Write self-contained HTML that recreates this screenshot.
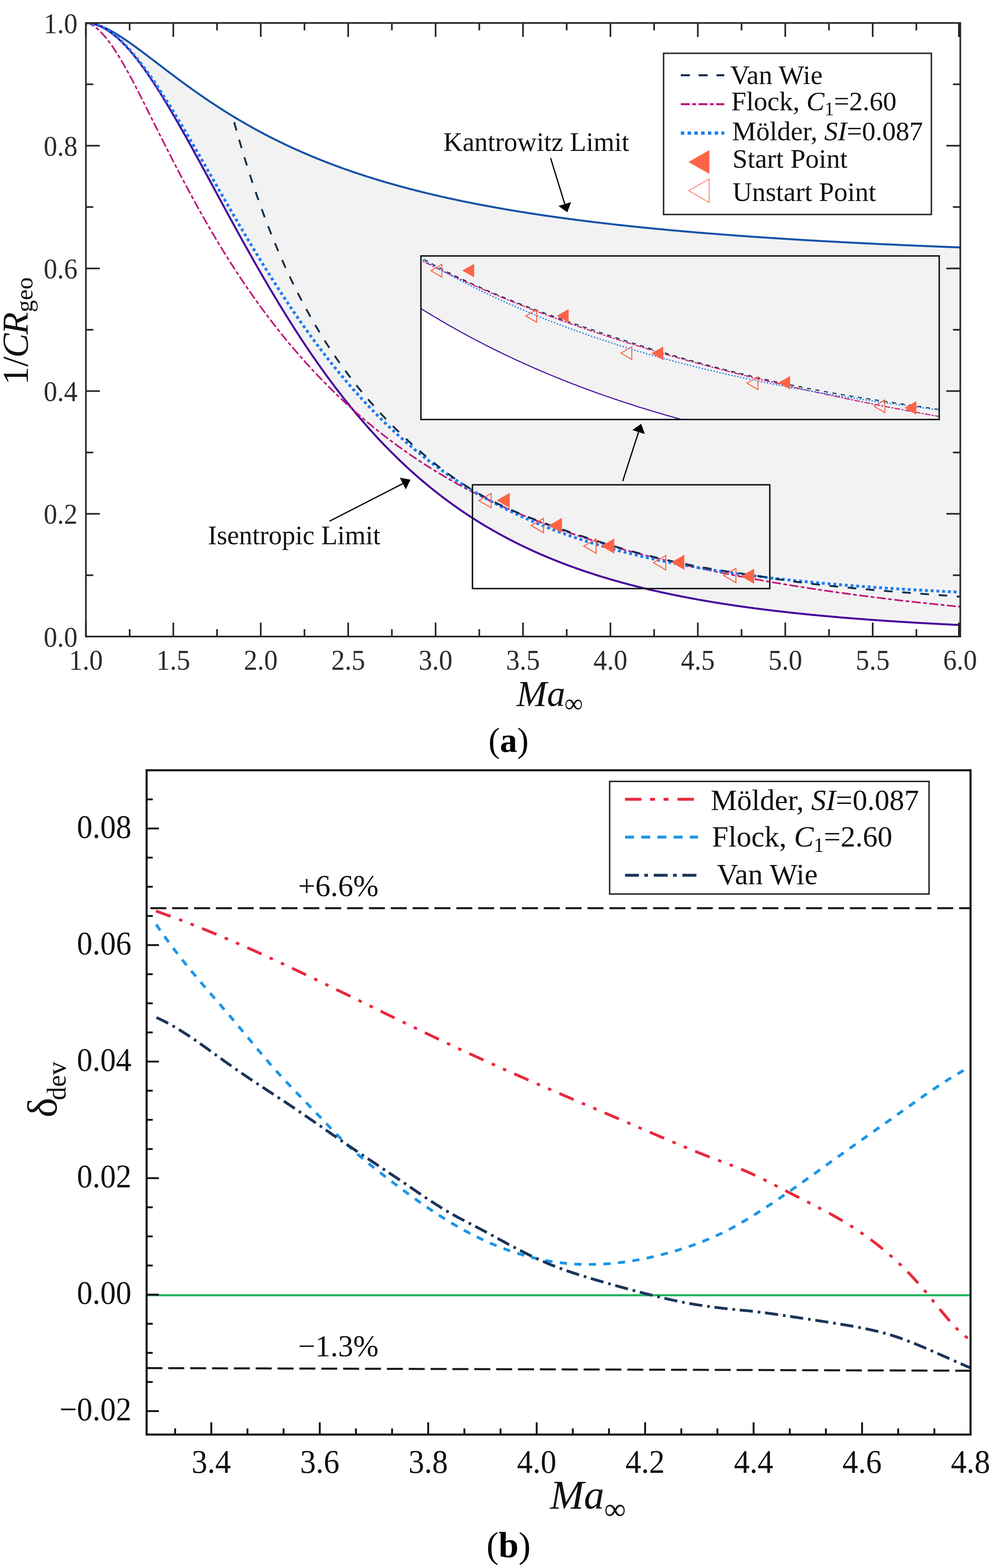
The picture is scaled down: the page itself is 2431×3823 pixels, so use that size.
<!DOCTYPE html><html><head><meta charset="utf-8"><title>Inlet starting limits</title>
<style>html,body{margin:0;padding:0;background:#fff;}svg{display:block;}text{font-family:"Liberation Serif","Times New Roman",serif;}</style></head><body>
<svg width="2431" height="3823" viewBox="0 0 2431 3823">
<rect width="100%" height="100%" fill="#fff"/>
<defs>
<clipPath id="clipA"><rect x="209.5" y="56" width="2132.0" height="1496.0"/></clipPath>
<clipPath id="clipI"><rect x="1026.3" y="624.0" width="1263.8" height="398.79999999999995"/></clipPath>
<clipPath id="clipB"><rect x="357.5" y="1878.0" width="2009.0" height="1619.6999999999998"/></clipPath>
</defs>
<g clip-path="url(#clipA)">
<polygon points="209.5,56.0 211.6,56.0 213.8,56.1 215.9,56.3 218.0,56.5 220.2,56.7 222.3,57.1 224.4,57.4 226.6,57.8 228.7,58.3 230.8,58.8 232.9,59.4 235.1,60.0 237.2,60.6 239.3,61.3 241.5,62.0 243.6,62.8 245.7,63.6 247.9,64.4 250.0,65.3 252.1,66.2 254.3,67.1 256.4,68.1 258.5,69.1 260.7,70.1 262.8,71.1 264.9,72.2 267.1,73.3 269.2,74.4 271.3,75.6 273.4,76.8 275.6,78.0 277.7,79.2 279.8,80.4 282.0,81.7 284.1,83.0 286.2,84.3 288.4,85.6 290.5,86.9 292.6,88.3 294.8,89.7 296.9,91.0 299.0,92.4 301.2,93.9 303.3,95.3 305.4,96.7 307.5,98.2 309.7,99.6 311.8,101.1 313.9,102.6 316.1,104.1 318.2,105.6 320.3,107.1 322.5,108.6 324.6,110.1 326.7,111.7 328.9,113.2 331.0,114.8 333.1,116.3 335.3,117.9 337.4,119.5 339.5,121.1 341.7,122.6 343.8,124.2 345.9,125.8 348.0,127.4 350.2,129.0 352.3,130.6 354.4,132.2 356.6,133.8 358.7,135.4 360.8,137.1 363.0,138.7 365.1,140.3 367.2,141.9 369.4,143.5 371.5,145.2 373.6,146.8 375.8,148.4 377.9,150.0 380.0,151.7 382.2,153.3 384.3,154.9 386.4,156.5 388.5,158.2 390.7,159.8 392.8,161.4 394.9,163.0 397.1,164.7 399.2,166.3 401.3,167.9 403.5,169.5 405.6,171.2 407.7,172.8 409.9,174.4 412.0,176.0 414.1,177.6 416.3,179.2 418.4,180.8 420.5,182.4 422.6,184.0 424.8,185.6 426.9,187.2 429.0,188.8 431.2,190.4 433.3,192.0 435.4,193.6 437.6,195.1 439.7,196.7 441.8,198.3 444.0,199.9 446.1,201.4 448.2,203.0 450.4,204.5 452.5,206.1 454.6,207.7 456.8,209.2 458.9,210.7 461.0,212.3 463.1,213.8 465.3,215.3 467.4,216.9 469.5,218.4 471.7,219.9 473.8,221.4 475.9,222.9 478.1,224.4 480.2,225.9 482.3,227.4 484.5,228.9 486.6,230.4 488.7,231.9 490.9,233.4 493.0,234.8 495.1,236.3 497.3,237.8 499.4,239.2 501.5,240.7 503.6,242.1 505.8,243.6 507.9,245.0 510.0,246.4 512.2,247.9 514.3,249.3 516.4,250.7 518.6,252.1 520.7,253.5 522.8,254.9 525.0,256.3 527.1,257.7 529.2,259.1 531.4,260.5 533.5,261.9 535.6,263.3 537.8,264.6 539.9,266.0 542.0,267.4 544.1,268.7 546.3,270.1 548.4,271.4 550.5,272.8 552.7,274.1 554.8,275.4 556.9,276.7 559.1,278.1 561.2,279.4 563.3,280.7 565.5,282.0 567.6,283.3 569.7,284.6 571.9,285.9 574.0,287.2 576.1,288.4 578.2,289.7 580.4,291.0 582.5,292.2 584.6,293.5 586.8,294.7 588.9,296.0 591.0,297.2 593.2,298.5 595.3,299.7 597.4,300.9 599.6,302.2 601.7,303.4 603.8,304.6 606.0,305.8 608.1,307.0 610.2,308.2 612.4,309.4 614.5,310.6 616.6,311.8 618.7,313.0 620.9,314.1 623.0,315.3 625.1,316.5 627.3,317.6 629.4,318.8 631.5,319.9 633.7,321.1 635.8,322.2 637.9,323.4 640.1,324.5 642.2,325.6 644.3,326.7 646.5,327.9 648.6,329.0 650.7,330.1 652.9,331.2 655.0,332.3 657.1,333.4 659.2,334.5 661.4,335.5 663.5,336.6 665.6,337.7 667.8,338.8 669.9,339.8 672.0,340.9 674.2,342.0 676.3,343.0 678.4,344.1 680.6,345.1 682.7,346.1 684.8,347.2 687.0,348.2 689.1,349.2 691.2,350.3 693.4,351.3 695.5,352.3 697.6,353.3 699.7,354.3 701.9,355.3 704.0,356.3 706.1,357.3 708.3,358.3 710.4,359.3 712.5,360.3 714.7,361.2 716.8,362.2 718.9,363.2 721.1,364.1 723.2,365.1 725.3,366.0 727.5,367.0 729.6,367.9 731.7,368.9 733.8,369.8 736.0,370.8 738.1,371.7 740.2,372.6 742.4,373.5 744.5,374.5 746.6,375.4 748.8,376.3 750.9,377.2 753.0,378.1 755.2,379.0 757.3,379.9 759.4,380.8 761.6,381.7 763.7,382.6 765.8,383.4 768.0,384.3 770.1,385.2 772.2,386.1 774.3,386.9 776.5,387.8 778.6,388.6 780.7,389.5 782.9,390.3 785.0,391.2 787.1,392.0 789.3,392.9 791.4,393.7 793.5,394.6 795.7,395.4 797.8,396.2 799.9,397.0 802.1,397.8 804.2,398.7 806.3,399.5 808.5,400.3 810.6,401.1 812.7,401.9 814.8,402.7 817.0,403.5 819.1,404.3 821.2,405.1 823.4,405.8 825.5,406.6 827.6,407.4 829.8,408.2 831.9,409.0 834.0,409.7 836.2,410.5 838.3,411.3 840.4,412.0 842.6,412.8 844.7,413.5 846.8,414.3 849.0,415.0 851.1,415.8 853.2,416.5 855.3,417.2 857.5,418.0 859.6,418.7 861.7,419.4 863.9,420.2 866.0,420.9 868.1,421.6 870.3,422.3 872.4,423.0 874.5,423.7 876.7,424.4 878.8,425.1 880.9,425.8 883.1,426.5 885.2,427.2 887.3,427.9 889.4,428.6 891.6,429.3 893.7,430.0 895.8,430.7 898.0,431.3 900.1,432.0 902.2,432.7 904.4,433.4 906.5,434.0 908.6,434.7 910.8,435.4 912.9,436.0 915.0,436.7 917.2,437.3 919.3,438.0 921.4,438.6 923.6,439.3 925.7,439.9 927.8,440.5 929.9,441.2 932.1,441.8 934.2,442.4 936.3,443.1 938.5,443.7 940.6,444.3 942.7,445.0 944.9,445.6 947.0,446.2 949.1,446.8 951.3,447.4 953.4,448.0 955.5,448.6 957.7,449.2 959.8,449.8 961.9,450.4 964.1,451.0 966.2,451.6 968.3,452.2 970.4,452.8 972.6,453.4 974.7,454.0 976.8,454.6 979.0,455.1 981.1,455.7 983.2,456.3 985.4,456.9 987.5,457.4 989.6,458.0 991.8,458.6 993.9,459.1 996.0,459.7 998.2,460.3 1000.3,460.8 1002.4,461.4 1004.5,461.9 1006.7,462.5 1008.8,463.0 1010.9,463.6 1013.1,464.1 1015.2,464.7 1017.3,465.2 1019.5,465.7 1021.6,466.3 1023.7,466.8 1025.9,467.3 1028.0,467.9 1030.1,468.4 1032.3,468.9 1034.4,469.4 1036.5,470.0 1038.7,470.5 1040.8,471.0 1042.9,471.5 1045.0,472.0 1047.2,472.5 1049.3,473.0 1051.4,473.5 1053.6,474.0 1055.7,474.6 1057.8,475.1 1060.0,475.5 1062.1,476.0 1064.2,476.5 1066.4,477.0 1068.5,477.5 1070.6,478.0 1072.8,478.5 1074.9,479.0 1077.0,479.5 1079.2,480.0 1081.3,480.4 1083.4,480.9 1085.5,481.4 1087.7,481.9 1089.8,482.3 1091.9,482.8 1094.1,483.3 1096.2,483.7 1098.3,484.2 1100.5,484.7 1102.6,485.1 1104.7,485.6 1106.9,486.0 1109.0,486.5 1111.1,487.0 1113.3,487.4 1115.4,487.9 1117.5,488.3 1119.7,488.8 1121.8,489.2 1123.9,489.6 1126.0,490.1 1128.2,490.5 1130.3,491.0 1132.4,491.4 1134.6,491.8 1136.7,492.3 1138.8,492.7 1141.0,493.1 1143.1,493.6 1145.2,494.0 1147.4,494.4 1149.5,494.8 1151.6,495.3 1153.8,495.7 1155.9,496.1 1158.0,496.5 1160.1,496.9 1162.3,497.4 1164.4,497.8 1166.5,498.2 1168.7,498.6 1170.8,499.0 1172.9,499.4 1175.1,499.8 1177.2,500.2 1179.3,500.6 1181.5,501.0 1183.6,501.4 1185.7,501.8 1187.9,502.2 1190.0,502.6 1192.1,503.0 1194.3,503.4 1196.4,503.8 1198.5,504.2 1200.6,504.6 1202.8,505.0 1204.9,505.3 1207.0,505.7 1209.2,506.1 1211.3,506.5 1213.4,506.9 1215.6,507.2 1217.7,507.6 1219.8,508.0 1222.0,508.4 1224.1,508.7 1226.2,509.1 1228.4,509.5 1230.5,509.9 1232.6,510.2 1234.8,510.6 1236.9,511.0 1239.0,511.3 1241.1,511.7 1243.3,512.0 1245.4,512.4 1247.5,512.8 1249.7,513.1 1251.8,513.5 1253.9,513.8 1256.1,514.2 1258.2,514.5 1260.3,514.9 1262.5,515.2 1264.6,515.6 1266.7,515.9 1268.9,516.3 1271.0,516.6 1273.1,517.0 1275.2,517.3 1277.4,517.6 1279.5,518.0 1281.6,518.3 1283.8,518.7 1285.9,519.0 1288.0,519.3 1290.2,519.7 1292.3,520.0 1294.4,520.3 1296.6,520.7 1298.7,521.0 1300.8,521.3 1303.0,521.6 1305.1,522.0 1307.2,522.3 1309.4,522.6 1311.5,522.9 1313.6,523.3 1315.7,523.6 1317.9,523.9 1320.0,524.2 1322.1,524.5 1324.3,524.8 1326.4,525.2 1328.5,525.5 1330.7,525.8 1332.8,526.1 1334.9,526.4 1337.1,526.7 1339.2,527.0 1341.3,527.3 1343.5,527.6 1345.6,527.9 1347.7,528.2 1349.9,528.5 1352.0,528.8 1354.1,529.1 1356.2,529.4 1358.4,529.7 1360.5,530.0 1362.6,530.3 1364.8,530.6 1366.9,530.9 1369.0,531.2 1371.2,531.5 1373.3,531.8 1375.4,532.1 1377.6,532.4 1379.7,532.7 1381.8,532.9 1384.0,533.2 1386.1,533.5 1388.2,533.8 1390.4,534.1 1392.5,534.4 1394.6,534.7 1396.7,534.9 1398.9,535.2 1401.0,535.5 1403.1,535.8 1405.3,536.0 1407.4,536.3 1409.5,536.6 1411.7,536.9 1413.8,537.1 1415.9,537.4 1418.1,537.7 1420.2,538.0 1422.3,538.2 1424.5,538.5 1426.6,538.8 1428.7,539.0 1430.8,539.3 1433.0,539.6 1435.1,539.8 1437.2,540.1 1439.4,540.3 1441.5,540.6 1443.6,540.9 1445.8,541.1 1447.9,541.4 1450.0,541.6 1452.2,541.9 1454.3,542.2 1456.4,542.4 1458.6,542.7 1460.7,542.9 1462.8,543.2 1465.0,543.4 1467.1,543.7 1469.2,543.9 1471.3,544.2 1473.5,544.4 1475.6,544.7 1477.7,544.9 1479.9,545.2 1482.0,545.4 1484.1,545.7 1486.3,545.9 1488.4,546.1 1490.5,546.4 1492.7,546.6 1494.8,546.9 1496.9,547.1 1499.1,547.3 1501.2,547.6 1503.3,547.8 1505.5,548.1 1507.6,548.3 1509.7,548.5 1511.8,548.8 1514.0,549.0 1516.1,549.2 1518.2,549.5 1520.4,549.7 1522.5,549.9 1524.6,550.2 1526.8,550.4 1528.9,550.6 1531.0,550.8 1533.2,551.1 1535.3,551.3 1537.4,551.5 1539.6,551.8 1541.7,552.0 1543.8,552.2 1546.0,552.4 1548.1,552.6 1550.2,552.9 1552.3,553.1 1554.5,553.3 1556.6,553.5 1558.7,553.7 1560.9,554.0 1563.0,554.2 1565.1,554.4 1567.3,554.6 1569.4,554.8 1571.5,555.0 1573.7,555.3 1575.8,555.5 1577.9,555.7 1580.1,555.9 1582.2,556.1 1584.3,556.3 1586.4,556.5 1588.6,556.7 1590.7,556.9 1592.8,557.2 1595.0,557.4 1597.1,557.6 1599.2,557.8 1601.4,558.0 1603.5,558.2 1605.6,558.4 1607.8,558.6 1609.9,558.8 1612.0,559.0 1614.2,559.2 1616.3,559.4 1618.4,559.6 1620.6,559.8 1622.7,560.0 1624.8,560.2 1626.9,560.4 1629.1,560.6 1631.2,560.8 1633.3,561.0 1635.5,561.2 1637.6,561.4 1639.7,561.6 1641.9,561.8 1644.0,562.0 1646.1,562.1 1648.3,562.3 1650.4,562.5 1652.5,562.7 1654.7,562.9 1656.8,563.1 1658.9,563.3 1661.1,563.5 1663.2,563.7 1665.3,563.9 1667.4,564.0 1669.6,564.2 1671.7,564.4 1673.8,564.6 1676.0,564.8 1678.1,565.0 1680.2,565.2 1682.4,565.3 1684.5,565.5 1686.6,565.7 1688.8,565.9 1690.9,566.1 1693.0,566.2 1695.2,566.4 1697.3,566.6 1699.4,566.8 1701.5,567.0 1703.7,567.1 1705.8,567.3 1707.9,567.5 1710.1,567.7 1712.2,567.8 1714.3,568.0 1716.5,568.2 1718.6,568.4 1720.7,568.5 1722.9,568.7 1725.0,568.9 1727.1,569.1 1729.3,569.2 1731.4,569.4 1733.5,569.6 1735.7,569.7 1737.8,569.9 1739.9,570.1 1742.0,570.2 1744.2,570.4 1746.3,570.6 1748.4,570.7 1750.6,570.9 1752.7,571.1 1754.8,571.2 1757.0,571.4 1759.1,571.6 1761.2,571.7 1763.4,571.9 1765.5,572.1 1767.6,572.2 1769.8,572.4 1771.9,572.6 1774.0,572.7 1776.2,572.9 1778.3,573.0 1780.4,573.2 1782.5,573.4 1784.7,573.5 1786.8,573.7 1788.9,573.8 1791.1,574.0 1793.2,574.1 1795.3,574.3 1797.5,574.5 1799.6,574.6 1801.7,574.8 1803.9,574.9 1806.0,575.1 1808.1,575.2 1810.3,575.4 1812.4,575.5 1814.5,575.7 1816.7,575.8 1818.8,576.0 1820.9,576.1 1823.0,576.3 1825.2,576.4 1827.3,576.6 1829.4,576.7 1831.6,576.9 1833.7,577.0 1835.8,577.2 1838.0,577.3 1840.1,577.5 1842.2,577.6 1844.4,577.8 1846.5,577.9 1848.6,578.1 1850.8,578.2 1852.9,578.4 1855.0,578.5 1857.1,578.7 1859.3,578.8 1861.4,578.9 1863.5,579.1 1865.7,579.2 1867.8,579.4 1869.9,579.5 1872.1,579.7 1874.2,579.8 1876.3,579.9 1878.5,580.1 1880.6,580.2 1882.7,580.4 1884.9,580.5 1887.0,580.6 1889.1,580.8 1891.3,580.9 1893.4,581.0 1895.5,581.2 1897.6,581.3 1899.8,581.5 1901.9,581.6 1904.0,581.7 1906.2,581.9 1908.3,582.0 1910.4,582.1 1912.6,582.3 1914.7,582.4 1916.8,582.5 1919.0,582.7 1921.1,582.8 1923.2,582.9 1925.4,583.1 1927.5,583.2 1929.6,583.3 1931.8,583.5 1933.9,583.6 1936.0,583.7 1938.1,583.9 1940.3,584.0 1942.4,584.1 1944.5,584.2 1946.7,584.4 1948.8,584.5 1950.9,584.6 1953.1,584.8 1955.2,584.9 1957.3,585.0 1959.5,585.1 1961.6,585.3 1963.7,585.4 1965.9,585.5 1968.0,585.6 1970.1,585.8 1972.3,585.9 1974.4,586.0 1976.5,586.1 1978.6,586.3 1980.8,586.4 1982.9,586.5 1985.0,586.6 1987.2,586.7 1989.3,586.9 1991.4,587.0 1993.6,587.1 1995.7,587.2 1997.8,587.4 2000.0,587.5 2002.1,587.6 2004.2,587.7 2006.4,587.8 2008.5,588.0 2010.6,588.1 2012.7,588.2 2014.9,588.3 2017.0,588.4 2019.1,588.5 2021.3,588.7 2023.4,588.8 2025.5,588.9 2027.7,589.0 2029.8,589.1 2031.9,589.2 2034.1,589.4 2036.2,589.5 2038.3,589.6 2040.5,589.7 2042.6,589.8 2044.7,589.9 2046.9,590.0 2049.0,590.2 2051.1,590.3 2053.2,590.4 2055.4,590.5 2057.5,590.6 2059.6,590.7 2061.8,590.8 2063.9,590.9 2066.0,591.0 2068.2,591.2 2070.3,591.3 2072.4,591.4 2074.6,591.5 2076.7,591.6 2078.8,591.7 2081.0,591.8 2083.1,591.9 2085.2,592.0 2087.4,592.1 2089.5,592.2 2091.6,592.4 2093.7,592.5 2095.9,592.6 2098.0,592.7 2100.1,592.8 2102.3,592.9 2104.4,593.0 2106.5,593.1 2108.7,593.2 2110.8,593.3 2112.9,593.4 2115.1,593.5 2117.2,593.6 2119.3,593.7 2121.5,593.8 2123.6,593.9 2125.7,594.0 2127.9,594.1 2130.0,594.2 2132.1,594.3 2134.2,594.5 2136.4,594.6 2138.5,594.7 2140.6,594.8 2142.8,594.9 2144.9,595.0 2147.0,595.1 2149.2,595.2 2151.3,595.3 2153.4,595.4 2155.6,595.5 2157.7,595.6 2159.8,595.7 2162.0,595.8 2164.1,595.9 2166.2,596.0 2168.3,596.1 2170.5,596.2 2172.6,596.2 2174.7,596.3 2176.9,596.4 2179.0,596.5 2181.1,596.6 2183.3,596.7 2185.4,596.8 2187.5,596.9 2189.7,597.0 2191.8,597.1 2193.9,597.2 2196.1,597.3 2198.2,597.4 2200.3,597.5 2202.5,597.6 2204.6,597.7 2206.7,597.8 2208.8,597.9 2211.0,598.0 2213.1,598.1 2215.2,598.2 2217.4,598.2 2219.5,598.3 2221.6,598.4 2223.8,598.5 2225.9,598.6 2228.0,598.7 2230.2,598.8 2232.3,598.9 2234.4,599.0 2236.6,599.1 2238.7,599.2 2240.8,599.3 2243.0,599.3 2245.1,599.4 2247.2,599.5 2249.3,599.6 2251.5,599.7 2253.6,599.8 2255.7,599.9 2257.9,600.0 2260.0,600.1 2262.1,600.1 2264.3,600.2 2266.4,600.3 2268.5,600.4 2270.7,600.5 2272.8,600.6 2274.9,600.7 2277.1,600.8 2279.2,600.8 2281.3,600.9 2283.4,601.0 2285.6,601.1 2287.7,601.2 2289.8,601.3 2292.0,601.4 2294.1,601.4 2296.2,601.5 2298.4,601.6 2300.5,601.7 2302.6,601.8 2304.8,601.9 2306.9,601.9 2309.0,602.0 2311.2,602.1 2313.3,602.2 2315.4,602.3 2317.6,602.4 2319.7,602.4 2321.8,602.5 2323.9,602.6 2326.1,602.7 2328.2,602.8 2330.3,602.9 2332.5,602.9 2334.6,603.0 2336.7,603.1 2338.9,603.2 2341.0,603.3 2341.0,1523.9 2338.9,1523.8 2336.7,1523.7 2334.6,1523.6 2332.5,1523.5 2330.3,1523.4 2328.2,1523.3 2326.1,1523.2 2323.9,1523.1 2321.8,1523.0 2319.7,1522.8 2317.6,1522.7 2315.4,1522.6 2313.3,1522.5 2311.2,1522.4 2309.0,1522.3 2306.9,1522.2 2304.8,1522.1 2302.6,1522.0 2300.5,1521.9 2298.4,1521.8 2296.2,1521.7 2294.1,1521.6 2292.0,1521.5 2289.8,1521.3 2287.7,1521.2 2285.6,1521.1 2283.4,1521.0 2281.3,1520.9 2279.2,1520.8 2277.1,1520.7 2274.9,1520.6 2272.8,1520.4 2270.7,1520.3 2268.5,1520.2 2266.4,1520.1 2264.3,1520.0 2262.1,1519.9 2260.0,1519.7 2257.9,1519.6 2255.7,1519.5 2253.6,1519.4 2251.5,1519.3 2249.3,1519.2 2247.2,1519.0 2245.1,1518.9 2243.0,1518.8 2240.8,1518.7 2238.7,1518.6 2236.6,1518.4 2234.4,1518.3 2232.3,1518.2 2230.2,1518.1 2228.0,1517.9 2225.9,1517.8 2223.8,1517.7 2221.6,1517.6 2219.5,1517.4 2217.4,1517.3 2215.2,1517.2 2213.1,1517.0 2211.0,1516.9 2208.8,1516.8 2206.7,1516.7 2204.6,1516.5 2202.5,1516.4 2200.3,1516.3 2198.2,1516.1 2196.1,1516.0 2193.9,1515.9 2191.8,1515.7 2189.7,1515.6 2187.5,1515.5 2185.4,1515.3 2183.3,1515.2 2181.1,1515.0 2179.0,1514.9 2176.9,1514.8 2174.7,1514.6 2172.6,1514.5 2170.5,1514.4 2168.3,1514.2 2166.2,1514.1 2164.1,1513.9 2162.0,1513.8 2159.8,1513.6 2157.7,1513.5 2155.6,1513.4 2153.4,1513.2 2151.3,1513.1 2149.2,1512.9 2147.0,1512.8 2144.9,1512.6 2142.8,1512.5 2140.6,1512.3 2138.5,1512.2 2136.4,1512.0 2134.2,1511.9 2132.1,1511.7 2130.0,1511.6 2127.9,1511.4 2125.7,1511.3 2123.6,1511.1 2121.5,1511.0 2119.3,1510.8 2117.2,1510.7 2115.1,1510.5 2112.9,1510.3 2110.8,1510.2 2108.7,1510.0 2106.5,1509.9 2104.4,1509.7 2102.3,1509.5 2100.1,1509.4 2098.0,1509.2 2095.9,1509.1 2093.7,1508.9 2091.6,1508.7 2089.5,1508.6 2087.4,1508.4 2085.2,1508.2 2083.1,1508.1 2081.0,1507.9 2078.8,1507.7 2076.7,1507.6 2074.6,1507.4 2072.4,1507.2 2070.3,1507.0 2068.2,1506.9 2066.0,1506.7 2063.9,1506.5 2061.8,1506.3 2059.6,1506.2 2057.5,1506.0 2055.4,1505.8 2053.2,1505.6 2051.1,1505.5 2049.0,1505.3 2046.9,1505.1 2044.7,1504.9 2042.6,1504.7 2040.5,1504.5 2038.3,1504.4 2036.2,1504.2 2034.1,1504.0 2031.9,1503.8 2029.8,1503.6 2027.7,1503.4 2025.5,1503.2 2023.4,1503.1 2021.3,1502.9 2019.1,1502.7 2017.0,1502.5 2014.9,1502.3 2012.7,1502.1 2010.6,1501.9 2008.5,1501.7 2006.4,1501.5 2004.2,1501.3 2002.1,1501.1 2000.0,1500.9 1997.8,1500.7 1995.7,1500.5 1993.6,1500.3 1991.4,1500.1 1989.3,1499.9 1987.2,1499.7 1985.0,1499.5 1982.9,1499.3 1980.8,1499.1 1978.6,1498.9 1976.5,1498.7 1974.4,1498.5 1972.3,1498.2 1970.1,1498.0 1968.0,1497.8 1965.9,1497.6 1963.7,1497.4 1961.6,1497.2 1959.5,1497.0 1957.3,1496.7 1955.2,1496.5 1953.1,1496.3 1950.9,1496.1 1948.8,1495.9 1946.7,1495.6 1944.5,1495.4 1942.4,1495.2 1940.3,1495.0 1938.1,1494.7 1936.0,1494.5 1933.9,1494.3 1931.8,1494.0 1929.6,1493.8 1927.5,1493.6 1925.4,1493.3 1923.2,1493.1 1921.1,1492.9 1919.0,1492.6 1916.8,1492.4 1914.7,1492.2 1912.6,1491.9 1910.4,1491.7 1908.3,1491.4 1906.2,1491.2 1904.0,1490.9 1901.9,1490.7 1899.8,1490.5 1897.6,1490.2 1895.5,1490.0 1893.4,1489.7 1891.3,1489.5 1889.1,1489.2 1887.0,1489.0 1884.9,1488.7 1882.7,1488.4 1880.6,1488.2 1878.5,1487.9 1876.3,1487.7 1874.2,1487.4 1872.1,1487.1 1869.9,1486.9 1867.8,1486.6 1865.7,1486.4 1863.5,1486.1 1861.4,1485.8 1859.3,1485.5 1857.1,1485.3 1855.0,1485.0 1852.9,1484.7 1850.8,1484.5 1848.6,1484.2 1846.5,1483.9 1844.4,1483.6 1842.2,1483.3 1840.1,1483.1 1838.0,1482.8 1835.8,1482.5 1833.7,1482.2 1831.6,1481.9 1829.4,1481.6 1827.3,1481.4 1825.2,1481.1 1823.0,1480.8 1820.9,1480.5 1818.8,1480.2 1816.7,1479.9 1814.5,1479.6 1812.4,1479.3 1810.3,1479.0 1808.1,1478.7 1806.0,1478.4 1803.9,1478.1 1801.7,1477.8 1799.6,1477.5 1797.5,1477.2 1795.3,1476.9 1793.2,1476.5 1791.1,1476.2 1788.9,1475.9 1786.8,1475.6 1784.7,1475.3 1782.5,1475.0 1780.4,1474.7 1778.3,1474.3 1776.2,1474.0 1774.0,1473.7 1771.9,1473.4 1769.8,1473.0 1767.6,1472.7 1765.5,1472.4 1763.4,1472.0 1761.2,1471.7 1759.1,1471.4 1757.0,1471.0 1754.8,1470.7 1752.7,1470.3 1750.6,1470.0 1748.4,1469.7 1746.3,1469.3 1744.2,1469.0 1742.0,1468.6 1739.9,1468.3 1737.8,1467.9 1735.7,1467.6 1733.5,1467.2 1731.4,1466.9 1729.3,1466.5 1727.1,1466.1 1725.0,1465.8 1722.9,1465.4 1720.7,1465.0 1718.6,1464.7 1716.5,1464.3 1714.3,1463.9 1712.2,1463.6 1710.1,1463.2 1707.9,1462.8 1705.8,1462.4 1703.7,1462.1 1701.5,1461.7 1699.4,1461.3 1697.3,1460.9 1695.2,1460.5 1693.0,1460.1 1690.9,1459.7 1688.8,1459.3 1686.6,1459.0 1684.5,1458.6 1682.4,1458.2 1680.2,1457.8 1678.1,1457.4 1676.0,1456.9 1673.8,1456.5 1671.7,1456.1 1669.6,1455.7 1667.4,1455.3 1665.3,1454.9 1663.2,1454.5 1661.1,1454.1 1658.9,1453.6 1656.8,1453.2 1654.7,1452.8 1652.5,1452.4 1650.4,1451.9 1648.3,1451.5 1646.1,1451.1 1644.0,1450.6 1641.9,1450.2 1639.7,1449.8 1637.6,1449.3 1635.5,1448.9 1633.3,1448.4 1631.2,1448.0 1629.1,1447.5 1626.9,1447.1 1624.8,1446.6 1622.7,1446.2 1620.6,1445.7 1618.4,1445.3 1616.3,1444.8 1614.2,1444.3 1612.0,1443.9 1609.9,1443.4 1607.8,1442.9 1605.6,1442.4 1603.5,1442.0 1601.4,1441.5 1599.2,1441.0 1597.1,1440.5 1595.0,1440.0 1592.8,1439.6 1590.7,1439.1 1588.6,1438.6 1586.4,1438.1 1584.3,1437.6 1582.2,1437.1 1580.1,1436.6 1577.9,1436.1 1575.8,1435.6 1573.7,1435.0 1571.5,1434.5 1569.4,1434.0 1567.3,1433.5 1565.1,1433.0 1563.0,1432.5 1560.9,1431.9 1558.7,1431.4 1556.6,1430.9 1554.5,1430.3 1552.3,1429.8 1550.2,1429.3 1548.1,1428.7 1546.0,1428.2 1543.8,1427.6 1541.7,1427.1 1539.6,1426.5 1537.4,1426.0 1535.3,1425.4 1533.2,1424.9 1531.0,1424.3 1528.9,1423.7 1526.8,1423.2 1524.6,1422.6 1522.5,1422.0 1520.4,1421.4 1518.2,1420.9 1516.1,1420.3 1514.0,1419.7 1511.8,1419.1 1509.7,1418.5 1507.6,1417.9 1505.5,1417.3 1503.3,1416.7 1501.2,1416.1 1499.1,1415.5 1496.9,1414.9 1494.8,1414.3 1492.7,1413.7 1490.5,1413.1 1488.4,1412.4 1486.3,1411.8 1484.1,1411.2 1482.0,1410.5 1479.9,1409.9 1477.7,1409.3 1475.6,1408.6 1473.5,1408.0 1471.3,1407.3 1469.2,1406.7 1467.1,1406.0 1465.0,1405.4 1462.8,1404.7 1460.7,1404.1 1458.6,1403.4 1456.4,1402.7 1454.3,1402.1 1452.2,1401.4 1450.0,1400.7 1447.9,1400.0 1445.8,1399.3 1443.6,1398.6 1441.5,1397.9 1439.4,1397.3 1437.2,1396.6 1435.1,1395.8 1433.0,1395.1 1430.8,1394.4 1428.7,1393.7 1426.6,1393.0 1424.5,1392.3 1422.3,1391.6 1420.2,1390.8 1418.1,1390.1 1415.9,1389.4 1413.8,1388.6 1411.7,1387.9 1409.5,1387.1 1407.4,1386.4 1405.3,1385.6 1403.1,1384.9 1401.0,1384.1 1398.9,1383.3 1396.7,1382.6 1394.6,1381.8 1392.5,1381.0 1390.4,1380.2 1388.2,1379.4 1386.1,1378.7 1384.0,1377.9 1381.8,1377.1 1379.7,1376.3 1377.6,1375.5 1375.4,1374.6 1373.3,1373.8 1371.2,1373.0 1369.0,1372.2 1366.9,1371.4 1364.8,1370.5 1362.6,1369.7 1360.5,1368.9 1358.4,1368.0 1356.2,1367.2 1354.1,1366.3 1352.0,1365.5 1349.9,1364.6 1347.7,1363.8 1345.6,1362.9 1343.5,1362.0 1341.3,1361.1 1339.2,1360.3 1337.1,1359.4 1334.9,1358.5 1332.8,1357.6 1330.7,1356.7 1328.5,1355.8 1326.4,1354.9 1324.3,1354.0 1322.1,1353.0 1320.0,1352.1 1317.9,1351.2 1315.7,1350.3 1313.6,1349.3 1311.5,1348.4 1309.4,1347.4 1307.2,1346.5 1305.1,1345.5 1303.0,1344.6 1300.8,1343.6 1298.7,1342.6 1296.6,1341.7 1294.4,1340.7 1292.3,1339.7 1290.2,1338.7 1288.0,1337.7 1285.9,1336.7 1283.8,1335.7 1281.6,1334.7 1279.5,1333.7 1277.4,1332.7 1275.2,1331.7 1273.1,1330.6 1271.0,1329.6 1268.9,1328.6 1266.7,1327.5 1264.6,1326.5 1262.5,1325.4 1260.3,1324.4 1258.2,1323.3 1256.1,1322.2 1253.9,1321.1 1251.8,1320.1 1249.7,1319.0 1247.5,1317.9 1245.4,1316.8 1243.3,1315.7 1241.1,1314.6 1239.0,1313.5 1236.9,1312.3 1234.8,1311.2 1232.6,1310.1 1230.5,1308.9 1228.4,1307.8 1226.2,1306.6 1224.1,1305.5 1222.0,1304.3 1219.8,1303.2 1217.7,1302.0 1215.6,1300.8 1213.4,1299.6 1211.3,1298.4 1209.2,1297.2 1207.0,1296.0 1204.9,1294.8 1202.8,1293.6 1200.6,1292.4 1198.5,1291.2 1196.4,1289.9 1194.3,1288.7 1192.1,1287.5 1190.0,1286.2 1187.9,1285.0 1185.7,1283.7 1183.6,1282.4 1181.5,1281.2 1179.3,1279.9 1177.2,1278.6 1175.1,1277.3 1172.9,1276.0 1170.8,1274.7 1168.7,1273.4 1166.5,1272.0 1164.4,1270.7 1162.3,1269.4 1160.1,1268.0 1158.0,1266.7 1155.9,1265.3 1153.8,1264.0 1151.6,1262.6 1149.5,1261.2 1147.4,1259.9 1145.2,1258.5 1143.1,1257.1 1141.0,1255.7 1138.8,1254.3 1136.7,1252.9 1134.6,1251.4 1132.4,1250.0 1130.3,1248.6 1128.2,1247.1 1126.0,1245.7 1123.9,1244.2 1121.8,1242.8 1119.7,1241.3 1117.5,1239.8 1115.4,1238.3 1113.3,1236.8 1111.1,1235.3 1109.0,1233.8 1106.9,1232.3 1104.7,1230.8 1102.6,1229.3 1100.5,1227.7 1098.3,1226.2 1096.2,1224.6 1094.1,1223.1 1091.9,1221.5 1089.8,1219.9 1087.7,1218.3 1085.5,1216.7 1083.4,1215.1 1081.3,1213.5 1079.2,1211.9 1077.0,1210.3 1074.9,1208.7 1072.8,1207.0 1070.6,1205.4 1068.5,1203.7 1066.4,1202.1 1064.2,1200.4 1062.1,1198.7 1060.0,1197.0 1057.8,1195.3 1055.7,1193.6 1053.6,1191.9 1051.4,1190.2 1049.3,1188.5 1047.2,1186.7 1045.0,1185.0 1042.9,1183.2 1040.8,1181.5 1038.7,1179.7 1036.5,1177.9 1034.4,1176.1 1032.3,1174.4 1030.1,1172.6 1028.0,1170.7 1025.9,1168.9 1023.7,1167.1 1021.6,1165.3 1019.5,1163.4 1017.3,1161.5 1015.2,1159.7 1013.1,1157.8 1010.9,1155.9 1008.8,1154.0 1006.7,1152.1 1004.5,1150.2 1002.4,1148.3 1000.3,1146.4 998.2,1144.5 996.0,1142.5 993.9,1140.6 991.8,1138.6 989.6,1136.6 987.5,1134.6 985.4,1132.6 983.2,1130.6 981.1,1128.6 979.0,1126.6 976.8,1124.6 974.7,1122.5 972.6,1120.5 970.4,1118.4 968.3,1116.4 966.2,1114.3 964.1,1112.2 961.9,1110.1 959.8,1108.0 957.7,1105.9 955.5,1103.8 953.4,1101.6 951.3,1099.5 949.1,1097.4 947.0,1095.2 944.9,1093.0 942.7,1090.8 940.6,1088.6 938.5,1086.4 936.3,1084.2 934.2,1082.0 932.1,1079.8 929.9,1077.5 927.8,1075.3 925.7,1073.0 923.6,1070.7 921.4,1068.5 919.3,1066.2 917.2,1063.9 915.0,1061.6 912.9,1059.2 910.8,1056.9 908.6,1054.5 906.5,1052.2 904.4,1049.8 902.2,1047.5 900.1,1045.1 898.0,1042.7 895.8,1040.3 893.7,1037.8 891.6,1035.4 889.4,1033.0 887.3,1030.5 885.2,1028.1 883.1,1025.6 880.9,1023.1 878.8,1020.6 876.7,1018.1 874.5,1015.6 872.4,1013.1 870.3,1010.6 868.1,1008.0 866.0,1005.5 863.9,1002.9 861.7,1000.3 859.6,997.7 857.5,995.1 855.3,992.5 853.2,989.9 851.1,987.3 849.0,984.6 846.8,982.0 844.7,979.3 842.6,976.6 840.4,973.9 838.3,971.3 836.2,968.5 834.0,965.8 831.9,963.1 829.8,960.4 827.6,957.6 825.5,954.8 823.4,952.1 821.2,949.3 819.1,946.5 817.0,943.7 814.8,940.9 812.7,938.0 810.6,935.2 808.5,932.3 806.3,929.5 804.2,926.6 802.1,923.7 799.9,920.8 797.8,917.9 795.7,915.0 793.5,912.1 791.4,909.1 789.3,906.2 787.1,903.2 785.0,900.2 782.9,897.2 780.7,894.2 778.6,891.2 776.5,888.2 774.3,885.2 772.2,882.1 770.1,879.1 768.0,876.0 765.8,873.0 763.7,869.9 761.6,866.8 759.4,863.7 757.3,860.5 755.2,857.4 753.0,854.3 750.9,851.1 748.8,848.0 746.6,844.8 744.5,841.6 742.4,838.4 740.2,835.2 738.1,832.0 736.0,828.8 733.8,825.5 731.7,822.3 729.6,819.0 727.5,815.7 725.3,812.5 723.2,809.2 721.1,805.9 718.9,802.5 716.8,799.2 714.7,795.9 712.5,792.5 710.4,789.2 708.3,785.8 706.1,782.4 704.0,779.0 701.9,775.6 699.7,772.2 697.6,768.8 695.5,765.4 693.4,762.0 691.2,758.5 689.1,755.0 687.0,751.6 684.8,748.1 682.7,744.6 680.6,741.1 678.4,737.6 676.3,734.1 674.2,730.6 672.0,727.0 669.9,723.5 667.8,719.9 665.6,716.4 663.5,712.8 661.4,709.2 659.2,705.6 657.1,702.0 655.0,698.4 652.9,694.8 650.7,691.1 648.6,687.5 646.5,683.8 644.3,680.2 642.2,676.5 640.1,672.9 637.9,669.2 635.8,665.5 633.7,661.8 631.5,658.1 629.4,654.4 627.3,650.6 625.1,646.9 623.0,643.2 620.9,639.4 618.7,635.7 616.6,631.9 614.5,628.1 612.4,624.4 610.2,620.6 608.1,616.8 606.0,613.0 603.8,609.2 601.7,605.4 599.6,601.6 597.4,597.8 595.3,593.9 593.2,590.1 591.0,586.3 588.9,582.4 586.8,578.6 584.6,574.7 582.5,570.8 580.4,567.0 578.2,563.1 576.1,559.2 574.0,555.3 571.9,551.5 569.7,547.6 567.6,543.7 565.5,539.8 563.3,535.9 561.2,532.0 559.1,528.1 556.9,524.1 554.8,520.2 552.7,516.3 550.5,512.4 548.4,508.4 546.3,504.5 544.1,500.6 542.0,496.7 539.9,492.7 537.8,488.8 535.6,484.8 533.5,480.9 531.4,477.0 529.2,473.0 527.1,469.1 525.0,465.1 522.8,461.2 520.7,457.2 518.6,453.3 516.4,449.4 514.3,445.4 512.2,441.5 510.0,437.5 507.9,433.6 505.8,429.6 503.6,425.7 501.5,421.8 499.4,417.8 497.3,413.9 495.1,410.0 493.0,406.1 490.9,402.1 488.7,398.2 486.6,394.3 484.5,390.4 482.3,386.5 480.2,382.6 478.1,378.7 475.9,374.8 473.8,370.9 471.7,367.0 469.5,363.2 467.4,359.3 465.3,355.4 463.1,351.6 461.0,347.7 458.9,343.9 456.8,340.1 454.6,336.2 452.5,332.4 450.4,328.6 448.2,324.8 446.1,321.0 444.0,317.2 441.8,313.5 439.7,309.7 437.6,306.0 435.4,302.2 433.3,298.5 431.2,294.8 429.0,291.1 426.9,287.4 424.8,283.7 422.6,280.1 420.5,276.4 418.4,272.8 416.3,269.2 414.1,265.6 412.0,262.0 409.9,258.4 407.7,254.8 405.6,251.3 403.5,247.8 401.3,244.3 399.2,240.8 397.1,237.3 394.9,233.8 392.8,230.4 390.7,227.0 388.5,223.6 386.4,220.2 384.3,216.9 382.2,213.5 380.0,210.2 377.9,206.9 375.8,203.6 373.6,200.4 371.5,197.2 369.4,194.0 367.2,190.8 365.1,187.6 363.0,184.5 360.8,181.4 358.7,178.3 356.6,175.3 354.4,172.2 352.3,169.2 350.2,166.3 348.0,163.3 345.9,160.4 343.8,157.5 341.7,154.7 339.5,151.8 337.4,149.0 335.3,146.3 333.1,143.5 331.0,140.8 328.9,138.1 326.7,135.5 324.6,132.9 322.5,130.3 320.3,127.8 318.2,125.3 316.1,122.8 313.9,120.4 311.8,118.0 309.7,115.6 307.5,113.3 305.4,111.0 303.3,108.8 301.2,106.6 299.0,104.4 296.9,102.3 294.8,100.2 292.6,98.1 290.5,96.1 288.4,94.2 286.2,92.3 284.1,90.4 282.0,88.5 279.8,86.8 277.7,85.0 275.6,83.3 273.4,81.7 271.3,80.1 269.2,78.5 267.1,77.0 264.9,75.5 262.8,74.1 260.7,72.7 258.5,71.4 256.4,70.1 254.3,68.9 252.1,67.8 250.0,66.6 247.9,65.6 245.7,64.6 243.6,63.6 241.5,62.7 239.3,61.9 237.2,61.1 235.1,60.3 232.9,59.7 230.8,59.0 228.7,58.5 226.6,58.0 224.4,57.5 222.3,57.1 220.2,56.8 218.0,56.5 215.9,56.3 213.8,56.1 211.6,56.0 209.5,56.0" fill="#f2f2f2"/>
<polyline points="209.5,56.0 211.6,56.0 213.8,56.1 215.9,56.3 218.0,56.5 220.2,56.7 222.3,57.1 224.4,57.4 226.6,57.8 228.7,58.3 230.8,58.8 232.9,59.4 235.1,60.0 237.2,60.6 239.3,61.3 241.5,62.0 243.6,62.8 245.7,63.6 247.9,64.4 250.0,65.3 252.1,66.2 254.3,67.1 256.4,68.1 258.5,69.1 260.7,70.1 262.8,71.1 264.9,72.2 267.1,73.3 269.2,74.4 271.3,75.6 273.4,76.8 275.6,78.0 277.7,79.2 279.8,80.4 282.0,81.7 284.1,83.0 286.2,84.3 288.4,85.6 290.5,86.9 292.6,88.3 294.8,89.7 296.9,91.0 299.0,92.4 301.2,93.9 303.3,95.3 305.4,96.7 307.5,98.2 309.7,99.6 311.8,101.1 313.9,102.6 316.1,104.1 318.2,105.6 320.3,107.1 322.5,108.6 324.6,110.1 326.7,111.7 328.9,113.2 331.0,114.8 333.1,116.3 335.3,117.9 337.4,119.5 339.5,121.1 341.7,122.6 343.8,124.2 345.9,125.8 348.0,127.4 350.2,129.0 352.3,130.6 354.4,132.2 356.6,133.8 358.7,135.4 360.8,137.1 363.0,138.7 365.1,140.3 367.2,141.9 369.4,143.5 371.5,145.2 373.6,146.8 375.8,148.4 377.9,150.0 380.0,151.7 382.2,153.3 384.3,154.9 386.4,156.5 388.5,158.2 390.7,159.8 392.8,161.4 394.9,163.0 397.1,164.7 399.2,166.3 401.3,167.9 403.5,169.5 405.6,171.2 407.7,172.8 409.9,174.4 412.0,176.0 414.1,177.6 416.3,179.2 418.4,180.8 420.5,182.4 422.6,184.0 424.8,185.6 426.9,187.2 429.0,188.8 431.2,190.4 433.3,192.0 435.4,193.6 437.6,195.1 439.7,196.7 441.8,198.3 444.0,199.9 446.1,201.4 448.2,203.0 450.4,204.5 452.5,206.1 454.6,207.7 456.8,209.2 458.9,210.7 461.0,212.3 463.1,213.8 465.3,215.3 467.4,216.9 469.5,218.4 471.7,219.9 473.8,221.4 475.9,222.9 478.1,224.4 480.2,225.9 482.3,227.4 484.5,228.9 486.6,230.4 488.7,231.9 490.9,233.4 493.0,234.8 495.1,236.3 497.3,237.8 499.4,239.2 501.5,240.7 503.6,242.1 505.8,243.6 507.9,245.0 510.0,246.4 512.2,247.9 514.3,249.3 516.4,250.7 518.6,252.1 520.7,253.5 522.8,254.9 525.0,256.3 527.1,257.7 529.2,259.1 531.4,260.5 533.5,261.9 535.6,263.3 537.8,264.6 539.9,266.0 542.0,267.4 544.1,268.7 546.3,270.1 548.4,271.4 550.5,272.8 552.7,274.1 554.8,275.4 556.9,276.7 559.1,278.1 561.2,279.4 563.3,280.7 565.5,282.0 567.6,283.3 569.7,284.6 571.9,285.9 574.0,287.2 576.1,288.4 578.2,289.7 580.4,291.0 582.5,292.2 584.6,293.5 586.8,294.7 588.9,296.0 591.0,297.2 593.2,298.5 595.3,299.7 597.4,300.9 599.6,302.2 601.7,303.4 603.8,304.6 606.0,305.8 608.1,307.0 610.2,308.2 612.4,309.4 614.5,310.6 616.6,311.8 618.7,313.0 620.9,314.1 623.0,315.3 625.1,316.5 627.3,317.6 629.4,318.8 631.5,319.9 633.7,321.1 635.8,322.2 637.9,323.4 640.1,324.5 642.2,325.6 644.3,326.7 646.5,327.9 648.6,329.0 650.7,330.1 652.9,331.2 655.0,332.3 657.1,333.4 659.2,334.5 661.4,335.5 663.5,336.6 665.6,337.7 667.8,338.8 669.9,339.8 672.0,340.9 674.2,342.0 676.3,343.0 678.4,344.1 680.6,345.1 682.7,346.1 684.8,347.2 687.0,348.2 689.1,349.2 691.2,350.3 693.4,351.3 695.5,352.3 697.6,353.3 699.7,354.3 701.9,355.3 704.0,356.3 706.1,357.3 708.3,358.3 710.4,359.3 712.5,360.3 714.7,361.2 716.8,362.2 718.9,363.2 721.1,364.1 723.2,365.1 725.3,366.0 727.5,367.0 729.6,367.9 731.7,368.9 733.8,369.8 736.0,370.8 738.1,371.7 740.2,372.6 742.4,373.5 744.5,374.5 746.6,375.4 748.8,376.3 750.9,377.2 753.0,378.1 755.2,379.0 757.3,379.9 759.4,380.8 761.6,381.7 763.7,382.6 765.8,383.4 768.0,384.3 770.1,385.2 772.2,386.1 774.3,386.9 776.5,387.8 778.6,388.6 780.7,389.5 782.9,390.3 785.0,391.2 787.1,392.0 789.3,392.9 791.4,393.7 793.5,394.6 795.7,395.4 797.8,396.2 799.9,397.0 802.1,397.8 804.2,398.7 806.3,399.5 808.5,400.3 810.6,401.1 812.7,401.9 814.8,402.7 817.0,403.5 819.1,404.3 821.2,405.1 823.4,405.8 825.5,406.6 827.6,407.4 829.8,408.2 831.9,409.0 834.0,409.7 836.2,410.5 838.3,411.3 840.4,412.0 842.6,412.8 844.7,413.5 846.8,414.3 849.0,415.0 851.1,415.8 853.2,416.5 855.3,417.2 857.5,418.0 859.6,418.7 861.7,419.4 863.9,420.2 866.0,420.9 868.1,421.6 870.3,422.3 872.4,423.0 874.5,423.7 876.7,424.4 878.8,425.1 880.9,425.8 883.1,426.5 885.2,427.2 887.3,427.9 889.4,428.6 891.6,429.3 893.7,430.0 895.8,430.7 898.0,431.3 900.1,432.0 902.2,432.7 904.4,433.4 906.5,434.0 908.6,434.7 910.8,435.4 912.9,436.0 915.0,436.7 917.2,437.3 919.3,438.0 921.4,438.6 923.6,439.3 925.7,439.9 927.8,440.5 929.9,441.2 932.1,441.8 934.2,442.4 936.3,443.1 938.5,443.7 940.6,444.3 942.7,445.0 944.9,445.6 947.0,446.2 949.1,446.8 951.3,447.4 953.4,448.0 955.5,448.6 957.7,449.2 959.8,449.8 961.9,450.4 964.1,451.0 966.2,451.6 968.3,452.2 970.4,452.8 972.6,453.4 974.7,454.0 976.8,454.6 979.0,455.1 981.1,455.7 983.2,456.3 985.4,456.9 987.5,457.4 989.6,458.0 991.8,458.6 993.9,459.1 996.0,459.7 998.2,460.3 1000.3,460.8 1002.4,461.4 1004.5,461.9 1006.7,462.5 1008.8,463.0 1010.9,463.6 1013.1,464.1 1015.2,464.7 1017.3,465.2 1019.5,465.7 1021.6,466.3 1023.7,466.8 1025.9,467.3 1028.0,467.9 1030.1,468.4 1032.3,468.9 1034.4,469.4 1036.5,470.0 1038.7,470.5 1040.8,471.0 1042.9,471.5 1045.0,472.0 1047.2,472.5 1049.3,473.0 1051.4,473.5 1053.6,474.0 1055.7,474.6 1057.8,475.1 1060.0,475.5 1062.1,476.0 1064.2,476.5 1066.4,477.0 1068.5,477.5 1070.6,478.0 1072.8,478.5 1074.9,479.0 1077.0,479.5 1079.2,480.0 1081.3,480.4 1083.4,480.9 1085.5,481.4 1087.7,481.9 1089.8,482.3 1091.9,482.8 1094.1,483.3 1096.2,483.7 1098.3,484.2 1100.5,484.7 1102.6,485.1 1104.7,485.6 1106.9,486.0 1109.0,486.5 1111.1,487.0 1113.3,487.4 1115.4,487.9 1117.5,488.3 1119.7,488.8 1121.8,489.2 1123.9,489.6 1126.0,490.1 1128.2,490.5 1130.3,491.0 1132.4,491.4 1134.6,491.8 1136.7,492.3 1138.8,492.7 1141.0,493.1 1143.1,493.6 1145.2,494.0 1147.4,494.4 1149.5,494.8 1151.6,495.3 1153.8,495.7 1155.9,496.1 1158.0,496.5 1160.1,496.9 1162.3,497.4 1164.4,497.8 1166.5,498.2 1168.7,498.6 1170.8,499.0 1172.9,499.4 1175.1,499.8 1177.2,500.2 1179.3,500.6 1181.5,501.0 1183.6,501.4 1185.7,501.8 1187.9,502.2 1190.0,502.6 1192.1,503.0 1194.3,503.4 1196.4,503.8 1198.5,504.2 1200.6,504.6 1202.8,505.0 1204.9,505.3 1207.0,505.7 1209.2,506.1 1211.3,506.5 1213.4,506.9 1215.6,507.2 1217.7,507.6 1219.8,508.0 1222.0,508.4 1224.1,508.7 1226.2,509.1 1228.4,509.5 1230.5,509.9 1232.6,510.2 1234.8,510.6 1236.9,511.0 1239.0,511.3 1241.1,511.7 1243.3,512.0 1245.4,512.4 1247.5,512.8 1249.7,513.1 1251.8,513.5 1253.9,513.8 1256.1,514.2 1258.2,514.5 1260.3,514.9 1262.5,515.2 1264.6,515.6 1266.7,515.9 1268.9,516.3 1271.0,516.6 1273.1,517.0 1275.2,517.3 1277.4,517.6 1279.5,518.0 1281.6,518.3 1283.8,518.7 1285.9,519.0 1288.0,519.3 1290.2,519.7 1292.3,520.0 1294.4,520.3 1296.6,520.7 1298.7,521.0 1300.8,521.3 1303.0,521.6 1305.1,522.0 1307.2,522.3 1309.4,522.6 1311.5,522.9 1313.6,523.3 1315.7,523.6 1317.9,523.9 1320.0,524.2 1322.1,524.5 1324.3,524.8 1326.4,525.2 1328.5,525.5 1330.7,525.8 1332.8,526.1 1334.9,526.4 1337.1,526.7 1339.2,527.0 1341.3,527.3 1343.5,527.6 1345.6,527.9 1347.7,528.2 1349.9,528.5 1352.0,528.8 1354.1,529.1 1356.2,529.4 1358.4,529.7 1360.5,530.0 1362.6,530.3 1364.8,530.6 1366.9,530.9 1369.0,531.2 1371.2,531.5 1373.3,531.8 1375.4,532.1 1377.6,532.4 1379.7,532.7 1381.8,532.9 1384.0,533.2 1386.1,533.5 1388.2,533.8 1390.4,534.1 1392.5,534.4 1394.6,534.7 1396.7,534.9 1398.9,535.2 1401.0,535.5 1403.1,535.8 1405.3,536.0 1407.4,536.3 1409.5,536.6 1411.7,536.9 1413.8,537.1 1415.9,537.4 1418.1,537.7 1420.2,538.0 1422.3,538.2 1424.5,538.5 1426.6,538.8 1428.7,539.0 1430.8,539.3 1433.0,539.6 1435.1,539.8 1437.2,540.1 1439.4,540.3 1441.5,540.6 1443.6,540.9 1445.8,541.1 1447.9,541.4 1450.0,541.6 1452.2,541.9 1454.3,542.2 1456.4,542.4 1458.6,542.7 1460.7,542.9 1462.8,543.2 1465.0,543.4 1467.1,543.7 1469.2,543.9 1471.3,544.2 1473.5,544.4 1475.6,544.7 1477.7,544.9 1479.9,545.2 1482.0,545.4 1484.1,545.7 1486.3,545.9 1488.4,546.1 1490.5,546.4 1492.7,546.6 1494.8,546.9 1496.9,547.1 1499.1,547.3 1501.2,547.6 1503.3,547.8 1505.5,548.1 1507.6,548.3 1509.7,548.5 1511.8,548.8 1514.0,549.0 1516.1,549.2 1518.2,549.5 1520.4,549.7 1522.5,549.9 1524.6,550.2 1526.8,550.4 1528.9,550.6 1531.0,550.8 1533.2,551.1 1535.3,551.3 1537.4,551.5 1539.6,551.8 1541.7,552.0 1543.8,552.2 1546.0,552.4 1548.1,552.6 1550.2,552.9 1552.3,553.1 1554.5,553.3 1556.6,553.5 1558.7,553.7 1560.9,554.0 1563.0,554.2 1565.1,554.4 1567.3,554.6 1569.4,554.8 1571.5,555.0 1573.7,555.3 1575.8,555.5 1577.9,555.7 1580.1,555.9 1582.2,556.1 1584.3,556.3 1586.4,556.5 1588.6,556.7 1590.7,556.9 1592.8,557.2 1595.0,557.4 1597.1,557.6 1599.2,557.8 1601.4,558.0 1603.5,558.2 1605.6,558.4 1607.8,558.6 1609.9,558.8 1612.0,559.0 1614.2,559.2 1616.3,559.4 1618.4,559.6 1620.6,559.8 1622.7,560.0 1624.8,560.2 1626.9,560.4 1629.1,560.6 1631.2,560.8 1633.3,561.0 1635.5,561.2 1637.6,561.4 1639.7,561.6 1641.9,561.8 1644.0,562.0 1646.1,562.1 1648.3,562.3 1650.4,562.5 1652.5,562.7 1654.7,562.9 1656.8,563.1 1658.9,563.3 1661.1,563.5 1663.2,563.7 1665.3,563.9 1667.4,564.0 1669.6,564.2 1671.7,564.4 1673.8,564.6 1676.0,564.8 1678.1,565.0 1680.2,565.2 1682.4,565.3 1684.5,565.5 1686.6,565.7 1688.8,565.9 1690.9,566.1 1693.0,566.2 1695.2,566.4 1697.3,566.6 1699.4,566.8 1701.5,567.0 1703.7,567.1 1705.8,567.3 1707.9,567.5 1710.1,567.7 1712.2,567.8 1714.3,568.0 1716.5,568.2 1718.6,568.4 1720.7,568.5 1722.9,568.7 1725.0,568.9 1727.1,569.1 1729.3,569.2 1731.4,569.4 1733.5,569.6 1735.7,569.7 1737.8,569.9 1739.9,570.1 1742.0,570.2 1744.2,570.4 1746.3,570.6 1748.4,570.7 1750.6,570.9 1752.7,571.1 1754.8,571.2 1757.0,571.4 1759.1,571.6 1761.2,571.7 1763.4,571.9 1765.5,572.1 1767.6,572.2 1769.8,572.4 1771.9,572.6 1774.0,572.7 1776.2,572.9 1778.3,573.0 1780.4,573.2 1782.5,573.4 1784.7,573.5 1786.8,573.7 1788.9,573.8 1791.1,574.0 1793.2,574.1 1795.3,574.3 1797.5,574.5 1799.6,574.6 1801.7,574.8 1803.9,574.9 1806.0,575.1 1808.1,575.2 1810.3,575.4 1812.4,575.5 1814.5,575.7 1816.7,575.8 1818.8,576.0 1820.9,576.1 1823.0,576.3 1825.2,576.4 1827.3,576.6 1829.4,576.7 1831.6,576.9 1833.7,577.0 1835.8,577.2 1838.0,577.3 1840.1,577.5 1842.2,577.6 1844.4,577.8 1846.5,577.9 1848.6,578.1 1850.8,578.2 1852.9,578.4 1855.0,578.5 1857.1,578.7 1859.3,578.8 1861.4,578.9 1863.5,579.1 1865.7,579.2 1867.8,579.4 1869.9,579.5 1872.1,579.7 1874.2,579.8 1876.3,579.9 1878.5,580.1 1880.6,580.2 1882.7,580.4 1884.9,580.5 1887.0,580.6 1889.1,580.8 1891.3,580.9 1893.4,581.0 1895.5,581.2 1897.6,581.3 1899.8,581.5 1901.9,581.6 1904.0,581.7 1906.2,581.9 1908.3,582.0 1910.4,582.1 1912.6,582.3 1914.7,582.4 1916.8,582.5 1919.0,582.7 1921.1,582.8 1923.2,582.9 1925.4,583.1 1927.5,583.2 1929.6,583.3 1931.8,583.5 1933.9,583.6 1936.0,583.7 1938.1,583.9 1940.3,584.0 1942.4,584.1 1944.5,584.2 1946.7,584.4 1948.8,584.5 1950.9,584.6 1953.1,584.8 1955.2,584.9 1957.3,585.0 1959.5,585.1 1961.6,585.3 1963.7,585.4 1965.9,585.5 1968.0,585.6 1970.1,585.8 1972.3,585.9 1974.4,586.0 1976.5,586.1 1978.6,586.3 1980.8,586.4 1982.9,586.5 1985.0,586.6 1987.2,586.7 1989.3,586.9 1991.4,587.0 1993.6,587.1 1995.7,587.2 1997.8,587.4 2000.0,587.5 2002.1,587.6 2004.2,587.7 2006.4,587.8 2008.5,588.0 2010.6,588.1 2012.7,588.2 2014.9,588.3 2017.0,588.4 2019.1,588.5 2021.3,588.7 2023.4,588.8 2025.5,588.9 2027.7,589.0 2029.8,589.1 2031.9,589.2 2034.1,589.4 2036.2,589.5 2038.3,589.6 2040.5,589.7 2042.6,589.8 2044.7,589.9 2046.9,590.0 2049.0,590.2 2051.1,590.3 2053.2,590.4 2055.4,590.5 2057.5,590.6 2059.6,590.7 2061.8,590.8 2063.9,590.9 2066.0,591.0 2068.2,591.2 2070.3,591.3 2072.4,591.4 2074.6,591.5 2076.7,591.6 2078.8,591.7 2081.0,591.8 2083.1,591.9 2085.2,592.0 2087.4,592.1 2089.5,592.2 2091.6,592.4 2093.7,592.5 2095.9,592.6 2098.0,592.7 2100.1,592.8 2102.3,592.9 2104.4,593.0 2106.5,593.1 2108.7,593.2 2110.8,593.3 2112.9,593.4 2115.1,593.5 2117.2,593.6 2119.3,593.7 2121.5,593.8 2123.6,593.9 2125.7,594.0 2127.9,594.1 2130.0,594.2 2132.1,594.3 2134.2,594.5 2136.4,594.6 2138.5,594.7 2140.6,594.8 2142.8,594.9 2144.9,595.0 2147.0,595.1 2149.2,595.2 2151.3,595.3 2153.4,595.4 2155.6,595.5 2157.7,595.6 2159.8,595.7 2162.0,595.8 2164.1,595.9 2166.2,596.0 2168.3,596.1 2170.5,596.2 2172.6,596.2 2174.7,596.3 2176.9,596.4 2179.0,596.5 2181.1,596.6 2183.3,596.7 2185.4,596.8 2187.5,596.9 2189.7,597.0 2191.8,597.1 2193.9,597.2 2196.1,597.3 2198.2,597.4 2200.3,597.5 2202.5,597.6 2204.6,597.7 2206.7,597.8 2208.8,597.9 2211.0,598.0 2213.1,598.1 2215.2,598.2 2217.4,598.2 2219.5,598.3 2221.6,598.4 2223.8,598.5 2225.9,598.6 2228.0,598.7 2230.2,598.8 2232.3,598.9 2234.4,599.0 2236.6,599.1 2238.7,599.2 2240.8,599.3 2243.0,599.3 2245.1,599.4 2247.2,599.5 2249.3,599.6 2251.5,599.7 2253.6,599.8 2255.7,599.9 2257.9,600.0 2260.0,600.1 2262.1,600.1 2264.3,600.2 2266.4,600.3 2268.5,600.4 2270.7,600.5 2272.8,600.6 2274.9,600.7 2277.1,600.8 2279.2,600.8 2281.3,600.9 2283.4,601.0 2285.6,601.1 2287.7,601.2 2289.8,601.3 2292.0,601.4 2294.1,601.4 2296.2,601.5 2298.4,601.6 2300.5,601.7 2302.6,601.8 2304.8,601.9 2306.9,601.9 2309.0,602.0 2311.2,602.1 2313.3,602.2 2315.4,602.3 2317.6,602.4 2319.7,602.4 2321.8,602.5 2323.9,602.6 2326.1,602.7 2328.2,602.8 2330.3,602.9 2332.5,602.9 2334.6,603.0 2336.7,603.1 2338.9,603.2 2341.0,603.3" fill="none" stroke="#1652a8" stroke-width="4.8"/>
<polyline points="209.5,56.0 211.6,56.0 213.8,56.1 215.9,56.3 218.0,56.5 220.2,56.8 222.3,57.1 224.4,57.5 226.6,58.0 228.7,58.5 230.8,59.0 232.9,59.7 235.1,60.3 237.2,61.1 239.3,61.9 241.5,62.7 243.6,63.6 245.7,64.6 247.9,65.6 250.0,66.6 252.1,67.8 254.3,68.9 256.4,70.1 258.5,71.4 260.7,72.7 262.8,74.1 264.9,75.5 267.1,77.0 269.2,78.5 271.3,80.1 273.4,81.7 275.6,83.3 277.7,85.0 279.8,86.8 282.0,88.5 284.1,90.4 286.2,92.3 288.4,94.2 290.5,96.1 292.6,98.1 294.8,100.2 296.9,102.3 299.0,104.4 301.2,106.6 303.3,108.8 305.4,111.0 307.5,113.3 309.7,115.6 311.8,118.0 313.9,120.4 316.1,122.8 318.2,125.3 320.3,127.8 322.5,130.3 324.6,132.9 326.7,135.5 328.9,138.1 331.0,140.8 333.1,143.5 335.3,146.3 337.4,149.0 339.5,151.8 341.7,154.7 343.8,157.5 345.9,160.4 348.0,163.3 350.2,166.3 352.3,169.2 354.4,172.2 356.6,175.3 358.7,178.3 360.8,181.4 363.0,184.5 365.1,187.6 367.2,190.8 369.4,194.0 371.5,197.2 373.6,200.4 375.8,203.6 377.9,206.9 380.0,210.2 382.2,213.5 384.3,216.9 386.4,220.2 388.5,223.6 390.7,227.0 392.8,230.4 394.9,233.8 397.1,237.3 399.2,240.8 401.3,244.3 403.5,247.8 405.6,251.3 407.7,254.8 409.9,258.4 412.0,262.0 414.1,265.6 416.3,269.2 418.4,272.8 420.5,276.4 422.6,280.1 424.8,283.7 426.9,287.4 429.0,291.1 431.2,294.8 433.3,298.5 435.4,302.2 437.6,306.0 439.7,309.7 441.8,313.5 444.0,317.2 446.1,321.0 448.2,324.8 450.4,328.6 452.5,332.4 454.6,336.2 456.8,340.1 458.9,343.9 461.0,347.7 463.1,351.6 465.3,355.4 467.4,359.3 469.5,363.2 471.7,367.0 473.8,370.9 475.9,374.8 478.1,378.7 480.2,382.6 482.3,386.5 484.5,390.4 486.6,394.3 488.7,398.2 490.9,402.1 493.0,406.1 495.1,410.0 497.3,413.9 499.4,417.8 501.5,421.8 503.6,425.7 505.8,429.6 507.9,433.6 510.0,437.5 512.2,441.5 514.3,445.4 516.4,449.4 518.6,453.3 520.7,457.2 522.8,461.2 525.0,465.1 527.1,469.1 529.2,473.0 531.4,477.0 533.5,480.9 535.6,484.8 537.8,488.8 539.9,492.7 542.0,496.7 544.1,500.6 546.3,504.5 548.4,508.4 550.5,512.4 552.7,516.3 554.8,520.2 556.9,524.1 559.1,528.1 561.2,532.0 563.3,535.9 565.5,539.8 567.6,543.7 569.7,547.6 571.9,551.5 574.0,555.3 576.1,559.2 578.2,563.1 580.4,567.0 582.5,570.8 584.6,574.7 586.8,578.6 588.9,582.4 591.0,586.3 593.2,590.1 595.3,593.9 597.4,597.8 599.6,601.6 601.7,605.4 603.8,609.2 606.0,613.0 608.1,616.8 610.2,620.6 612.4,624.4 614.5,628.1 616.6,631.9 618.7,635.7 620.9,639.4 623.0,643.2 625.1,646.9 627.3,650.6 629.4,654.4 631.5,658.1 633.7,661.8 635.8,665.5 637.9,669.2 640.1,672.9 642.2,676.5 644.3,680.2 646.5,683.8 648.6,687.5 650.7,691.1 652.9,694.8 655.0,698.4 657.1,702.0 659.2,705.6 661.4,709.2 663.5,712.8 665.6,716.4 667.8,719.9 669.9,723.5 672.0,727.0 674.2,730.6 676.3,734.1 678.4,737.6 680.6,741.1 682.7,744.6 684.8,748.1 687.0,751.6 689.1,755.0 691.2,758.5 693.4,762.0 695.5,765.4 697.6,768.8 699.7,772.2 701.9,775.6 704.0,779.0 706.1,782.4 708.3,785.8 710.4,789.2 712.5,792.5 714.7,795.9 716.8,799.2 718.9,802.5 721.1,805.9 723.2,809.2 725.3,812.5 727.5,815.7 729.6,819.0 731.7,822.3 733.8,825.5 736.0,828.8 738.1,832.0 740.2,835.2 742.4,838.4 744.5,841.6 746.6,844.8 748.8,848.0 750.9,851.1 753.0,854.3 755.2,857.4 757.3,860.5 759.4,863.7 761.6,866.8 763.7,869.9 765.8,873.0 768.0,876.0 770.1,879.1 772.2,882.1 774.3,885.2 776.5,888.2 778.6,891.2 780.7,894.2 782.9,897.2 785.0,900.2 787.1,903.2 789.3,906.2 791.4,909.1 793.5,912.1 795.7,915.0 797.8,917.9 799.9,920.8 802.1,923.7 804.2,926.6 806.3,929.5 808.5,932.3 810.6,935.2 812.7,938.0 814.8,940.9 817.0,943.7 819.1,946.5 821.2,949.3 823.4,952.1 825.5,954.8 827.6,957.6 829.8,960.4 831.9,963.1 834.0,965.8 836.2,968.5 838.3,971.3 840.4,973.9 842.6,976.6 844.7,979.3 846.8,982.0 849.0,984.6 851.1,987.3 853.2,989.9 855.3,992.5 857.5,995.1 859.6,997.7 861.7,1000.3 863.9,1002.9 866.0,1005.5 868.1,1008.0 870.3,1010.6 872.4,1013.1 874.5,1015.6 876.7,1018.1 878.8,1020.6 880.9,1023.1 883.1,1025.6 885.2,1028.1 887.3,1030.5 889.4,1033.0 891.6,1035.4 893.7,1037.8 895.8,1040.3 898.0,1042.7 900.1,1045.1 902.2,1047.5 904.4,1049.8 906.5,1052.2 908.6,1054.5 910.8,1056.9 912.9,1059.2 915.0,1061.6 917.2,1063.9 919.3,1066.2 921.4,1068.5 923.6,1070.7 925.7,1073.0 927.8,1075.3 929.9,1077.5 932.1,1079.8 934.2,1082.0 936.3,1084.2 938.5,1086.4 940.6,1088.6 942.7,1090.8 944.9,1093.0 947.0,1095.2 949.1,1097.4 951.3,1099.5 953.4,1101.6 955.5,1103.8 957.7,1105.9 959.8,1108.0 961.9,1110.1 964.1,1112.2 966.2,1114.3 968.3,1116.4 970.4,1118.4 972.6,1120.5 974.7,1122.5 976.8,1124.6 979.0,1126.6 981.1,1128.6 983.2,1130.6 985.4,1132.6 987.5,1134.6 989.6,1136.6 991.8,1138.6 993.9,1140.6 996.0,1142.5 998.2,1144.5 1000.3,1146.4 1002.4,1148.3 1004.5,1150.2 1006.7,1152.1 1008.8,1154.0 1010.9,1155.9 1013.1,1157.8 1015.2,1159.7 1017.3,1161.5 1019.5,1163.4 1021.6,1165.3 1023.7,1167.1 1025.9,1168.9 1028.0,1170.7 1030.1,1172.6 1032.3,1174.4 1034.4,1176.1 1036.5,1177.9 1038.7,1179.7 1040.8,1181.5 1042.9,1183.2 1045.0,1185.0 1047.2,1186.7 1049.3,1188.5 1051.4,1190.2 1053.6,1191.9 1055.7,1193.6 1057.8,1195.3 1060.0,1197.0 1062.1,1198.7 1064.2,1200.4 1066.4,1202.1 1068.5,1203.7 1070.6,1205.4 1072.8,1207.0 1074.9,1208.7 1077.0,1210.3 1079.2,1211.9 1081.3,1213.5 1083.4,1215.1 1085.5,1216.7 1087.7,1218.3 1089.8,1219.9 1091.9,1221.5 1094.1,1223.1 1096.2,1224.6 1098.3,1226.2 1100.5,1227.7 1102.6,1229.3 1104.7,1230.8 1106.9,1232.3 1109.0,1233.8 1111.1,1235.3 1113.3,1236.8 1115.4,1238.3 1117.5,1239.8 1119.7,1241.3 1121.8,1242.8 1123.9,1244.2 1126.0,1245.7 1128.2,1247.1 1130.3,1248.6 1132.4,1250.0 1134.6,1251.4 1136.7,1252.9 1138.8,1254.3 1141.0,1255.7 1143.1,1257.1 1145.2,1258.5 1147.4,1259.9 1149.5,1261.2 1151.6,1262.6 1153.8,1264.0 1155.9,1265.3 1158.0,1266.7 1160.1,1268.0 1162.3,1269.4 1164.4,1270.7 1166.5,1272.0 1168.7,1273.4 1170.8,1274.7 1172.9,1276.0 1175.1,1277.3 1177.2,1278.6 1179.3,1279.9 1181.5,1281.2 1183.6,1282.4 1185.7,1283.7 1187.9,1285.0 1190.0,1286.2 1192.1,1287.5 1194.3,1288.7 1196.4,1289.9 1198.5,1291.2 1200.6,1292.4 1202.8,1293.6 1204.9,1294.8 1207.0,1296.0 1209.2,1297.2 1211.3,1298.4 1213.4,1299.6 1215.6,1300.8 1217.7,1302.0 1219.8,1303.2 1222.0,1304.3 1224.1,1305.5 1226.2,1306.6 1228.4,1307.8 1230.5,1308.9 1232.6,1310.1 1234.8,1311.2 1236.9,1312.3 1239.0,1313.5 1241.1,1314.6 1243.3,1315.7 1245.4,1316.8 1247.5,1317.9 1249.7,1319.0 1251.8,1320.1 1253.9,1321.1 1256.1,1322.2 1258.2,1323.3 1260.3,1324.4 1262.5,1325.4 1264.6,1326.5 1266.7,1327.5 1268.9,1328.6 1271.0,1329.6 1273.1,1330.6 1275.2,1331.7 1277.4,1332.7 1279.5,1333.7 1281.6,1334.7 1283.8,1335.7 1285.9,1336.7 1288.0,1337.7 1290.2,1338.7 1292.3,1339.7 1294.4,1340.7 1296.6,1341.7 1298.7,1342.6 1300.8,1343.6 1303.0,1344.6 1305.1,1345.5 1307.2,1346.5 1309.4,1347.4 1311.5,1348.4 1313.6,1349.3 1315.7,1350.3 1317.9,1351.2 1320.0,1352.1 1322.1,1353.0 1324.3,1354.0 1326.4,1354.9 1328.5,1355.8 1330.7,1356.7 1332.8,1357.6 1334.9,1358.5 1337.1,1359.4 1339.2,1360.3 1341.3,1361.1 1343.5,1362.0 1345.6,1362.9 1347.7,1363.8 1349.9,1364.6 1352.0,1365.5 1354.1,1366.3 1356.2,1367.2 1358.4,1368.0 1360.5,1368.9 1362.6,1369.7 1364.8,1370.5 1366.9,1371.4 1369.0,1372.2 1371.2,1373.0 1373.3,1373.8 1375.4,1374.6 1377.6,1375.5 1379.7,1376.3 1381.8,1377.1 1384.0,1377.9 1386.1,1378.7 1388.2,1379.4 1390.4,1380.2 1392.5,1381.0 1394.6,1381.8 1396.7,1382.6 1398.9,1383.3 1401.0,1384.1 1403.1,1384.9 1405.3,1385.6 1407.4,1386.4 1409.5,1387.1 1411.7,1387.9 1413.8,1388.6 1415.9,1389.4 1418.1,1390.1 1420.2,1390.8 1422.3,1391.6 1424.5,1392.3 1426.6,1393.0 1428.7,1393.7 1430.8,1394.4 1433.0,1395.1 1435.1,1395.8 1437.2,1396.6 1439.4,1397.3 1441.5,1397.9 1443.6,1398.6 1445.8,1399.3 1447.9,1400.0 1450.0,1400.7 1452.2,1401.4 1454.3,1402.1 1456.4,1402.7 1458.6,1403.4 1460.7,1404.1 1462.8,1404.7 1465.0,1405.4 1467.1,1406.0 1469.2,1406.7 1471.3,1407.3 1473.5,1408.0 1475.6,1408.6 1477.7,1409.3 1479.9,1409.9 1482.0,1410.5 1484.1,1411.2 1486.3,1411.8 1488.4,1412.4 1490.5,1413.1 1492.7,1413.7 1494.8,1414.3 1496.9,1414.9 1499.1,1415.5 1501.2,1416.1 1503.3,1416.7 1505.5,1417.3 1507.6,1417.9 1509.7,1418.5 1511.8,1419.1 1514.0,1419.7 1516.1,1420.3 1518.2,1420.9 1520.4,1421.4 1522.5,1422.0 1524.6,1422.6 1526.8,1423.2 1528.9,1423.7 1531.0,1424.3 1533.2,1424.9 1535.3,1425.4 1537.4,1426.0 1539.6,1426.5 1541.7,1427.1 1543.8,1427.6 1546.0,1428.2 1548.1,1428.7 1550.2,1429.3 1552.3,1429.8 1554.5,1430.3 1556.6,1430.9 1558.7,1431.4 1560.9,1431.9 1563.0,1432.5 1565.1,1433.0 1567.3,1433.5 1569.4,1434.0 1571.5,1434.5 1573.7,1435.0 1575.8,1435.6 1577.9,1436.1 1580.1,1436.6 1582.2,1437.1 1584.3,1437.6 1586.4,1438.1 1588.6,1438.6 1590.7,1439.1 1592.8,1439.6 1595.0,1440.0 1597.1,1440.5 1599.2,1441.0 1601.4,1441.5 1603.5,1442.0 1605.6,1442.4 1607.8,1442.9 1609.9,1443.4 1612.0,1443.9 1614.2,1444.3 1616.3,1444.8 1618.4,1445.3 1620.6,1445.7 1622.7,1446.2 1624.8,1446.6 1626.9,1447.1 1629.1,1447.5 1631.2,1448.0 1633.3,1448.4 1635.5,1448.9 1637.6,1449.3 1639.7,1449.8 1641.9,1450.2 1644.0,1450.6 1646.1,1451.1 1648.3,1451.5 1650.4,1451.9 1652.5,1452.4 1654.7,1452.8 1656.8,1453.2 1658.9,1453.6 1661.1,1454.1 1663.2,1454.5 1665.3,1454.9 1667.4,1455.3 1669.6,1455.7 1671.7,1456.1 1673.8,1456.5 1676.0,1456.9 1678.1,1457.4 1680.2,1457.8 1682.4,1458.2 1684.5,1458.6 1686.6,1459.0 1688.8,1459.3 1690.9,1459.7 1693.0,1460.1 1695.2,1460.5 1697.3,1460.9 1699.4,1461.3 1701.5,1461.7 1703.7,1462.1 1705.8,1462.4 1707.9,1462.8 1710.1,1463.2 1712.2,1463.6 1714.3,1463.9 1716.5,1464.3 1718.6,1464.7 1720.7,1465.0 1722.9,1465.4 1725.0,1465.8 1727.1,1466.1 1729.3,1466.5 1731.4,1466.9 1733.5,1467.2 1735.7,1467.6 1737.8,1467.9 1739.9,1468.3 1742.0,1468.6 1744.2,1469.0 1746.3,1469.3 1748.4,1469.7 1750.6,1470.0 1752.7,1470.3 1754.8,1470.7 1757.0,1471.0 1759.1,1471.4 1761.2,1471.7 1763.4,1472.0 1765.5,1472.4 1767.6,1472.7 1769.8,1473.0 1771.9,1473.4 1774.0,1473.7 1776.2,1474.0 1778.3,1474.3 1780.4,1474.7 1782.5,1475.0 1784.7,1475.3 1786.8,1475.6 1788.9,1475.9 1791.1,1476.2 1793.2,1476.5 1795.3,1476.9 1797.5,1477.2 1799.6,1477.5 1801.7,1477.8 1803.9,1478.1 1806.0,1478.4 1808.1,1478.7 1810.3,1479.0 1812.4,1479.3 1814.5,1479.6 1816.7,1479.9 1818.8,1480.2 1820.9,1480.5 1823.0,1480.8 1825.2,1481.1 1827.3,1481.4 1829.4,1481.6 1831.6,1481.9 1833.7,1482.2 1835.8,1482.5 1838.0,1482.8 1840.1,1483.1 1842.2,1483.3 1844.4,1483.6 1846.5,1483.9 1848.6,1484.2 1850.8,1484.5 1852.9,1484.7 1855.0,1485.0 1857.1,1485.3 1859.3,1485.5 1861.4,1485.8 1863.5,1486.1 1865.7,1486.4 1867.8,1486.6 1869.9,1486.9 1872.1,1487.1 1874.2,1487.4 1876.3,1487.7 1878.5,1487.9 1880.6,1488.2 1882.7,1488.4 1884.9,1488.7 1887.0,1489.0 1889.1,1489.2 1891.3,1489.5 1893.4,1489.7 1895.5,1490.0 1897.6,1490.2 1899.8,1490.5 1901.9,1490.7 1904.0,1490.9 1906.2,1491.2 1908.3,1491.4 1910.4,1491.7 1912.6,1491.9 1914.7,1492.2 1916.8,1492.4 1919.0,1492.6 1921.1,1492.9 1923.2,1493.1 1925.4,1493.3 1927.5,1493.6 1929.6,1493.8 1931.8,1494.0 1933.9,1494.3 1936.0,1494.5 1938.1,1494.7 1940.3,1495.0 1942.4,1495.2 1944.5,1495.4 1946.7,1495.6 1948.8,1495.9 1950.9,1496.1 1953.1,1496.3 1955.2,1496.5 1957.3,1496.7 1959.5,1497.0 1961.6,1497.2 1963.7,1497.4 1965.9,1497.6 1968.0,1497.8 1970.1,1498.0 1972.3,1498.2 1974.4,1498.5 1976.5,1498.7 1978.6,1498.9 1980.8,1499.1 1982.9,1499.3 1985.0,1499.5 1987.2,1499.7 1989.3,1499.9 1991.4,1500.1 1993.6,1500.3 1995.7,1500.5 1997.8,1500.7 2000.0,1500.9 2002.1,1501.1 2004.2,1501.3 2006.4,1501.5 2008.5,1501.7 2010.6,1501.9 2012.7,1502.1 2014.9,1502.3 2017.0,1502.5 2019.1,1502.7 2021.3,1502.9 2023.4,1503.1 2025.5,1503.2 2027.7,1503.4 2029.8,1503.6 2031.9,1503.8 2034.1,1504.0 2036.2,1504.2 2038.3,1504.4 2040.5,1504.5 2042.6,1504.7 2044.7,1504.9 2046.9,1505.1 2049.0,1505.3 2051.1,1505.5 2053.2,1505.6 2055.4,1505.8 2057.5,1506.0 2059.6,1506.2 2061.8,1506.3 2063.9,1506.5 2066.0,1506.7 2068.2,1506.9 2070.3,1507.0 2072.4,1507.2 2074.6,1507.4 2076.7,1507.6 2078.8,1507.7 2081.0,1507.9 2083.1,1508.1 2085.2,1508.2 2087.4,1508.4 2089.5,1508.6 2091.6,1508.7 2093.7,1508.9 2095.9,1509.1 2098.0,1509.2 2100.1,1509.4 2102.3,1509.5 2104.4,1509.7 2106.5,1509.9 2108.7,1510.0 2110.8,1510.2 2112.9,1510.3 2115.1,1510.5 2117.2,1510.7 2119.3,1510.8 2121.5,1511.0 2123.6,1511.1 2125.7,1511.3 2127.9,1511.4 2130.0,1511.6 2132.1,1511.7 2134.2,1511.9 2136.4,1512.0 2138.5,1512.2 2140.6,1512.3 2142.8,1512.5 2144.9,1512.6 2147.0,1512.8 2149.2,1512.9 2151.3,1513.1 2153.4,1513.2 2155.6,1513.4 2157.7,1513.5 2159.8,1513.6 2162.0,1513.8 2164.1,1513.9 2166.2,1514.1 2168.3,1514.2 2170.5,1514.4 2172.6,1514.5 2174.7,1514.6 2176.9,1514.8 2179.0,1514.9 2181.1,1515.0 2183.3,1515.2 2185.4,1515.3 2187.5,1515.5 2189.7,1515.6 2191.8,1515.7 2193.9,1515.9 2196.1,1516.0 2198.2,1516.1 2200.3,1516.3 2202.5,1516.4 2204.6,1516.5 2206.7,1516.7 2208.8,1516.8 2211.0,1516.9 2213.1,1517.0 2215.2,1517.2 2217.4,1517.3 2219.5,1517.4 2221.6,1517.6 2223.8,1517.7 2225.9,1517.8 2228.0,1517.9 2230.2,1518.1 2232.3,1518.2 2234.4,1518.3 2236.6,1518.4 2238.7,1518.6 2240.8,1518.7 2243.0,1518.8 2245.1,1518.9 2247.2,1519.0 2249.3,1519.2 2251.5,1519.3 2253.6,1519.4 2255.7,1519.5 2257.9,1519.6 2260.0,1519.7 2262.1,1519.9 2264.3,1520.0 2266.4,1520.1 2268.5,1520.2 2270.7,1520.3 2272.8,1520.4 2274.9,1520.6 2277.1,1520.7 2279.2,1520.8 2281.3,1520.9 2283.4,1521.0 2285.6,1521.1 2287.7,1521.2 2289.8,1521.3 2292.0,1521.5 2294.1,1521.6 2296.2,1521.7 2298.4,1521.8 2300.5,1521.9 2302.6,1522.0 2304.8,1522.1 2306.9,1522.2 2309.0,1522.3 2311.2,1522.4 2313.3,1522.5 2315.4,1522.6 2317.6,1522.7 2319.7,1522.8 2321.8,1523.0 2323.9,1523.1 2326.1,1523.2 2328.2,1523.3 2330.3,1523.4 2332.5,1523.5 2334.6,1523.6 2336.7,1523.7 2338.9,1523.8 2341.0,1523.9" fill="none" stroke="#46089c" stroke-width="4.8"/>
<polyline points="209.5,54.0 211.6,54.6 213.8,55.4 215.9,56.3 218.0,57.2 220.2,58.3 222.3,59.5 224.4,60.7 226.6,62.1 228.7,63.5 230.8,65.0 232.9,66.6 235.1,68.3 237.2,70.1 239.3,72.0 241.5,74.0 243.6,76.0 245.7,78.1 247.9,80.3 250.0,82.6 252.1,85.0 254.3,87.4 256.4,89.9 258.5,92.5 260.7,95.1 262.8,97.8 264.9,100.6 267.1,103.5 269.2,106.4 271.3,109.3 273.4,112.4 275.6,115.5 277.7,118.6 279.8,121.8 282.0,125.1 284.1,128.4 286.2,131.7 288.4,135.1 290.5,138.6 292.6,142.1 294.8,145.7 296.9,149.3 299.0,152.9 301.2,156.6 303.3,160.3 305.4,164.1 307.5,167.9 309.7,171.7 311.8,175.6 313.9,179.5 316.1,183.4 318.2,187.3 320.3,191.3 322.5,195.3 324.6,199.4 326.7,203.4 328.9,207.5 331.0,211.6 333.1,215.8 335.3,219.9 337.4,224.1 339.5,228.3 341.7,232.5 343.8,236.7 345.9,240.9 348.0,245.1 350.2,249.4 352.3,253.7 354.4,257.9 356.6,262.2 358.7,266.5 360.8,270.7 363.0,275.0 365.1,279.3 367.2,283.6 369.4,287.9 371.5,292.2 373.6,296.5 375.8,300.8 377.9,305.0 380.0,309.3 382.2,313.6 384.3,317.8 386.4,322.1 388.5,326.4 390.7,330.6 392.8,334.8 394.9,339.1 397.1,343.3 399.2,347.5 401.3,351.7 403.5,356.0 405.6,360.2 407.7,364.4 409.9,368.5 412.0,372.7 414.1,376.9 416.3,381.1 418.4,385.2 420.5,389.4 422.6,393.5 424.8,397.6 426.9,401.8 429.0,405.9 431.2,410.0 433.3,414.1 435.4,418.2 437.6,422.3 439.7,426.3 441.8,430.4 444.0,434.4 446.1,438.5 448.2,442.5 450.4,446.5 452.5,450.5 454.6,454.5 456.8,458.5 458.9,462.5 461.0,466.5 463.1,470.4 465.3,474.4 467.4,478.3 469.5,482.2 471.7,486.1 473.8,490.0 475.9,493.9 478.1,497.8 480.2,501.7 482.3,505.5 484.5,509.4 486.6,513.2 488.7,517.0 490.9,520.8 493.0,524.6 495.1,528.4 497.3,532.1 499.4,535.9 501.5,539.6 503.6,543.4 505.8,547.1 507.9,550.8 510.0,554.5 512.2,558.1 514.3,561.8 516.4,565.5 518.6,569.1 520.7,572.7 522.8,576.3 525.0,579.9 527.1,583.5 529.2,587.1 531.4,590.6 533.5,594.2 535.6,597.7 537.8,601.2 539.9,604.7 542.0,608.2 544.1,611.7 546.3,615.1 548.4,618.6 550.5,622.0 552.7,625.4 554.8,628.8 556.9,632.2 559.1,635.6 561.2,638.9 563.3,642.3 565.5,645.6 567.6,648.9 569.7,652.2 571.9,655.5 574.0,658.8 576.1,662.1 578.2,665.3 580.4,668.6 582.5,671.8 584.6,675.0 586.8,678.2 588.9,681.4 591.0,684.6 593.2,687.7 595.3,690.9 597.4,694.0 599.6,697.2 601.7,700.3 603.8,703.4 606.0,706.5 608.1,709.5 610.2,712.6 612.4,715.7 614.5,718.7 616.6,721.7 618.7,724.7 620.9,727.7 623.0,730.7 625.1,733.7 627.3,736.7 629.4,739.6 631.5,742.6 633.7,745.5 635.8,748.4 637.9,751.3 640.1,754.2 642.2,757.1 644.3,760.0 646.5,762.9 648.6,765.7 650.7,768.5 652.9,771.4 655.0,774.2 657.1,777.0 659.2,779.8 661.4,782.6 663.5,785.3 665.6,788.1 667.8,790.9 669.9,793.6 672.0,796.3 674.2,799.0 676.3,801.7 678.4,804.4 680.6,807.1 682.7,809.8 684.8,812.5 687.0,815.1 689.1,817.7 691.2,820.4 693.4,823.0 695.5,825.6 697.6,828.2 699.7,830.8 701.9,833.4 704.0,835.9 706.1,838.5 708.3,841.0 710.4,843.6 712.5,846.1 714.7,848.6 716.8,851.1 718.9,853.6 721.1,856.1 723.2,858.6 725.3,861.0 727.5,863.5 729.6,866.0 731.7,868.4 733.8,870.8 736.0,873.2 738.1,875.6 740.2,878.0 742.4,880.4 744.5,882.8 746.6,885.2 748.8,887.5 750.9,889.9 753.0,892.2 755.2,894.6 757.3,896.9 759.4,899.2 761.6,901.5 763.7,903.8 765.8,906.1 768.0,908.3 770.1,910.6 772.2,912.9 774.3,915.1 776.5,917.3 778.6,919.6 780.7,921.8 782.9,924.0 785.0,926.2 787.1,928.4 789.3,930.6 791.4,932.8 793.5,934.9 795.7,937.1 797.8,939.2 799.9,941.4 802.1,943.5 804.2,945.6 806.3,947.8 808.5,949.9 810.6,952.0 812.7,954.1 814.8,956.1 817.0,958.2 819.1,960.3 821.2,962.3 823.4,964.4 825.5,966.4 827.6,968.5 829.8,970.5 831.9,972.5 834.0,974.5 836.2,976.5 838.3,978.5 840.4,980.5 842.6,982.5 844.7,984.4 846.8,986.4 849.0,988.3 851.1,990.3 853.2,992.2 855.3,994.2 857.5,996.1 859.6,998.0 861.7,999.9 863.9,1001.8 866.0,1003.7 868.1,1005.6 870.3,1007.4 872.4,1009.3 874.5,1011.2 876.7,1013.0 878.8,1014.9 880.9,1016.7 883.1,1018.5 885.2,1020.4 887.3,1022.2 889.4,1024.0 891.6,1025.8 893.7,1027.6 895.8,1029.4 898.0,1031.2 900.1,1032.9 902.2,1034.7 904.4,1036.4 906.5,1038.2 908.6,1039.9 910.8,1041.7 912.9,1043.4 915.0,1045.1 917.2,1046.9 919.3,1048.6 921.4,1050.3 923.6,1052.0 925.7,1053.6 927.8,1055.3 929.9,1057.0 932.1,1058.7 934.2,1060.3 936.3,1062.0 938.5,1063.6 940.6,1065.3 942.7,1066.9 944.9,1068.6 947.0,1070.2 949.1,1071.8 951.3,1073.4 953.4,1075.0 955.5,1076.6 957.7,1078.2 959.8,1079.8 961.9,1081.4 964.1,1082.9 966.2,1084.5 968.3,1086.0 970.4,1087.6 972.6,1089.1 974.7,1090.7 976.8,1092.2 979.0,1093.7 981.1,1095.3 983.2,1096.8 985.4,1098.3 987.5,1099.8 989.6,1101.3 991.8,1102.8 993.9,1104.3 996.0,1105.7 998.2,1107.2 1000.3,1108.7 1002.4,1110.2 1004.5,1111.6 1006.7,1113.1 1008.8,1114.5 1010.9,1115.9 1013.1,1117.4 1015.2,1118.8 1017.3,1120.2 1019.5,1121.6 1021.6,1123.0 1023.7,1124.5 1025.9,1125.8 1028.0,1127.2 1030.1,1128.6 1032.3,1130.0 1034.4,1131.4 1036.5,1132.8 1038.7,1134.1 1040.8,1135.5 1042.9,1136.8 1045.0,1138.2 1047.2,1139.5 1049.3,1140.9 1051.4,1142.2 1053.6,1143.5 1055.7,1144.9 1057.8,1146.2 1060.0,1147.5 1062.1,1148.8 1064.2,1150.1 1066.4,1151.4 1068.5,1152.7 1070.6,1154.0 1072.8,1155.2 1074.9,1156.5 1077.0,1157.8 1079.2,1159.1 1081.3,1160.3 1083.4,1161.6 1085.5,1162.8 1087.7,1164.1 1089.8,1165.3 1091.9,1166.5 1094.1,1167.8 1096.2,1169.0 1098.3,1170.2 1100.5,1171.4 1102.6,1172.6 1104.7,1173.8 1106.9,1175.0 1109.0,1176.2 1111.1,1177.4 1113.3,1178.6 1115.4,1179.8 1117.5,1181.0 1119.7,1182.2 1121.8,1183.3 1123.9,1184.5 1126.0,1185.6 1128.2,1186.8 1130.3,1187.9 1132.4,1189.1 1134.6,1190.2 1136.7,1191.4 1138.8,1192.5 1141.0,1193.6 1143.1,1194.7 1145.2,1195.9 1147.4,1197.0 1149.5,1198.1 1151.6,1199.2 1153.8,1200.3 1155.9,1201.4 1158.0,1202.5 1160.1,1203.6 1162.3,1204.6 1164.4,1205.7 1166.5,1206.8 1168.7,1207.9 1170.8,1208.9 1172.9,1210.0 1175.1,1211.1 1177.2,1212.1 1179.3,1213.2 1181.5,1214.2 1183.6,1215.2 1185.7,1216.3 1187.9,1217.3 1190.0,1218.3 1192.1,1219.4 1194.3,1220.4 1196.4,1221.4 1198.5,1222.4 1200.6,1223.4 1202.8,1224.4 1204.9,1225.4 1207.0,1226.4 1209.2,1227.4 1211.3,1228.4 1213.4,1229.4 1215.6,1230.4 1217.7,1231.3 1219.8,1232.3 1222.0,1233.3 1224.1,1234.3 1226.2,1235.2 1228.4,1236.2 1230.5,1237.1 1232.6,1238.1 1234.8,1239.0 1236.9,1240.0 1239.0,1240.9 1241.1,1241.8 1243.3,1242.8 1245.4,1243.7 1247.5,1244.6 1249.7,1245.6 1251.8,1246.5 1253.9,1247.4 1256.1,1248.3 1258.2,1249.2 1260.3,1250.1 1262.5,1251.0 1264.6,1251.9 1266.7,1252.8 1268.9,1253.7 1271.0,1254.6 1273.1,1255.5 1275.2,1256.4 1277.4,1257.2 1279.5,1258.1 1281.6,1259.0 1283.8,1259.9 1285.9,1260.7 1288.0,1261.6 1290.2,1262.5 1292.3,1263.3 1294.4,1264.2 1296.6,1265.0 1298.7,1265.9 1300.8,1266.7 1303.0,1267.5 1305.1,1268.4 1307.2,1269.2 1309.4,1270.1 1311.5,1270.9 1313.6,1271.7 1315.7,1272.5 1317.9,1273.3 1320.0,1274.2 1322.1,1275.0 1324.3,1275.8 1326.4,1276.6 1328.5,1277.4 1330.7,1278.2 1332.8,1279.0 1334.9,1279.8 1337.1,1280.6 1339.2,1281.4 1341.3,1282.2 1343.5,1283.0 1345.6,1283.7 1347.7,1284.5 1349.9,1285.3 1352.0,1286.1 1354.1,1286.9 1356.2,1287.6 1358.4,1288.4 1360.5,1289.2 1362.6,1289.9 1364.8,1290.7 1366.9,1291.4 1369.0,1292.2 1371.2,1292.9 1373.3,1293.7 1375.4,1294.4 1377.6,1295.2 1379.7,1295.9 1381.8,1296.6 1384.0,1297.4 1386.1,1298.1 1388.2,1298.8 1390.4,1299.6 1392.5,1300.3 1394.6,1301.0 1396.7,1301.7 1398.9,1302.5 1401.0,1303.2 1403.1,1303.9 1405.3,1304.6 1407.4,1305.3 1409.5,1306.0 1411.7,1306.7 1413.8,1307.4 1415.9,1308.1 1418.1,1308.8 1420.2,1309.5 1422.3,1310.2 1424.5,1310.9 1426.6,1311.6 1428.7,1312.3 1430.8,1312.9 1433.0,1313.6 1435.1,1314.3 1437.2,1315.0 1439.4,1315.6 1441.5,1316.3 1443.6,1317.0 1445.8,1317.7 1447.9,1318.3 1450.0,1319.0 1452.2,1319.6 1454.3,1320.3 1456.4,1321.0 1458.6,1321.6 1460.7,1322.3 1462.8,1322.9 1465.0,1323.6 1467.1,1324.2 1469.2,1324.8 1471.3,1325.5 1473.5,1326.1 1475.6,1326.8 1477.7,1327.4 1479.9,1328.0 1482.0,1328.7 1484.1,1329.3 1486.3,1329.9 1488.4,1330.5 1490.5,1331.2 1492.7,1331.8 1494.8,1332.4 1496.9,1333.0 1499.1,1333.6 1501.2,1334.3 1503.3,1334.9 1505.5,1335.5 1507.6,1336.1 1509.7,1336.7 1511.8,1337.3 1514.0,1337.9 1516.1,1338.5 1518.2,1339.1 1520.4,1339.7 1522.5,1340.3 1524.6,1340.9 1526.8,1341.5 1528.9,1342.1 1531.0,1342.6 1533.2,1343.2 1535.3,1343.8 1537.4,1344.4 1539.6,1345.0 1541.7,1345.5 1543.8,1346.1 1546.0,1346.7 1548.1,1347.3 1550.2,1347.8 1552.3,1348.4 1554.5,1349.0 1556.6,1349.5 1558.7,1350.1 1560.9,1350.7 1563.0,1351.2 1565.1,1351.8 1567.3,1352.3 1569.4,1352.9 1571.5,1353.5 1573.7,1354.0 1575.8,1354.6 1577.9,1355.1 1580.1,1355.7 1582.2,1356.2 1584.3,1356.7 1586.4,1357.3 1588.6,1357.8 1590.7,1358.4 1592.8,1358.9 1595.0,1359.4 1597.1,1360.0 1599.2,1360.5 1601.4,1361.0 1603.5,1361.6 1605.6,1362.1 1607.8,1362.6 1609.9,1363.2 1612.0,1363.7 1614.2,1364.2 1616.3,1364.7 1618.4,1365.2 1620.6,1365.8 1622.7,1366.3 1624.8,1366.8 1626.9,1367.3 1629.1,1367.8 1631.2,1368.3 1633.3,1368.8 1635.5,1369.3 1637.6,1369.8 1639.7,1370.3 1641.9,1370.8 1644.0,1371.3 1646.1,1371.8 1648.3,1372.3 1650.4,1372.8 1652.5,1373.3 1654.7,1373.8 1656.8,1374.3 1658.9,1374.8 1661.1,1375.3 1663.2,1375.8 1665.3,1376.3 1667.4,1376.8 1669.6,1377.3 1671.7,1377.7 1673.8,1378.2 1676.0,1378.7 1678.1,1379.2 1680.2,1379.7 1682.4,1380.1 1684.5,1380.6 1686.6,1381.1 1688.8,1381.6 1690.9,1382.0 1693.0,1382.5 1695.2,1383.0 1697.3,1383.4 1699.4,1383.9 1701.5,1384.4 1703.7,1384.8 1705.8,1385.3 1707.9,1385.8 1710.1,1386.2 1712.2,1386.7 1714.3,1387.1 1716.5,1387.6 1718.6,1388.0 1720.7,1388.5 1722.9,1388.9 1725.0,1389.4 1727.1,1389.8 1729.3,1390.3 1731.4,1390.7 1733.5,1391.2 1735.7,1391.6 1737.8,1392.1 1739.9,1392.5 1742.0,1393.0 1744.2,1393.4 1746.3,1393.8 1748.4,1394.3 1750.6,1394.7 1752.7,1395.1 1754.8,1395.6 1757.0,1396.0 1759.1,1396.4 1761.2,1396.9 1763.4,1397.3 1765.5,1397.7 1767.6,1398.1 1769.8,1398.6 1771.9,1399.0 1774.0,1399.4 1776.2,1399.8 1778.3,1400.3 1780.4,1400.7 1782.5,1401.1 1784.7,1401.5 1786.8,1401.9 1788.9,1402.3 1791.1,1402.8 1793.2,1403.2 1795.3,1403.6 1797.5,1404.0 1799.6,1404.4 1801.7,1404.8 1803.9,1405.2 1806.0,1405.6 1808.1,1406.0 1810.3,1406.4 1812.4,1406.8 1814.5,1407.2 1816.7,1407.6 1818.8,1408.0 1820.9,1408.4 1823.0,1408.8 1825.2,1409.2 1827.3,1409.6 1829.4,1410.0 1831.6,1410.4 1833.7,1410.8 1835.8,1411.2 1838.0,1411.6 1840.1,1412.0 1842.2,1412.3 1844.4,1412.7 1846.5,1413.1 1848.6,1413.5 1850.8,1413.9 1852.9,1414.3 1855.0,1414.6 1857.1,1415.0 1859.3,1415.4 1861.4,1415.8 1863.5,1416.2 1865.7,1416.5 1867.8,1416.9 1869.9,1417.3 1872.1,1417.7 1874.2,1418.0 1876.3,1418.4 1878.5,1418.8 1880.6,1419.1 1882.7,1419.5 1884.9,1419.9 1887.0,1420.2 1889.1,1420.6 1891.3,1421.0 1893.4,1421.3 1895.5,1421.7 1897.6,1422.0 1899.8,1422.4 1901.9,1422.8 1904.0,1423.1 1906.2,1423.5 1908.3,1423.8 1910.4,1424.2 1912.6,1424.5 1914.7,1424.9 1916.8,1425.2 1919.0,1425.6 1921.1,1425.9 1923.2,1426.3 1925.4,1426.6 1927.5,1427.0 1929.6,1427.3 1931.8,1427.7 1933.9,1428.0 1936.0,1428.4 1938.1,1428.7 1940.3,1429.0 1942.4,1429.4 1944.5,1429.7 1946.7,1430.1 1948.8,1430.4 1950.9,1430.7 1953.1,1431.1 1955.2,1431.4 1957.3,1431.7 1959.5,1432.1 1961.6,1432.4 1963.7,1432.7 1965.9,1433.1 1968.0,1433.4 1970.1,1433.7 1972.3,1434.0 1974.4,1434.4 1976.5,1434.7 1978.6,1435.0 1980.8,1435.3 1982.9,1435.7 1985.0,1436.0 1987.2,1436.3 1989.3,1436.6 1991.4,1437.0 1993.6,1437.3 1995.7,1437.6 1997.8,1437.9 2000.0,1438.2 2002.1,1438.5 2004.2,1438.8 2006.4,1439.2 2008.5,1439.5 2010.6,1439.8 2012.7,1440.1 2014.9,1440.4 2017.0,1440.7 2019.1,1441.0 2021.3,1441.3 2023.4,1441.6 2025.5,1441.9 2027.7,1442.3 2029.8,1442.6 2031.9,1442.9 2034.1,1443.2 2036.2,1443.5 2038.3,1443.8 2040.5,1444.1 2042.6,1444.4 2044.7,1444.7 2046.9,1445.0 2049.0,1445.3 2051.1,1445.6 2053.2,1445.8 2055.4,1446.1 2057.5,1446.4 2059.6,1446.7 2061.8,1447.0 2063.9,1447.3 2066.0,1447.6 2068.2,1447.9 2070.3,1448.2 2072.4,1448.5 2074.6,1448.8 2076.7,1449.0 2078.8,1449.3 2081.0,1449.6 2083.1,1449.9 2085.2,1450.2 2087.4,1450.5 2089.5,1450.7 2091.6,1451.0 2093.7,1451.3 2095.9,1451.6 2098.0,1451.9 2100.1,1452.1 2102.3,1452.4 2104.4,1452.7 2106.5,1453.0 2108.7,1453.2 2110.8,1453.5 2112.9,1453.8 2115.1,1454.1 2117.2,1454.3 2119.3,1454.6 2121.5,1454.9 2123.6,1455.2 2125.7,1455.4 2127.9,1455.7 2130.0,1456.0 2132.1,1456.2 2134.2,1456.5 2136.4,1456.8 2138.5,1457.0 2140.6,1457.3 2142.8,1457.6 2144.9,1457.8 2147.0,1458.1 2149.2,1458.3 2151.3,1458.6 2153.4,1458.9 2155.6,1459.1 2157.7,1459.4 2159.8,1459.6 2162.0,1459.9 2164.1,1460.2 2166.2,1460.4 2168.3,1460.7 2170.5,1460.9 2172.6,1461.2 2174.7,1461.4 2176.9,1461.7 2179.0,1461.9 2181.1,1462.2 2183.3,1462.4 2185.4,1462.7 2187.5,1462.9 2189.7,1463.2 2191.8,1463.4 2193.9,1463.7 2196.1,1463.9 2198.2,1464.2 2200.3,1464.4 2202.5,1464.7 2204.6,1464.9 2206.7,1465.1 2208.8,1465.4 2211.0,1465.6 2213.1,1465.9 2215.2,1466.1 2217.4,1466.3 2219.5,1466.6 2221.6,1466.8 2223.8,1467.1 2225.9,1467.3 2228.0,1467.5 2230.2,1467.8 2232.3,1468.0 2234.4,1468.2 2236.6,1468.5 2238.7,1468.7 2240.8,1468.9 2243.0,1469.2 2245.1,1469.4 2247.2,1469.6 2249.3,1469.9 2251.5,1470.1 2253.6,1470.3 2255.7,1470.6 2257.9,1470.8 2260.0,1471.0 2262.1,1471.2 2264.3,1471.5 2266.4,1471.7 2268.5,1471.9 2270.7,1472.1 2272.8,1472.4 2274.9,1472.6 2277.1,1472.8 2279.2,1473.0 2281.3,1473.3 2283.4,1473.5 2285.6,1473.7 2287.7,1473.9 2289.8,1474.1 2292.0,1474.4 2294.1,1474.6 2296.2,1474.8 2298.4,1475.0 2300.5,1475.2 2302.6,1475.4 2304.8,1475.6 2306.9,1475.9 2309.0,1476.1 2311.2,1476.3 2313.3,1476.5 2315.4,1476.7 2317.6,1476.9 2319.7,1477.1 2321.8,1477.3 2323.9,1477.6 2326.1,1477.8 2328.2,1478.0 2330.3,1478.2 2332.5,1478.4 2334.6,1478.6 2336.7,1478.8 2338.9,1479.0 2341.0,1479.2" fill="none" stroke="#c0157a" stroke-width="4" stroke-dasharray="22 6 9 6"/>
<polyline points="209.5,56.0 211.6,56.0 213.8,56.1 215.9,56.3 218.0,56.5 220.2,56.8 222.3,57.1 224.4,57.5 226.6,57.9 228.7,58.4 230.8,59.0 232.9,59.6 235.1,60.3 237.2,61.0 239.3,61.8 241.5,62.7 243.6,63.5 245.7,64.5 247.9,65.5 250.0,66.5 252.1,67.6 254.3,68.8 256.4,70.0 258.5,71.2 260.7,72.5 262.8,73.8 264.9,75.2 267.1,76.7 269.2,78.1 271.3,79.7 273.4,81.2 275.6,82.9 277.7,84.5 279.8,86.2 282.0,88.0 284.1,89.7 286.2,91.6 288.4,93.4 290.5,95.3 292.6,97.3 294.8,99.3 296.9,101.3 299.0,103.4 301.2,105.5 303.3,107.6 305.4,109.8 307.5,112.0 309.7,114.2 311.8,116.5 313.9,118.8 316.1,121.2 318.2,123.6 320.3,126.0 322.5,128.4 324.6,130.9 326.7,133.4 328.9,136.0 331.0,138.6 333.1,141.2 335.3,143.8 337.4,146.5 339.5,149.1 341.7,151.9 343.8,154.6 345.9,157.4 348.0,160.2 350.2,163.0 352.3,165.9 354.4,168.7 356.6,171.7 358.7,174.6 360.8,177.5 363.0,180.5 365.1,183.5 367.2,186.5 369.4,189.6 371.5,192.6 373.6,195.7 375.8,198.8 377.9,202.0 380.0,205.1 382.2,208.3 384.3,211.5 386.4,214.7 388.5,217.9 390.7,221.1 392.8,224.4 394.9,227.7 397.1,231.0 399.2,234.3 401.3,237.6 403.5,241.0 405.6,244.3 407.7,247.7 409.9,251.1 412.0,254.5 414.1,257.9 416.3,261.3 418.4,264.8 420.5,268.2 422.6,271.7 424.8,275.2 426.9,278.7 429.0,282.2 431.2,285.7 433.3,289.2 435.4,292.8 437.6,296.3 439.7,299.9 441.8,303.5 444.0,307.0 446.1,310.6 448.2,314.2 450.4,317.8 452.5,321.4 454.6,325.0 456.8,328.7 458.9,332.3 461.0,335.9 463.1,339.6 465.3,343.2 467.4,346.9 469.5,350.6 471.7,354.2 473.8,357.9 475.9,361.6 478.1,365.3 480.2,369.0 482.3,372.6 484.5,376.3 486.6,380.0 488.7,383.7 490.9,387.5 493.0,391.2 495.1,394.9 497.3,398.6 499.4,402.3 501.5,406.0 503.6,409.7 505.8,413.5 507.9,417.2 510.0,420.9 512.2,424.6 514.3,428.3 516.4,432.1 518.6,435.8 520.7,439.5 522.8,443.2 525.0,447.0 527.1,450.7 529.2,454.4 531.4,458.1 533.5,461.8 535.6,465.6 537.8,469.3 539.9,473.0 542.0,476.7 544.1,480.4 546.3,484.1 548.4,487.8 550.5,491.5 552.7,495.2 554.8,498.9 556.9,502.6 559.1,506.3 561.2,510.0 563.3,513.7 565.5,517.3 567.6,521.0 569.7,524.7 571.9,528.4 574.0,532.0 576.1,535.7 578.2,539.3 580.4,543.0 582.5,546.6 584.6,550.2 586.8,553.9 588.9,557.5 591.0,561.1 593.2,564.7 595.3,568.3 597.4,571.9 599.6,575.5 601.7,579.1 603.8,582.7 606.0,586.3 608.1,589.9 610.2,593.4 612.4,597.0 614.5,600.5 616.6,604.1 618.7,607.6 620.9,611.1 623.0,614.6 625.1,618.2 627.3,621.7 629.4,625.2 631.5,628.7 633.7,632.1 635.8,635.6 637.9,639.1 640.1,642.5 642.2,646.0 644.3,649.4 646.5,652.9 648.6,656.3 650.7,659.7 652.9,663.1 655.0,666.5 657.1,669.9 659.2,673.3 661.4,676.7 663.5,680.1 665.6,683.4 667.8,686.8 669.9,690.1 672.0,693.4 674.2,696.7 676.3,700.1 678.4,703.4 680.6,706.7 682.7,709.9 684.8,713.2 687.0,716.5 689.1,719.7 691.2,723.0 693.4,726.2 695.5,729.5 697.6,732.7 699.7,735.9 701.9,739.1 704.0,742.3 706.1,745.4 708.3,748.6 710.4,751.8 712.5,754.9 714.7,758.1 716.8,761.2 718.9,764.3 721.1,767.4 723.2,770.5 725.3,773.6 727.5,776.7 729.6,779.8 731.7,782.8 733.8,785.9 736.0,788.9 738.1,791.9 740.2,795.0 742.4,798.0 744.5,801.0 746.6,803.9 748.8,806.9 750.9,809.9 753.0,812.8 755.2,815.8 757.3,818.7 759.4,821.7 761.6,824.6 763.7,827.5 765.8,830.4 768.0,833.3 770.1,836.1 772.2,839.0 774.3,841.8 776.5,844.7 778.6,847.5 780.7,850.3 782.9,853.1 785.0,855.9 787.1,858.7 789.3,861.5 791.4,864.3 793.5,867.0 795.7,869.8 797.8,872.5 799.9,875.2 802.1,878.0 804.2,880.7 806.3,883.4 808.5,886.0 810.6,888.7 812.7,891.4 814.8,894.0 817.0,896.7 819.1,899.3 821.2,901.9 823.4,904.5 825.5,907.1 827.6,909.7 829.8,912.3 831.9,914.9 834.0,917.4 836.2,920.0 838.3,922.5 840.4,925.1 842.6,927.6 844.7,930.1 846.8,932.6 849.0,935.1 851.1,937.5 853.2,940.0 855.3,942.5 857.5,944.9 859.6,947.4 861.7,949.8 863.9,952.2 866.0,954.6 868.1,957.0 870.3,959.4 872.4,961.8 874.5,964.1 876.7,966.5 878.8,968.8 880.9,971.2 883.1,973.5 885.2,975.8 887.3,978.1 889.4,980.4 891.6,982.7 893.7,985.0 895.8,987.2 898.0,989.5 900.1,991.7 902.2,994.0 904.4,996.2 906.5,998.4 908.6,1000.6 910.8,1002.8 912.9,1005.0 915.0,1007.2 917.2,1009.4 919.3,1011.5 921.4,1013.7 923.6,1015.8 925.7,1017.9 927.8,1020.1 929.9,1022.2 932.1,1024.3 934.2,1026.4 936.3,1028.4 938.5,1030.5 940.6,1032.6 942.7,1034.6 944.9,1036.7 947.0,1038.7 949.1,1040.8 951.3,1042.8 953.4,1044.8 955.5,1046.8 957.7,1048.8 959.8,1050.8 961.9,1052.7 964.1,1054.7 966.2,1056.7 968.3,1058.6 970.4,1060.5 972.6,1062.5 974.7,1064.4 976.8,1066.3 979.0,1068.2 981.1,1070.1 983.2,1072.0 985.4,1073.9 987.5,1075.7 989.6,1077.6 991.8,1079.4 993.9,1081.3 996.0,1083.1 998.2,1084.9 1000.3,1086.7 1002.4,1088.5 1004.5,1090.3 1006.7,1092.1 1008.8,1093.9 1010.9,1095.7 1013.1,1097.5 1015.2,1099.2 1017.3,1101.0 1019.5,1102.7 1021.6,1104.4 1023.7,1106.2 1025.9,1107.9 1028.0,1109.6 1030.1,1111.3 1032.3,1113.0 1034.4,1114.7 1036.5,1116.3 1038.7,1118.0 1040.8,1119.7 1042.9,1121.3 1045.0,1123.0 1047.2,1124.6 1049.3,1126.2 1051.4,1127.9 1053.6,1129.5 1055.7,1131.1 1057.8,1132.7 1060.0,1134.3 1062.1,1135.8 1064.2,1137.4 1066.4,1139.0 1068.5,1140.5 1070.6,1142.1 1072.8,1143.6 1074.9,1145.2 1077.0,1146.7 1079.2,1148.2 1081.3,1149.8 1083.4,1151.3 1085.5,1152.8 1087.7,1154.3 1089.8,1155.7 1091.9,1157.2 1094.1,1158.7 1096.2,1160.2 1098.3,1161.6 1100.5,1163.1 1102.6,1164.5 1104.7,1166.0 1106.9,1167.4 1109.0,1168.8 1111.1,1170.2 1113.3,1171.6 1115.4,1173.0 1117.5,1174.4 1119.7,1175.8 1121.8,1177.2 1123.9,1178.6 1126.0,1179.9 1128.2,1181.3 1130.3,1182.7 1132.4,1184.0 1134.6,1185.4 1136.7,1186.7 1138.8,1188.0 1141.0,1189.3 1143.1,1190.7 1145.2,1192.0 1147.4,1193.3 1149.5,1194.6 1151.6,1195.9 1153.8,1197.1 1155.9,1198.4 1158.0,1199.7 1160.1,1201.0 1162.3,1202.2 1164.4,1203.5 1166.5,1204.7 1168.7,1206.0 1170.8,1207.2 1172.9,1208.4 1175.1,1209.6 1177.2,1210.9 1179.3,1212.1 1181.5,1213.3 1183.6,1214.5 1185.7,1215.7 1187.9,1216.9 1190.0,1218.0 1192.1,1219.2 1194.3,1220.4 1196.4,1221.6 1198.5,1222.7 1200.6,1223.9 1202.8,1225.0 1204.9,1226.2 1207.0,1227.3 1209.2,1228.4 1211.3,1229.5 1213.4,1230.7 1215.6,1231.8 1217.7,1232.9 1219.8,1234.0 1222.0,1235.1 1224.1,1236.2 1226.2,1237.3 1228.4,1238.3 1230.5,1239.4 1232.6,1240.5 1234.8,1241.6 1236.9,1242.6 1239.0,1243.7 1241.1,1244.7 1243.3,1245.8 1245.4,1246.8 1247.5,1247.8 1249.7,1248.9 1251.8,1249.9 1253.9,1250.9 1256.1,1251.9 1258.2,1252.9 1260.3,1253.9 1262.5,1254.9 1264.6,1255.9 1266.7,1256.9 1268.9,1257.9 1271.0,1258.9 1273.1,1259.8 1275.2,1260.8 1277.4,1261.8 1279.5,1262.7 1281.6,1263.7 1283.8,1264.6 1285.9,1265.6 1288.0,1266.5 1290.2,1267.5 1292.3,1268.4 1294.4,1269.3 1296.6,1270.2 1298.7,1271.2 1300.8,1272.1 1303.0,1273.0 1305.1,1273.9 1307.2,1274.8 1309.4,1275.7 1311.5,1276.6 1313.6,1277.5 1315.7,1278.3 1317.9,1279.2 1320.0,1280.1 1322.1,1281.0 1324.3,1281.8 1326.4,1282.7 1328.5,1283.5 1330.7,1284.4 1332.8,1285.2 1334.9,1286.1 1337.1,1286.9 1339.2,1287.8 1341.3,1288.6 1343.5,1289.4 1345.6,1290.2 1347.7,1291.1 1349.9,1291.9 1352.0,1292.7 1354.1,1293.5 1356.2,1294.3 1358.4,1295.1 1360.5,1295.9 1362.6,1296.7 1364.8,1297.5 1366.9,1298.3 1369.0,1299.0 1371.2,1299.8 1373.3,1300.6 1375.4,1301.3 1377.6,1302.1 1379.7,1302.9 1381.8,1303.6 1384.0,1304.4 1386.1,1305.1 1388.2,1305.9 1390.4,1306.6 1392.5,1307.4 1394.6,1308.1 1396.7,1308.8 1398.9,1309.5 1401.0,1310.3 1403.1,1311.0 1405.3,1311.7 1407.4,1312.4 1409.5,1313.1 1411.7,1313.8 1413.8,1314.5 1415.9,1315.2 1418.1,1315.9 1420.2,1316.6 1422.3,1317.3 1424.5,1318.0 1426.6,1318.7 1428.7,1319.4 1430.8,1320.0 1433.0,1320.7 1435.1,1321.4 1437.2,1322.0 1439.4,1322.7 1441.5,1323.4 1443.6,1324.0 1445.8,1324.7 1447.9,1325.3 1450.0,1326.0 1452.2,1326.6 1454.3,1327.2 1456.4,1327.9 1458.6,1328.5 1460.7,1329.1 1462.8,1329.8 1465.0,1330.4 1467.1,1331.0 1469.2,1331.6 1471.3,1332.3 1473.5,1332.9 1475.6,1333.5 1477.7,1334.1 1479.9,1334.7 1482.0,1335.3 1484.1,1335.9 1486.3,1336.5 1488.4,1337.1 1490.5,1337.7 1492.7,1338.2 1494.8,1338.8 1496.9,1339.4 1499.1,1340.0 1501.2,1340.6 1503.3,1341.1 1505.5,1341.7 1507.6,1342.3 1509.7,1342.8 1511.8,1343.4 1514.0,1343.9 1516.1,1344.5 1518.2,1345.0 1520.4,1345.6 1522.5,1346.1 1524.6,1346.7 1526.8,1347.2 1528.9,1347.8 1531.0,1348.3 1533.2,1348.8 1535.3,1349.4 1537.4,1349.9 1539.6,1350.4 1541.7,1351.0 1543.8,1351.5 1546.0,1352.0 1548.1,1352.5 1550.2,1353.0 1552.3,1353.5 1554.5,1354.0 1556.6,1354.5 1558.7,1355.0 1560.9,1355.5 1563.0,1356.0 1565.1,1356.5 1567.3,1357.0 1569.4,1357.5 1571.5,1358.0 1573.7,1358.5 1575.8,1359.0 1577.9,1359.5 1580.1,1360.0 1582.2,1360.4 1584.3,1360.9 1586.4,1361.4 1588.6,1361.9 1590.7,1362.3 1592.8,1362.8 1595.0,1363.2 1597.1,1363.7 1599.2,1364.2 1601.4,1364.6 1603.5,1365.1 1605.6,1365.5 1607.8,1366.0 1609.9,1366.4 1612.0,1366.9 1614.2,1367.3 1616.3,1367.8 1618.4,1368.2 1620.6,1368.6 1622.7,1369.1 1624.8,1369.5 1626.9,1369.9 1629.1,1370.4 1631.2,1370.8 1633.3,1371.2 1635.5,1371.7 1637.6,1372.1 1639.7,1372.5 1641.9,1372.9 1644.0,1373.3 1646.1,1373.7 1648.3,1374.2 1650.4,1374.6 1652.5,1375.0 1654.7,1375.4 1656.8,1375.8 1658.9,1376.2 1661.1,1376.6 1663.2,1377.0 1665.3,1377.4 1667.4,1377.8 1669.6,1378.2 1671.7,1378.6 1673.8,1378.9 1676.0,1379.3 1678.1,1379.7 1680.2,1380.1 1682.4,1380.5 1684.5,1380.9 1686.6,1381.2 1688.8,1381.6 1690.9,1382.0 1693.0,1382.4 1695.2,1382.7 1697.3,1383.1 1699.4,1383.5 1701.5,1383.8 1703.7,1384.2 1705.8,1384.6 1707.9,1384.9 1710.1,1385.3 1712.2,1385.6 1714.3,1386.0 1716.5,1386.3 1718.6,1386.7 1720.7,1387.0 1722.9,1387.4 1725.0,1387.7 1727.1,1388.1 1729.3,1388.4 1731.4,1388.8 1733.5,1389.1 1735.7,1389.5 1737.8,1389.8 1739.9,1390.1 1742.0,1390.5 1744.2,1390.8 1746.3,1391.1 1748.4,1391.5 1750.6,1391.8 1752.7,1392.1 1754.8,1392.4 1757.0,1392.8 1759.1,1393.1 1761.2,1393.4 1763.4,1393.7 1765.5,1394.0 1767.6,1394.4 1769.8,1394.7 1771.9,1395.0 1774.0,1395.3 1776.2,1395.6 1778.3,1395.9 1780.4,1396.2 1782.5,1396.5 1784.7,1396.8 1786.8,1397.1 1788.9,1397.4 1791.1,1397.7 1793.2,1398.0 1795.3,1398.3 1797.5,1398.6 1799.6,1398.9 1801.7,1399.2 1803.9,1399.5 1806.0,1399.8 1808.1,1400.1 1810.3,1400.4 1812.4,1400.7 1814.5,1401.0 1816.7,1401.2 1818.8,1401.5 1820.9,1401.8 1823.0,1402.1 1825.2,1402.4 1827.3,1402.6 1829.4,1402.9 1831.6,1403.2 1833.7,1403.5 1835.8,1403.7 1838.0,1404.0 1840.1,1404.3 1842.2,1404.6 1844.4,1404.8 1846.5,1405.1 1848.6,1405.4 1850.8,1405.6 1852.9,1405.9 1855.0,1406.1 1857.1,1406.4 1859.3,1406.7 1861.4,1406.9 1863.5,1407.2 1865.7,1407.4 1867.8,1407.7 1869.9,1407.9 1872.1,1408.2 1874.2,1408.4 1876.3,1408.7 1878.5,1408.9 1880.6,1409.2 1882.7,1409.4 1884.9,1409.7 1887.0,1409.9 1889.1,1410.2 1891.3,1410.4 1893.4,1410.7 1895.5,1410.9 1897.6,1411.1 1899.8,1411.4 1901.9,1411.6 1904.0,1411.8 1906.2,1412.1 1908.3,1412.3 1910.4,1412.5 1912.6,1412.8 1914.7,1413.0 1916.8,1413.2 1919.0,1413.5 1921.1,1413.7 1923.2,1413.9 1925.4,1414.1 1927.5,1414.4 1929.6,1414.6 1931.8,1414.8 1933.9,1415.0 1936.0,1415.3 1938.1,1415.5 1940.3,1415.7 1942.4,1415.9 1944.5,1416.1 1946.7,1416.4 1948.8,1416.6 1950.9,1416.8 1953.1,1417.0 1955.2,1417.2 1957.3,1417.4 1959.5,1417.6 1961.6,1417.8 1963.7,1418.0 1965.9,1418.2 1968.0,1418.5 1970.1,1418.7 1972.3,1418.9 1974.4,1419.1 1976.5,1419.3 1978.6,1419.5 1980.8,1419.7 1982.9,1419.9 1985.0,1420.1 1987.2,1420.3 1989.3,1420.5 1991.4,1420.7 1993.6,1420.9 1995.7,1421.1 1997.8,1421.3 2000.0,1421.4 2002.1,1421.6 2004.2,1421.8 2006.4,1422.0 2008.5,1422.2 2010.6,1422.4 2012.7,1422.6 2014.9,1422.8 2017.0,1423.0 2019.1,1423.1 2021.3,1423.3 2023.4,1423.5 2025.5,1423.7 2027.7,1423.9 2029.8,1424.1 2031.9,1424.2 2034.1,1424.4 2036.2,1424.6 2038.3,1424.8 2040.5,1425.0 2042.6,1425.1 2044.7,1425.3 2046.9,1425.5 2049.0,1425.7 2051.1,1425.8 2053.2,1426.0 2055.4,1426.2 2057.5,1426.4 2059.6,1426.5 2061.8,1426.7 2063.9,1426.9 2066.0,1427.0 2068.2,1427.2 2070.3,1427.4 2072.4,1427.5 2074.6,1427.7 2076.7,1427.9 2078.8,1428.0 2081.0,1428.2 2083.1,1428.4 2085.2,1428.5 2087.4,1428.7 2089.5,1428.8 2091.6,1429.0 2093.7,1429.2 2095.9,1429.3 2098.0,1429.5 2100.1,1429.6 2102.3,1429.8 2104.4,1429.9 2106.5,1430.1 2108.7,1430.3 2110.8,1430.4 2112.9,1430.6 2115.1,1430.7 2117.2,1430.9 2119.3,1431.0 2121.5,1431.2 2123.6,1431.3 2125.7,1431.5 2127.9,1431.6 2130.0,1431.8 2132.1,1431.9 2134.2,1432.1 2136.4,1432.2 2138.5,1432.4 2140.6,1432.5 2142.8,1432.6 2144.9,1432.8 2147.0,1432.9 2149.2,1433.1 2151.3,1433.2 2153.4,1433.4 2155.6,1433.5 2157.7,1433.6 2159.8,1433.8 2162.0,1433.9 2164.1,1434.1 2166.2,1434.2 2168.3,1434.3 2170.5,1434.5 2172.6,1434.6 2174.7,1434.7 2176.9,1434.9 2179.0,1435.0 2181.1,1435.1 2183.3,1435.3 2185.4,1435.4 2187.5,1435.5 2189.7,1435.7 2191.8,1435.8 2193.9,1435.9 2196.1,1436.1 2198.2,1436.2 2200.3,1436.3 2202.5,1436.5 2204.6,1436.6 2206.7,1436.7 2208.8,1436.8 2211.0,1437.0 2213.1,1437.1 2215.2,1437.2 2217.4,1437.3 2219.5,1437.5 2221.6,1437.6 2223.8,1437.7 2225.9,1437.8 2228.0,1438.0 2230.2,1438.1 2232.3,1438.2 2234.4,1438.3 2236.6,1438.4 2238.7,1438.6 2240.8,1438.7 2243.0,1438.8 2245.1,1438.9 2247.2,1439.0 2249.3,1439.2 2251.5,1439.3 2253.6,1439.4 2255.7,1439.5 2257.9,1439.6 2260.0,1439.7 2262.1,1439.9 2264.3,1440.0 2266.4,1440.1 2268.5,1440.2 2270.7,1440.3 2272.8,1440.4 2274.9,1440.5 2277.1,1440.6 2279.2,1440.7 2281.3,1440.9 2283.4,1441.0 2285.6,1441.1 2287.7,1441.2 2289.8,1441.3 2292.0,1441.4 2294.1,1441.5 2296.2,1441.6 2298.4,1441.7 2300.5,1441.8 2302.6,1441.9 2304.8,1442.0 2306.9,1442.2 2309.0,1442.3 2311.2,1442.4 2313.3,1442.5 2315.4,1442.6 2317.6,1442.7 2319.7,1442.8 2321.8,1442.9 2323.9,1443.0 2326.1,1443.1 2328.2,1443.2 2330.3,1443.3 2332.5,1443.4 2334.6,1443.5 2336.7,1443.6 2338.9,1443.7 2341.0,1443.8" fill="none" stroke="#1e7cf2" stroke-width="7" stroke-dasharray="7 7"/>
<polyline points="569.5,302.0 571.7,300.5 573.9,308.5 576.2,316.4 578.4,324.2 580.6,331.9 582.8,339.6 585.0,347.2 587.2,354.7 589.4,362.2 591.7,369.6 593.9,376.9 596.1,384.1 598.3,391.3 600.5,398.4 602.7,405.5 604.9,412.5 607.2,419.4 609.4,426.3 611.6,433.0 613.8,439.8 616.0,446.5 618.2,453.1 620.4,459.6 622.7,466.1 624.9,472.5 627.1,478.9 629.3,485.2 631.5,491.5 633.7,497.7 635.9,503.9 638.2,510.0 640.4,516.0 642.6,522.0 644.8,527.9 647.0,533.8 649.2,539.7 651.4,545.4 653.7,551.2 655.9,556.9 658.1,562.5 660.3,568.1 662.5,573.6 664.7,579.1 666.9,584.6 669.2,590.0 671.4,595.3 673.6,600.6 675.8,605.9 678.0,611.1 680.2,616.3 682.4,621.4 684.7,626.5 686.9,631.6 689.1,636.6 691.3,641.5 693.5,646.5 695.7,651.4 697.9,656.2 700.2,661.0 702.4,665.8 704.6,670.5 706.8,675.2 709.0,679.8 711.2,684.5 713.4,689.0 715.7,693.6 717.9,698.1 720.1,702.6 722.3,707.0 724.5,711.4 726.7,715.8 728.9,720.1 731.2,724.4 733.4,728.7 735.6,732.9 737.8,737.1 740.0,741.3 742.2,745.4 744.4,749.5 746.7,753.6 748.9,757.6 751.1,761.7 753.3,765.6 755.5,769.6 757.7,773.5 759.9,777.4 762.2,781.3 764.4,785.1 766.6,788.9 768.8,792.7 771.0,796.5 773.2,800.2 775.4,803.9 777.7,807.6 779.9,811.2 782.1,814.9 784.3,818.4 786.5,822.0 788.7,825.6 790.9,829.1 793.2,832.6 795.4,836.1 797.6,839.5 799.8,842.9 802.0,846.3 804.2,849.7 806.4,853.1 808.7,856.4 810.9,859.7 813.1,863.0 815.3,866.2 817.5,869.5 819.7,872.7 821.9,875.9 824.2,879.1 826.4,882.2 828.6,885.4 830.8,888.5 833.0,891.6 835.2,894.6 837.5,897.7 839.7,900.7 841.9,903.7 844.1,906.7 846.3,909.7 848.5,912.7 850.7,915.6 853.0,918.5 855.2,921.4 857.4,924.3 859.6,927.2 861.8,930.0 864.0,932.9 866.2,935.7 868.5,938.5 870.7,941.3 872.9,944.0 875.1,946.8 877.3,949.5 879.5,952.2 881.7,954.9 884.0,957.6 886.2,960.2 888.4,962.9 890.6,965.5 892.8,968.1 895.0,970.7 897.2,973.3 899.5,975.9 901.7,978.4 903.9,981.0 906.1,983.5 908.3,986.0 910.5,988.5 912.7,991.0 915.0,993.5 917.2,995.9 919.4,998.4 921.6,1000.8 923.8,1003.2 926.0,1005.6 928.2,1008.0 930.5,1010.4 932.7,1012.7 934.9,1015.1 937.1,1017.4 939.3,1019.7 941.5,1022.0 943.7,1024.3 946.0,1026.6 948.2,1028.9 950.4,1031.2 952.6,1033.4 954.8,1035.6 957.0,1037.9 959.2,1040.1 961.5,1042.3 963.7,1044.5 965.9,1046.7 968.1,1048.8 970.3,1051.0 972.5,1053.1 974.7,1055.3 977.0,1057.4 979.2,1059.5 981.4,1061.6 983.6,1063.7 985.8,1065.8 988.0,1067.9 990.2,1069.9 992.5,1072.0 994.7,1074.0 996.9,1076.1 999.1,1078.1 1001.3,1080.1 1003.5,1082.1 1005.7,1084.1 1008.0,1086.1 1010.2,1088.1 1012.4,1090.0 1014.6,1092.0 1016.8,1093.9 1019.0,1095.9 1021.2,1097.8 1023.5,1099.7 1025.7,1101.6 1027.9,1103.5 1030.1,1105.4 1032.3,1107.3 1034.5,1109.2 1036.7,1111.1 1039.0,1112.9 1041.2,1114.8 1043.4,1116.6 1045.6,1118.4 1047.8,1120.3 1050.0,1122.1 1052.2,1123.9 1054.5,1125.7 1056.7,1127.5 1058.9,1129.2 1061.1,1131.0 1063.3,1132.8 1065.5,1134.5 1067.7,1136.2 1070.0,1138.0 1072.2,1139.7 1074.4,1141.4 1076.6,1143.1 1078.8,1144.8 1081.0,1146.5 1083.2,1148.1 1085.5,1149.8 1087.7,1151.4 1089.9,1153.1 1092.1,1154.7 1094.3,1156.3 1096.5,1157.9 1098.7,1159.5 1101.0,1161.1 1103.2,1162.7 1105.4,1164.2 1107.6,1165.8 1109.8,1167.3 1112.0,1168.9 1114.2,1170.4 1116.5,1171.9 1118.7,1173.4 1120.9,1174.9 1123.1,1176.4 1125.3,1177.8 1127.5,1179.3 1129.7,1180.7 1132.0,1182.2 1134.2,1183.6 1136.4,1185.0 1138.6,1186.4 1140.8,1187.8 1143.0,1189.2 1145.2,1190.6 1147.5,1192.0 1149.7,1193.3 1151.9,1194.7 1154.1,1196.0 1156.3,1197.3 1158.5,1198.6 1160.7,1199.9 1163.0,1201.2 1165.2,1202.5 1167.4,1203.8 1169.6,1205.0 1171.8,1206.3 1174.0,1207.5 1176.2,1208.7 1178.5,1209.9 1180.7,1211.2 1182.9,1212.3 1185.1,1213.5 1187.3,1214.7 1189.5,1215.9 1191.7,1217.0 1194.0,1218.2 1196.2,1219.3 1198.4,1220.5 1200.6,1221.6 1202.8,1222.7 1205.0,1223.8 1207.2,1224.9 1209.5,1226.0 1211.7,1227.1 1213.9,1228.2 1216.1,1229.2 1218.3,1230.3 1220.5,1231.4 1222.7,1232.4 1225.0,1233.4 1227.2,1234.5 1229.4,1235.5 1231.6,1236.5 1233.8,1237.5 1236.0,1238.5 1238.2,1239.5 1240.5,1240.5 1242.7,1241.5 1244.9,1242.5 1247.1,1243.5 1249.3,1244.4 1251.5,1245.4 1253.7,1246.3 1256.0,1247.3 1258.2,1248.2 1260.4,1249.2 1262.6,1250.1 1264.8,1251.0 1267.0,1252.0 1269.3,1252.9 1271.5,1253.8 1273.7,1254.7 1275.9,1255.6 1278.1,1256.5 1280.3,1257.4 1282.5,1258.3 1284.8,1259.2 1287.0,1260.1 1289.2,1260.9 1291.4,1261.8 1293.6,1262.7 1295.8,1263.5 1298.0,1264.4 1300.3,1265.2 1302.5,1266.1 1304.7,1266.9 1306.9,1267.8 1309.1,1268.6 1311.3,1269.5 1313.5,1270.3 1315.8,1271.1 1318.0,1272.0 1320.2,1272.8 1322.4,1273.6 1324.6,1274.4 1326.8,1275.2 1329.0,1276.0 1331.3,1276.9 1333.5,1277.7 1335.7,1278.5 1337.9,1279.3 1340.1,1280.1 1342.3,1280.9 1344.5,1281.7 1346.8,1282.4 1349.0,1283.2 1351.2,1284.0 1353.4,1284.8 1355.6,1285.6 1357.8,1286.4 1360.0,1287.1 1362.3,1287.9 1364.5,1288.7 1366.7,1289.5 1368.9,1290.2 1371.1,1291.0 1373.3,1291.8 1375.5,1292.5 1377.8,1293.3 1380.0,1294.1 1382.2,1294.8 1384.4,1295.6 1386.6,1296.3 1388.8,1297.1 1391.0,1297.8 1393.3,1298.6 1395.5,1299.3 1397.7,1300.1 1399.9,1300.8 1402.1,1301.6 1404.3,1302.3 1406.5,1303.1 1408.8,1303.8 1411.0,1304.6 1413.2,1305.3 1415.4,1306.0 1417.6,1306.8 1419.8,1307.5 1422.0,1308.2 1424.3,1308.9 1426.5,1309.7 1428.7,1310.4 1430.9,1311.1 1433.1,1311.8 1435.3,1312.6 1437.5,1313.3 1439.8,1314.0 1442.0,1314.7 1444.2,1315.4 1446.4,1316.1 1448.6,1316.8 1450.8,1317.5 1453.0,1318.2 1455.3,1318.9 1457.5,1319.6 1459.7,1320.3 1461.9,1321.0 1464.1,1321.7 1466.3,1322.4 1468.5,1323.1 1470.8,1323.7 1473.0,1324.4 1475.2,1325.1 1477.4,1325.8 1479.6,1326.5 1481.8,1327.1 1484.0,1327.8 1486.3,1328.5 1488.5,1329.1 1490.7,1329.8 1492.9,1330.5 1495.1,1331.1 1497.3,1331.8 1499.5,1332.4 1501.8,1333.1 1504.0,1333.7 1506.2,1334.4 1508.4,1335.0 1510.6,1335.7 1512.8,1336.3 1515.0,1336.9 1517.3,1337.6 1519.5,1338.2 1521.7,1338.8 1523.9,1339.4 1526.1,1340.1 1528.3,1340.7 1530.5,1341.3 1532.8,1341.9 1535.0,1342.5 1537.2,1343.2 1539.4,1343.8 1541.6,1344.4 1543.8,1345.0 1546.0,1345.6 1548.3,1346.2 1550.5,1346.8 1552.7,1347.4 1554.9,1347.9 1557.1,1348.5 1559.3,1349.1 1561.5,1349.7 1563.8,1350.3 1566.0,1350.9 1568.2,1351.4 1570.4,1352.0 1572.6,1352.6 1574.8,1353.1 1577.0,1353.7 1579.3,1354.3 1581.5,1354.8 1583.7,1355.4 1585.9,1355.9 1588.1,1356.5 1590.3,1357.0 1592.5,1357.6 1594.8,1358.1 1597.0,1358.7 1599.2,1359.2 1601.4,1359.8 1603.6,1360.3 1605.8,1360.8 1608.0,1361.3 1610.3,1361.9 1612.5,1362.4 1614.7,1362.9 1616.9,1363.4 1619.1,1363.9 1621.3,1364.5 1623.5,1365.0 1625.8,1365.5 1628.0,1366.0 1630.2,1366.5 1632.4,1367.0 1634.6,1367.5 1636.8,1368.0 1639.0,1368.4 1641.3,1368.9 1643.5,1369.4 1645.7,1369.9 1647.9,1370.4 1650.1,1370.9 1652.3,1371.3 1654.5,1371.8 1656.8,1372.3 1659.0,1372.7 1661.2,1373.2 1663.4,1373.7 1665.6,1374.1 1667.8,1374.6 1670.0,1375.0 1672.3,1375.5 1674.5,1375.9 1676.7,1376.4 1678.9,1376.8 1681.1,1377.2 1683.3,1377.7 1685.5,1378.1 1687.8,1378.5 1690.0,1379.0 1692.2,1379.4 1694.4,1379.8 1696.6,1380.2 1698.8,1380.6 1701.1,1381.1 1703.3,1381.5 1705.5,1381.9 1707.7,1382.3 1709.9,1382.7 1712.1,1383.1 1714.3,1383.5 1716.6,1383.9 1718.8,1384.3 1721.0,1384.7 1723.2,1385.0 1725.4,1385.4 1727.6,1385.8 1729.8,1386.2 1732.1,1386.6 1734.3,1386.9 1736.5,1387.3 1738.7,1387.7 1740.9,1388.0 1743.1,1388.4 1745.3,1388.8 1747.6,1389.1 1749.8,1389.5 1752.0,1389.8 1754.2,1390.2 1756.4,1390.5 1758.6,1390.9 1760.8,1391.2 1763.1,1391.6 1765.3,1391.9 1767.5,1392.3 1769.7,1392.6 1771.9,1392.9 1774.1,1393.3 1776.3,1393.6 1778.6,1394.0 1780.8,1394.3 1783.0,1394.6 1785.2,1395.0 1787.4,1395.3 1789.6,1395.6 1791.8,1396.0 1794.1,1396.3 1796.3,1396.6 1798.5,1397.0 1800.7,1397.3 1802.9,1397.6 1805.1,1398.0 1807.3,1398.3 1809.6,1398.6 1811.8,1399.0 1814.0,1399.3 1816.2,1399.6 1818.4,1400.0 1820.6,1400.3 1822.8,1400.6 1825.1,1400.9 1827.3,1401.3 1829.5,1401.6 1831.7,1401.9 1833.9,1402.3 1836.1,1402.6 1838.3,1402.9 1840.6,1403.3 1842.8,1403.6 1845.0,1404.0 1847.2,1404.3 1849.4,1404.6 1851.6,1405.0 1853.8,1405.3 1856.1,1405.7 1858.3,1406.0 1860.5,1406.3 1862.7,1406.7 1864.9,1407.0 1867.1,1407.4 1869.3,1407.7 1871.6,1408.1 1873.8,1408.4 1876.0,1408.8 1878.2,1409.1 1880.4,1409.5 1882.6,1409.8 1884.8,1410.2 1887.1,1410.5 1889.3,1410.9 1891.5,1411.2 1893.7,1411.6 1895.9,1411.9 1898.1,1412.2 1900.3,1412.6 1902.6,1412.9 1904.8,1413.3 1907.0,1413.6 1909.2,1413.9 1911.4,1414.3 1913.6,1414.6 1915.8,1414.9 1918.1,1415.2 1920.3,1415.6 1922.5,1415.9 1924.7,1416.2 1926.9,1416.5 1929.1,1416.8 1931.3,1417.1 1933.6,1417.5 1935.8,1417.8 1938.0,1418.1 1940.2,1418.4 1942.4,1418.7 1944.6,1419.0 1946.8,1419.3 1949.1,1419.6 1951.3,1419.8 1953.5,1420.1 1955.7,1420.4 1957.9,1420.7 1960.1,1421.0 1962.3,1421.3 1964.6,1421.6 1966.8,1421.8 1969.0,1422.1 1971.2,1422.4 1973.4,1422.7 1975.6,1422.9 1977.8,1423.2 1980.1,1423.5 1982.3,1423.7 1984.5,1424.0 1986.7,1424.3 1988.9,1424.5 1991.1,1424.8 1993.3,1425.0 1995.6,1425.3 1997.8,1425.5 2000.0,1425.8 2002.2,1426.0 2004.4,1426.3 2006.6,1426.5 2008.8,1426.8 2011.1,1427.0 2013.3,1427.3 2015.5,1427.5 2017.7,1427.7 2019.9,1428.0 2022.1,1428.2 2024.3,1428.5 2026.6,1428.7 2028.8,1428.9 2031.0,1429.2 2033.2,1429.4 2035.4,1429.6 2037.6,1429.8 2039.8,1430.1 2042.1,1430.3 2044.3,1430.5 2046.5,1430.7 2048.7,1431.0 2050.9,1431.2 2053.1,1431.4 2055.3,1431.6 2057.6,1431.8 2059.8,1432.1 2062.0,1432.3 2064.2,1432.5 2066.4,1432.7 2068.6,1432.9 2070.8,1433.1 2073.1,1433.3 2075.3,1433.5 2077.5,1433.7 2079.7,1433.9 2081.9,1434.2 2084.1,1434.4 2086.3,1434.6 2088.6,1434.8 2090.8,1435.0 2093.0,1435.2 2095.2,1435.4 2097.4,1435.6 2099.6,1435.8 2101.8,1436.0 2104.1,1436.2 2106.3,1436.4 2108.5,1436.5 2110.7,1436.7 2112.9,1436.9 2115.1,1437.1 2117.3,1437.3 2119.6,1437.5 2121.8,1437.7 2124.0,1437.9 2126.2,1438.1 2128.4,1438.3 2130.6,1438.5 2132.9,1438.6 2135.1,1438.8 2137.3,1439.0 2139.5,1439.2 2141.7,1439.4 2143.9,1439.6 2146.1,1439.8 2148.4,1439.9 2150.6,1440.1 2152.8,1440.3 2155.0,1440.5 2157.2,1440.7 2159.4,1440.8 2161.6,1441.0 2163.9,1441.2 2166.1,1441.4 2168.3,1441.6 2170.5,1441.7 2172.7,1441.9 2174.9,1442.1 2177.1,1442.3 2179.4,1442.4 2181.6,1442.6 2183.8,1442.8 2186.0,1443.0 2188.2,1443.1 2190.4,1443.3 2192.6,1443.5 2194.9,1443.7 2197.1,1443.8 2199.3,1444.0 2201.5,1444.2 2203.7,1444.3 2205.9,1444.5 2208.1,1444.7 2210.4,1444.9 2212.6,1445.0 2214.8,1445.2 2217.0,1445.4 2219.2,1445.5 2221.4,1445.7 2223.6,1445.9 2225.9,1446.1 2228.1,1446.2 2230.3,1446.4 2232.5,1446.6 2234.7,1446.7 2236.9,1446.9 2239.1,1447.1 2241.4,1447.2 2243.6,1447.4 2245.8,1447.6 2248.0,1447.7 2250.2,1447.9 2252.4,1448.1 2254.6,1448.2 2256.9,1448.4 2259.1,1448.6 2261.3,1448.8 2263.5,1448.9 2265.7,1449.1 2267.9,1449.3 2270.1,1449.4 2272.4,1449.6 2274.6,1449.8 2276.8,1449.9 2279.0,1450.1 2281.2,1450.3 2283.4,1450.4 2285.6,1450.6 2287.9,1450.8 2290.1,1450.9 2292.3,1451.1 2294.5,1451.3 2296.7,1451.4 2298.9,1451.6 2301.1,1451.8 2303.4,1451.9 2305.6,1452.1 2307.8,1452.3 2310.0,1452.5 2312.2,1452.6 2314.4,1452.8 2316.6,1453.0 2318.9,1453.1 2321.1,1453.3 2323.3,1453.5 2325.5,1453.6 2327.7,1453.8 2329.9,1454.0 2332.1,1454.2 2334.4,1454.3 2336.6,1454.5 2338.8,1454.7 2341.0,1454.8" fill="none" stroke="#0e2f4c" stroke-width="4.5" stroke-dasharray="21 23.5"/>
</g>
<rect x="1152" y="1182" width="725" height="253" fill="none" stroke="#111" stroke-width="3.5"/>
<polygon points="1167.5,1220.5 1197.5,1203.0 1197.5,1238.0" fill="none" stroke="#ff6347" stroke-width="2.6" stroke-linejoin="miter"/>
<polygon points="1295.2,1281.4 1325.2,1263.9 1325.2,1298.9" fill="none" stroke="#ff6347" stroke-width="2.6" stroke-linejoin="miter"/>
<polygon points="1423.4,1331.5 1453.4,1314.0 1453.4,1349.0" fill="none" stroke="#ff6347" stroke-width="2.6" stroke-linejoin="miter"/>
<polygon points="1593.4,1372.0 1623.4,1354.5 1623.4,1389.5" fill="none" stroke="#ff6347" stroke-width="2.6" stroke-linejoin="miter"/>
<polygon points="1764.4,1403.1 1794.4,1385.6 1794.4,1420.6" fill="none" stroke="#ff6347" stroke-width="2.6" stroke-linejoin="miter"/>
<polygon points="1211.0,1220.0 1243.0,1201.5 1243.0,1238.5" fill="#ff6347"/>
<polygon points="1338.3,1281.0 1370.3,1262.5 1370.3,1299.5" fill="#ff6347"/>
<polygon points="1465.8,1331.5 1497.8,1313.0 1497.8,1350.0" fill="#ff6347"/>
<polygon points="1636.7,1371.1 1668.7,1352.6 1668.7,1389.6" fill="#ff6347"/>
<polygon points="1806.8,1404.9 1838.8,1386.4 1838.8,1423.4" fill="#ff6347"/>
<rect x="1026.3" y="624.0" width="1263.8" height="398.79999999999995" fill="#fff"/>
<g clip-path="url(#clipI)">
<g transform="translate(-1080.62,-1547.31) scale(1.80987)">
<polygon points="209.5,56.0 211.6,56.0 213.8,56.1 215.9,56.3 218.0,56.5 220.2,56.7 222.3,57.1 224.4,57.4 226.6,57.8 228.7,58.3 230.8,58.8 232.9,59.4 235.1,60.0 237.2,60.6 239.3,61.3 241.5,62.0 243.6,62.8 245.7,63.6 247.9,64.4 250.0,65.3 252.1,66.2 254.3,67.1 256.4,68.1 258.5,69.1 260.7,70.1 262.8,71.1 264.9,72.2 267.1,73.3 269.2,74.4 271.3,75.6 273.4,76.8 275.6,78.0 277.7,79.2 279.8,80.4 282.0,81.7 284.1,83.0 286.2,84.3 288.4,85.6 290.5,86.9 292.6,88.3 294.8,89.7 296.9,91.0 299.0,92.4 301.2,93.9 303.3,95.3 305.4,96.7 307.5,98.2 309.7,99.6 311.8,101.1 313.9,102.6 316.1,104.1 318.2,105.6 320.3,107.1 322.5,108.6 324.6,110.1 326.7,111.7 328.9,113.2 331.0,114.8 333.1,116.3 335.3,117.9 337.4,119.5 339.5,121.1 341.7,122.6 343.8,124.2 345.9,125.8 348.0,127.4 350.2,129.0 352.3,130.6 354.4,132.2 356.6,133.8 358.7,135.4 360.8,137.1 363.0,138.7 365.1,140.3 367.2,141.9 369.4,143.5 371.5,145.2 373.6,146.8 375.8,148.4 377.9,150.0 380.0,151.7 382.2,153.3 384.3,154.9 386.4,156.5 388.5,158.2 390.7,159.8 392.8,161.4 394.9,163.0 397.1,164.7 399.2,166.3 401.3,167.9 403.5,169.5 405.6,171.2 407.7,172.8 409.9,174.4 412.0,176.0 414.1,177.6 416.3,179.2 418.4,180.8 420.5,182.4 422.6,184.0 424.8,185.6 426.9,187.2 429.0,188.8 431.2,190.4 433.3,192.0 435.4,193.6 437.6,195.1 439.7,196.7 441.8,198.3 444.0,199.9 446.1,201.4 448.2,203.0 450.4,204.5 452.5,206.1 454.6,207.7 456.8,209.2 458.9,210.7 461.0,212.3 463.1,213.8 465.3,215.3 467.4,216.9 469.5,218.4 471.7,219.9 473.8,221.4 475.9,222.9 478.1,224.4 480.2,225.9 482.3,227.4 484.5,228.9 486.6,230.4 488.7,231.9 490.9,233.4 493.0,234.8 495.1,236.3 497.3,237.8 499.4,239.2 501.5,240.7 503.6,242.1 505.8,243.6 507.9,245.0 510.0,246.4 512.2,247.9 514.3,249.3 516.4,250.7 518.6,252.1 520.7,253.5 522.8,254.9 525.0,256.3 527.1,257.7 529.2,259.1 531.4,260.5 533.5,261.9 535.6,263.3 537.8,264.6 539.9,266.0 542.0,267.4 544.1,268.7 546.3,270.1 548.4,271.4 550.5,272.8 552.7,274.1 554.8,275.4 556.9,276.7 559.1,278.1 561.2,279.4 563.3,280.7 565.5,282.0 567.6,283.3 569.7,284.6 571.9,285.9 574.0,287.2 576.1,288.4 578.2,289.7 580.4,291.0 582.5,292.2 584.6,293.5 586.8,294.7 588.9,296.0 591.0,297.2 593.2,298.5 595.3,299.7 597.4,300.9 599.6,302.2 601.7,303.4 603.8,304.6 606.0,305.8 608.1,307.0 610.2,308.2 612.4,309.4 614.5,310.6 616.6,311.8 618.7,313.0 620.9,314.1 623.0,315.3 625.1,316.5 627.3,317.6 629.4,318.8 631.5,319.9 633.7,321.1 635.8,322.2 637.9,323.4 640.1,324.5 642.2,325.6 644.3,326.7 646.5,327.9 648.6,329.0 650.7,330.1 652.9,331.2 655.0,332.3 657.1,333.4 659.2,334.5 661.4,335.5 663.5,336.6 665.6,337.7 667.8,338.8 669.9,339.8 672.0,340.9 674.2,342.0 676.3,343.0 678.4,344.1 680.6,345.1 682.7,346.1 684.8,347.2 687.0,348.2 689.1,349.2 691.2,350.3 693.4,351.3 695.5,352.3 697.6,353.3 699.7,354.3 701.9,355.3 704.0,356.3 706.1,357.3 708.3,358.3 710.4,359.3 712.5,360.3 714.7,361.2 716.8,362.2 718.9,363.2 721.1,364.1 723.2,365.1 725.3,366.0 727.5,367.0 729.6,367.9 731.7,368.9 733.8,369.8 736.0,370.8 738.1,371.7 740.2,372.6 742.4,373.5 744.5,374.5 746.6,375.4 748.8,376.3 750.9,377.2 753.0,378.1 755.2,379.0 757.3,379.9 759.4,380.8 761.6,381.7 763.7,382.6 765.8,383.4 768.0,384.3 770.1,385.2 772.2,386.1 774.3,386.9 776.5,387.8 778.6,388.6 780.7,389.5 782.9,390.3 785.0,391.2 787.1,392.0 789.3,392.9 791.4,393.7 793.5,394.6 795.7,395.4 797.8,396.2 799.9,397.0 802.1,397.8 804.2,398.7 806.3,399.5 808.5,400.3 810.6,401.1 812.7,401.9 814.8,402.7 817.0,403.5 819.1,404.3 821.2,405.1 823.4,405.8 825.5,406.6 827.6,407.4 829.8,408.2 831.9,409.0 834.0,409.7 836.2,410.5 838.3,411.3 840.4,412.0 842.6,412.8 844.7,413.5 846.8,414.3 849.0,415.0 851.1,415.8 853.2,416.5 855.3,417.2 857.5,418.0 859.6,418.7 861.7,419.4 863.9,420.2 866.0,420.9 868.1,421.6 870.3,422.3 872.4,423.0 874.5,423.7 876.7,424.4 878.8,425.1 880.9,425.8 883.1,426.5 885.2,427.2 887.3,427.9 889.4,428.6 891.6,429.3 893.7,430.0 895.8,430.7 898.0,431.3 900.1,432.0 902.2,432.7 904.4,433.4 906.5,434.0 908.6,434.7 910.8,435.4 912.9,436.0 915.0,436.7 917.2,437.3 919.3,438.0 921.4,438.6 923.6,439.3 925.7,439.9 927.8,440.5 929.9,441.2 932.1,441.8 934.2,442.4 936.3,443.1 938.5,443.7 940.6,444.3 942.7,445.0 944.9,445.6 947.0,446.2 949.1,446.8 951.3,447.4 953.4,448.0 955.5,448.6 957.7,449.2 959.8,449.8 961.9,450.4 964.1,451.0 966.2,451.6 968.3,452.2 970.4,452.8 972.6,453.4 974.7,454.0 976.8,454.6 979.0,455.1 981.1,455.7 983.2,456.3 985.4,456.9 987.5,457.4 989.6,458.0 991.8,458.6 993.9,459.1 996.0,459.7 998.2,460.3 1000.3,460.8 1002.4,461.4 1004.5,461.9 1006.7,462.5 1008.8,463.0 1010.9,463.6 1013.1,464.1 1015.2,464.7 1017.3,465.2 1019.5,465.7 1021.6,466.3 1023.7,466.8 1025.9,467.3 1028.0,467.9 1030.1,468.4 1032.3,468.9 1034.4,469.4 1036.5,470.0 1038.7,470.5 1040.8,471.0 1042.9,471.5 1045.0,472.0 1047.2,472.5 1049.3,473.0 1051.4,473.5 1053.6,474.0 1055.7,474.6 1057.8,475.1 1060.0,475.5 1062.1,476.0 1064.2,476.5 1066.4,477.0 1068.5,477.5 1070.6,478.0 1072.8,478.5 1074.9,479.0 1077.0,479.5 1079.2,480.0 1081.3,480.4 1083.4,480.9 1085.5,481.4 1087.7,481.9 1089.8,482.3 1091.9,482.8 1094.1,483.3 1096.2,483.7 1098.3,484.2 1100.5,484.7 1102.6,485.1 1104.7,485.6 1106.9,486.0 1109.0,486.5 1111.1,487.0 1113.3,487.4 1115.4,487.9 1117.5,488.3 1119.7,488.8 1121.8,489.2 1123.9,489.6 1126.0,490.1 1128.2,490.5 1130.3,491.0 1132.4,491.4 1134.6,491.8 1136.7,492.3 1138.8,492.7 1141.0,493.1 1143.1,493.6 1145.2,494.0 1147.4,494.4 1149.5,494.8 1151.6,495.3 1153.8,495.7 1155.9,496.1 1158.0,496.5 1160.1,496.9 1162.3,497.4 1164.4,497.8 1166.5,498.2 1168.7,498.6 1170.8,499.0 1172.9,499.4 1175.1,499.8 1177.2,500.2 1179.3,500.6 1181.5,501.0 1183.6,501.4 1185.7,501.8 1187.9,502.2 1190.0,502.6 1192.1,503.0 1194.3,503.4 1196.4,503.8 1198.5,504.2 1200.6,504.6 1202.8,505.0 1204.9,505.3 1207.0,505.7 1209.2,506.1 1211.3,506.5 1213.4,506.9 1215.6,507.2 1217.7,507.6 1219.8,508.0 1222.0,508.4 1224.1,508.7 1226.2,509.1 1228.4,509.5 1230.5,509.9 1232.6,510.2 1234.8,510.6 1236.9,511.0 1239.0,511.3 1241.1,511.7 1243.3,512.0 1245.4,512.4 1247.5,512.8 1249.7,513.1 1251.8,513.5 1253.9,513.8 1256.1,514.2 1258.2,514.5 1260.3,514.9 1262.5,515.2 1264.6,515.6 1266.7,515.9 1268.9,516.3 1271.0,516.6 1273.1,517.0 1275.2,517.3 1277.4,517.6 1279.5,518.0 1281.6,518.3 1283.8,518.7 1285.9,519.0 1288.0,519.3 1290.2,519.7 1292.3,520.0 1294.4,520.3 1296.6,520.7 1298.7,521.0 1300.8,521.3 1303.0,521.6 1305.1,522.0 1307.2,522.3 1309.4,522.6 1311.5,522.9 1313.6,523.3 1315.7,523.6 1317.9,523.9 1320.0,524.2 1322.1,524.5 1324.3,524.8 1326.4,525.2 1328.5,525.5 1330.7,525.8 1332.8,526.1 1334.9,526.4 1337.1,526.7 1339.2,527.0 1341.3,527.3 1343.5,527.6 1345.6,527.9 1347.7,528.2 1349.9,528.5 1352.0,528.8 1354.1,529.1 1356.2,529.4 1358.4,529.7 1360.5,530.0 1362.6,530.3 1364.8,530.6 1366.9,530.9 1369.0,531.2 1371.2,531.5 1373.3,531.8 1375.4,532.1 1377.6,532.4 1379.7,532.7 1381.8,532.9 1384.0,533.2 1386.1,533.5 1388.2,533.8 1390.4,534.1 1392.5,534.4 1394.6,534.7 1396.7,534.9 1398.9,535.2 1401.0,535.5 1403.1,535.8 1405.3,536.0 1407.4,536.3 1409.5,536.6 1411.7,536.9 1413.8,537.1 1415.9,537.4 1418.1,537.7 1420.2,538.0 1422.3,538.2 1424.5,538.5 1426.6,538.8 1428.7,539.0 1430.8,539.3 1433.0,539.6 1435.1,539.8 1437.2,540.1 1439.4,540.3 1441.5,540.6 1443.6,540.9 1445.8,541.1 1447.9,541.4 1450.0,541.6 1452.2,541.9 1454.3,542.2 1456.4,542.4 1458.6,542.7 1460.7,542.9 1462.8,543.2 1465.0,543.4 1467.1,543.7 1469.2,543.9 1471.3,544.2 1473.5,544.4 1475.6,544.7 1477.7,544.9 1479.9,545.2 1482.0,545.4 1484.1,545.7 1486.3,545.9 1488.4,546.1 1490.5,546.4 1492.7,546.6 1494.8,546.9 1496.9,547.1 1499.1,547.3 1501.2,547.6 1503.3,547.8 1505.5,548.1 1507.6,548.3 1509.7,548.5 1511.8,548.8 1514.0,549.0 1516.1,549.2 1518.2,549.5 1520.4,549.7 1522.5,549.9 1524.6,550.2 1526.8,550.4 1528.9,550.6 1531.0,550.8 1533.2,551.1 1535.3,551.3 1537.4,551.5 1539.6,551.8 1541.7,552.0 1543.8,552.2 1546.0,552.4 1548.1,552.6 1550.2,552.9 1552.3,553.1 1554.5,553.3 1556.6,553.5 1558.7,553.7 1560.9,554.0 1563.0,554.2 1565.1,554.4 1567.3,554.6 1569.4,554.8 1571.5,555.0 1573.7,555.3 1575.8,555.5 1577.9,555.7 1580.1,555.9 1582.2,556.1 1584.3,556.3 1586.4,556.5 1588.6,556.7 1590.7,556.9 1592.8,557.2 1595.0,557.4 1597.1,557.6 1599.2,557.8 1601.4,558.0 1603.5,558.2 1605.6,558.4 1607.8,558.6 1609.9,558.8 1612.0,559.0 1614.2,559.2 1616.3,559.4 1618.4,559.6 1620.6,559.8 1622.7,560.0 1624.8,560.2 1626.9,560.4 1629.1,560.6 1631.2,560.8 1633.3,561.0 1635.5,561.2 1637.6,561.4 1639.7,561.6 1641.9,561.8 1644.0,562.0 1646.1,562.1 1648.3,562.3 1650.4,562.5 1652.5,562.7 1654.7,562.9 1656.8,563.1 1658.9,563.3 1661.1,563.5 1663.2,563.7 1665.3,563.9 1667.4,564.0 1669.6,564.2 1671.7,564.4 1673.8,564.6 1676.0,564.8 1678.1,565.0 1680.2,565.2 1682.4,565.3 1684.5,565.5 1686.6,565.7 1688.8,565.9 1690.9,566.1 1693.0,566.2 1695.2,566.4 1697.3,566.6 1699.4,566.8 1701.5,567.0 1703.7,567.1 1705.8,567.3 1707.9,567.5 1710.1,567.7 1712.2,567.8 1714.3,568.0 1716.5,568.2 1718.6,568.4 1720.7,568.5 1722.9,568.7 1725.0,568.9 1727.1,569.1 1729.3,569.2 1731.4,569.4 1733.5,569.6 1735.7,569.7 1737.8,569.9 1739.9,570.1 1742.0,570.2 1744.2,570.4 1746.3,570.6 1748.4,570.7 1750.6,570.9 1752.7,571.1 1754.8,571.2 1757.0,571.4 1759.1,571.6 1761.2,571.7 1763.4,571.9 1765.5,572.1 1767.6,572.2 1769.8,572.4 1771.9,572.6 1774.0,572.7 1776.2,572.9 1778.3,573.0 1780.4,573.2 1782.5,573.4 1784.7,573.5 1786.8,573.7 1788.9,573.8 1791.1,574.0 1793.2,574.1 1795.3,574.3 1797.5,574.5 1799.6,574.6 1801.7,574.8 1803.9,574.9 1806.0,575.1 1808.1,575.2 1810.3,575.4 1812.4,575.5 1814.5,575.7 1816.7,575.8 1818.8,576.0 1820.9,576.1 1823.0,576.3 1825.2,576.4 1827.3,576.6 1829.4,576.7 1831.6,576.9 1833.7,577.0 1835.8,577.2 1838.0,577.3 1840.1,577.5 1842.2,577.6 1844.4,577.8 1846.5,577.9 1848.6,578.1 1850.8,578.2 1852.9,578.4 1855.0,578.5 1857.1,578.7 1859.3,578.8 1861.4,578.9 1863.5,579.1 1865.7,579.2 1867.8,579.4 1869.9,579.5 1872.1,579.7 1874.2,579.8 1876.3,579.9 1878.5,580.1 1880.6,580.2 1882.7,580.4 1884.9,580.5 1887.0,580.6 1889.1,580.8 1891.3,580.9 1893.4,581.0 1895.5,581.2 1897.6,581.3 1899.8,581.5 1901.9,581.6 1904.0,581.7 1906.2,581.9 1908.3,582.0 1910.4,582.1 1912.6,582.3 1914.7,582.4 1916.8,582.5 1919.0,582.7 1921.1,582.8 1923.2,582.9 1925.4,583.1 1927.5,583.2 1929.6,583.3 1931.8,583.5 1933.9,583.6 1936.0,583.7 1938.1,583.9 1940.3,584.0 1942.4,584.1 1944.5,584.2 1946.7,584.4 1948.8,584.5 1950.9,584.6 1953.1,584.8 1955.2,584.9 1957.3,585.0 1959.5,585.1 1961.6,585.3 1963.7,585.4 1965.9,585.5 1968.0,585.6 1970.1,585.8 1972.3,585.9 1974.4,586.0 1976.5,586.1 1978.6,586.3 1980.8,586.4 1982.9,586.5 1985.0,586.6 1987.2,586.7 1989.3,586.9 1991.4,587.0 1993.6,587.1 1995.7,587.2 1997.8,587.4 2000.0,587.5 2002.1,587.6 2004.2,587.7 2006.4,587.8 2008.5,588.0 2010.6,588.1 2012.7,588.2 2014.9,588.3 2017.0,588.4 2019.1,588.5 2021.3,588.7 2023.4,588.8 2025.5,588.9 2027.7,589.0 2029.8,589.1 2031.9,589.2 2034.1,589.4 2036.2,589.5 2038.3,589.6 2040.5,589.7 2042.6,589.8 2044.7,589.9 2046.9,590.0 2049.0,590.2 2051.1,590.3 2053.2,590.4 2055.4,590.5 2057.5,590.6 2059.6,590.7 2061.8,590.8 2063.9,590.9 2066.0,591.0 2068.2,591.2 2070.3,591.3 2072.4,591.4 2074.6,591.5 2076.7,591.6 2078.8,591.7 2081.0,591.8 2083.1,591.9 2085.2,592.0 2087.4,592.1 2089.5,592.2 2091.6,592.4 2093.7,592.5 2095.9,592.6 2098.0,592.7 2100.1,592.8 2102.3,592.9 2104.4,593.0 2106.5,593.1 2108.7,593.2 2110.8,593.3 2112.9,593.4 2115.1,593.5 2117.2,593.6 2119.3,593.7 2121.5,593.8 2123.6,593.9 2125.7,594.0 2127.9,594.1 2130.0,594.2 2132.1,594.3 2134.2,594.5 2136.4,594.6 2138.5,594.7 2140.6,594.8 2142.8,594.9 2144.9,595.0 2147.0,595.1 2149.2,595.2 2151.3,595.3 2153.4,595.4 2155.6,595.5 2157.7,595.6 2159.8,595.7 2162.0,595.8 2164.1,595.9 2166.2,596.0 2168.3,596.1 2170.5,596.2 2172.6,596.2 2174.7,596.3 2176.9,596.4 2179.0,596.5 2181.1,596.6 2183.3,596.7 2185.4,596.8 2187.5,596.9 2189.7,597.0 2191.8,597.1 2193.9,597.2 2196.1,597.3 2198.2,597.4 2200.3,597.5 2202.5,597.6 2204.6,597.7 2206.7,597.8 2208.8,597.9 2211.0,598.0 2213.1,598.1 2215.2,598.2 2217.4,598.2 2219.5,598.3 2221.6,598.4 2223.8,598.5 2225.9,598.6 2228.0,598.7 2230.2,598.8 2232.3,598.9 2234.4,599.0 2236.6,599.1 2238.7,599.2 2240.8,599.3 2243.0,599.3 2245.1,599.4 2247.2,599.5 2249.3,599.6 2251.5,599.7 2253.6,599.8 2255.7,599.9 2257.9,600.0 2260.0,600.1 2262.1,600.1 2264.3,600.2 2266.4,600.3 2268.5,600.4 2270.7,600.5 2272.8,600.6 2274.9,600.7 2277.1,600.8 2279.2,600.8 2281.3,600.9 2283.4,601.0 2285.6,601.1 2287.7,601.2 2289.8,601.3 2292.0,601.4 2294.1,601.4 2296.2,601.5 2298.4,601.6 2300.5,601.7 2302.6,601.8 2304.8,601.9 2306.9,601.9 2309.0,602.0 2311.2,602.1 2313.3,602.2 2315.4,602.3 2317.6,602.4 2319.7,602.4 2321.8,602.5 2323.9,602.6 2326.1,602.7 2328.2,602.8 2330.3,602.9 2332.5,602.9 2334.6,603.0 2336.7,603.1 2338.9,603.2 2341.0,603.3 2341.0,1523.9 2338.9,1523.8 2336.7,1523.7 2334.6,1523.6 2332.5,1523.5 2330.3,1523.4 2328.2,1523.3 2326.1,1523.2 2323.9,1523.1 2321.8,1523.0 2319.7,1522.8 2317.6,1522.7 2315.4,1522.6 2313.3,1522.5 2311.2,1522.4 2309.0,1522.3 2306.9,1522.2 2304.8,1522.1 2302.6,1522.0 2300.5,1521.9 2298.4,1521.8 2296.2,1521.7 2294.1,1521.6 2292.0,1521.5 2289.8,1521.3 2287.7,1521.2 2285.6,1521.1 2283.4,1521.0 2281.3,1520.9 2279.2,1520.8 2277.1,1520.7 2274.9,1520.6 2272.8,1520.4 2270.7,1520.3 2268.5,1520.2 2266.4,1520.1 2264.3,1520.0 2262.1,1519.9 2260.0,1519.7 2257.9,1519.6 2255.7,1519.5 2253.6,1519.4 2251.5,1519.3 2249.3,1519.2 2247.2,1519.0 2245.1,1518.9 2243.0,1518.8 2240.8,1518.7 2238.7,1518.6 2236.6,1518.4 2234.4,1518.3 2232.3,1518.2 2230.2,1518.1 2228.0,1517.9 2225.9,1517.8 2223.8,1517.7 2221.6,1517.6 2219.5,1517.4 2217.4,1517.3 2215.2,1517.2 2213.1,1517.0 2211.0,1516.9 2208.8,1516.8 2206.7,1516.7 2204.6,1516.5 2202.5,1516.4 2200.3,1516.3 2198.2,1516.1 2196.1,1516.0 2193.9,1515.9 2191.8,1515.7 2189.7,1515.6 2187.5,1515.5 2185.4,1515.3 2183.3,1515.2 2181.1,1515.0 2179.0,1514.9 2176.9,1514.8 2174.7,1514.6 2172.6,1514.5 2170.5,1514.4 2168.3,1514.2 2166.2,1514.1 2164.1,1513.9 2162.0,1513.8 2159.8,1513.6 2157.7,1513.5 2155.6,1513.4 2153.4,1513.2 2151.3,1513.1 2149.2,1512.9 2147.0,1512.8 2144.9,1512.6 2142.8,1512.5 2140.6,1512.3 2138.5,1512.2 2136.4,1512.0 2134.2,1511.9 2132.1,1511.7 2130.0,1511.6 2127.9,1511.4 2125.7,1511.3 2123.6,1511.1 2121.5,1511.0 2119.3,1510.8 2117.2,1510.7 2115.1,1510.5 2112.9,1510.3 2110.8,1510.2 2108.7,1510.0 2106.5,1509.9 2104.4,1509.7 2102.3,1509.5 2100.1,1509.4 2098.0,1509.2 2095.9,1509.1 2093.7,1508.9 2091.6,1508.7 2089.5,1508.6 2087.4,1508.4 2085.2,1508.2 2083.1,1508.1 2081.0,1507.9 2078.8,1507.7 2076.7,1507.6 2074.6,1507.4 2072.4,1507.2 2070.3,1507.0 2068.2,1506.9 2066.0,1506.7 2063.9,1506.5 2061.8,1506.3 2059.6,1506.2 2057.5,1506.0 2055.4,1505.8 2053.2,1505.6 2051.1,1505.5 2049.0,1505.3 2046.9,1505.1 2044.7,1504.9 2042.6,1504.7 2040.5,1504.5 2038.3,1504.4 2036.2,1504.2 2034.1,1504.0 2031.9,1503.8 2029.8,1503.6 2027.7,1503.4 2025.5,1503.2 2023.4,1503.1 2021.3,1502.9 2019.1,1502.7 2017.0,1502.5 2014.9,1502.3 2012.7,1502.1 2010.6,1501.9 2008.5,1501.7 2006.4,1501.5 2004.2,1501.3 2002.1,1501.1 2000.0,1500.9 1997.8,1500.7 1995.7,1500.5 1993.6,1500.3 1991.4,1500.1 1989.3,1499.9 1987.2,1499.7 1985.0,1499.5 1982.9,1499.3 1980.8,1499.1 1978.6,1498.9 1976.5,1498.7 1974.4,1498.5 1972.3,1498.2 1970.1,1498.0 1968.0,1497.8 1965.9,1497.6 1963.7,1497.4 1961.6,1497.2 1959.5,1497.0 1957.3,1496.7 1955.2,1496.5 1953.1,1496.3 1950.9,1496.1 1948.8,1495.9 1946.7,1495.6 1944.5,1495.4 1942.4,1495.2 1940.3,1495.0 1938.1,1494.7 1936.0,1494.5 1933.9,1494.3 1931.8,1494.0 1929.6,1493.8 1927.5,1493.6 1925.4,1493.3 1923.2,1493.1 1921.1,1492.9 1919.0,1492.6 1916.8,1492.4 1914.7,1492.2 1912.6,1491.9 1910.4,1491.7 1908.3,1491.4 1906.2,1491.2 1904.0,1490.9 1901.9,1490.7 1899.8,1490.5 1897.6,1490.2 1895.5,1490.0 1893.4,1489.7 1891.3,1489.5 1889.1,1489.2 1887.0,1489.0 1884.9,1488.7 1882.7,1488.4 1880.6,1488.2 1878.5,1487.9 1876.3,1487.7 1874.2,1487.4 1872.1,1487.1 1869.9,1486.9 1867.8,1486.6 1865.7,1486.4 1863.5,1486.1 1861.4,1485.8 1859.3,1485.5 1857.1,1485.3 1855.0,1485.0 1852.9,1484.7 1850.8,1484.5 1848.6,1484.2 1846.5,1483.9 1844.4,1483.6 1842.2,1483.3 1840.1,1483.1 1838.0,1482.8 1835.8,1482.5 1833.7,1482.2 1831.6,1481.9 1829.4,1481.6 1827.3,1481.4 1825.2,1481.1 1823.0,1480.8 1820.9,1480.5 1818.8,1480.2 1816.7,1479.9 1814.5,1479.6 1812.4,1479.3 1810.3,1479.0 1808.1,1478.7 1806.0,1478.4 1803.9,1478.1 1801.7,1477.8 1799.6,1477.5 1797.5,1477.2 1795.3,1476.9 1793.2,1476.5 1791.1,1476.2 1788.9,1475.9 1786.8,1475.6 1784.7,1475.3 1782.5,1475.0 1780.4,1474.7 1778.3,1474.3 1776.2,1474.0 1774.0,1473.7 1771.9,1473.4 1769.8,1473.0 1767.6,1472.7 1765.5,1472.4 1763.4,1472.0 1761.2,1471.7 1759.1,1471.4 1757.0,1471.0 1754.8,1470.7 1752.7,1470.3 1750.6,1470.0 1748.4,1469.7 1746.3,1469.3 1744.2,1469.0 1742.0,1468.6 1739.9,1468.3 1737.8,1467.9 1735.7,1467.6 1733.5,1467.2 1731.4,1466.9 1729.3,1466.5 1727.1,1466.1 1725.0,1465.8 1722.9,1465.4 1720.7,1465.0 1718.6,1464.7 1716.5,1464.3 1714.3,1463.9 1712.2,1463.6 1710.1,1463.2 1707.9,1462.8 1705.8,1462.4 1703.7,1462.1 1701.5,1461.7 1699.4,1461.3 1697.3,1460.9 1695.2,1460.5 1693.0,1460.1 1690.9,1459.7 1688.8,1459.3 1686.6,1459.0 1684.5,1458.6 1682.4,1458.2 1680.2,1457.8 1678.1,1457.4 1676.0,1456.9 1673.8,1456.5 1671.7,1456.1 1669.6,1455.7 1667.4,1455.3 1665.3,1454.9 1663.2,1454.5 1661.1,1454.1 1658.9,1453.6 1656.8,1453.2 1654.7,1452.8 1652.5,1452.4 1650.4,1451.9 1648.3,1451.5 1646.1,1451.1 1644.0,1450.6 1641.9,1450.2 1639.7,1449.8 1637.6,1449.3 1635.5,1448.9 1633.3,1448.4 1631.2,1448.0 1629.1,1447.5 1626.9,1447.1 1624.8,1446.6 1622.7,1446.2 1620.6,1445.7 1618.4,1445.3 1616.3,1444.8 1614.2,1444.3 1612.0,1443.9 1609.9,1443.4 1607.8,1442.9 1605.6,1442.4 1603.5,1442.0 1601.4,1441.5 1599.2,1441.0 1597.1,1440.5 1595.0,1440.0 1592.8,1439.6 1590.7,1439.1 1588.6,1438.6 1586.4,1438.1 1584.3,1437.6 1582.2,1437.1 1580.1,1436.6 1577.9,1436.1 1575.8,1435.6 1573.7,1435.0 1571.5,1434.5 1569.4,1434.0 1567.3,1433.5 1565.1,1433.0 1563.0,1432.5 1560.9,1431.9 1558.7,1431.4 1556.6,1430.9 1554.5,1430.3 1552.3,1429.8 1550.2,1429.3 1548.1,1428.7 1546.0,1428.2 1543.8,1427.6 1541.7,1427.1 1539.6,1426.5 1537.4,1426.0 1535.3,1425.4 1533.2,1424.9 1531.0,1424.3 1528.9,1423.7 1526.8,1423.2 1524.6,1422.6 1522.5,1422.0 1520.4,1421.4 1518.2,1420.9 1516.1,1420.3 1514.0,1419.7 1511.8,1419.1 1509.7,1418.5 1507.6,1417.9 1505.5,1417.3 1503.3,1416.7 1501.2,1416.1 1499.1,1415.5 1496.9,1414.9 1494.8,1414.3 1492.7,1413.7 1490.5,1413.1 1488.4,1412.4 1486.3,1411.8 1484.1,1411.2 1482.0,1410.5 1479.9,1409.9 1477.7,1409.3 1475.6,1408.6 1473.5,1408.0 1471.3,1407.3 1469.2,1406.7 1467.1,1406.0 1465.0,1405.4 1462.8,1404.7 1460.7,1404.1 1458.6,1403.4 1456.4,1402.7 1454.3,1402.1 1452.2,1401.4 1450.0,1400.7 1447.9,1400.0 1445.8,1399.3 1443.6,1398.6 1441.5,1397.9 1439.4,1397.3 1437.2,1396.6 1435.1,1395.8 1433.0,1395.1 1430.8,1394.4 1428.7,1393.7 1426.6,1393.0 1424.5,1392.3 1422.3,1391.6 1420.2,1390.8 1418.1,1390.1 1415.9,1389.4 1413.8,1388.6 1411.7,1387.9 1409.5,1387.1 1407.4,1386.4 1405.3,1385.6 1403.1,1384.9 1401.0,1384.1 1398.9,1383.3 1396.7,1382.6 1394.6,1381.8 1392.5,1381.0 1390.4,1380.2 1388.2,1379.4 1386.1,1378.7 1384.0,1377.9 1381.8,1377.1 1379.7,1376.3 1377.6,1375.5 1375.4,1374.6 1373.3,1373.8 1371.2,1373.0 1369.0,1372.2 1366.9,1371.4 1364.8,1370.5 1362.6,1369.7 1360.5,1368.9 1358.4,1368.0 1356.2,1367.2 1354.1,1366.3 1352.0,1365.5 1349.9,1364.6 1347.7,1363.8 1345.6,1362.9 1343.5,1362.0 1341.3,1361.1 1339.2,1360.3 1337.1,1359.4 1334.9,1358.5 1332.8,1357.6 1330.7,1356.7 1328.5,1355.8 1326.4,1354.9 1324.3,1354.0 1322.1,1353.0 1320.0,1352.1 1317.9,1351.2 1315.7,1350.3 1313.6,1349.3 1311.5,1348.4 1309.4,1347.4 1307.2,1346.5 1305.1,1345.5 1303.0,1344.6 1300.8,1343.6 1298.7,1342.6 1296.6,1341.7 1294.4,1340.7 1292.3,1339.7 1290.2,1338.7 1288.0,1337.7 1285.9,1336.7 1283.8,1335.7 1281.6,1334.7 1279.5,1333.7 1277.4,1332.7 1275.2,1331.7 1273.1,1330.6 1271.0,1329.6 1268.9,1328.6 1266.7,1327.5 1264.6,1326.5 1262.5,1325.4 1260.3,1324.4 1258.2,1323.3 1256.1,1322.2 1253.9,1321.1 1251.8,1320.1 1249.7,1319.0 1247.5,1317.9 1245.4,1316.8 1243.3,1315.7 1241.1,1314.6 1239.0,1313.5 1236.9,1312.3 1234.8,1311.2 1232.6,1310.1 1230.5,1308.9 1228.4,1307.8 1226.2,1306.6 1224.1,1305.5 1222.0,1304.3 1219.8,1303.2 1217.7,1302.0 1215.6,1300.8 1213.4,1299.6 1211.3,1298.4 1209.2,1297.2 1207.0,1296.0 1204.9,1294.8 1202.8,1293.6 1200.6,1292.4 1198.5,1291.2 1196.4,1289.9 1194.3,1288.7 1192.1,1287.5 1190.0,1286.2 1187.9,1285.0 1185.7,1283.7 1183.6,1282.4 1181.5,1281.2 1179.3,1279.9 1177.2,1278.6 1175.1,1277.3 1172.9,1276.0 1170.8,1274.7 1168.7,1273.4 1166.5,1272.0 1164.4,1270.7 1162.3,1269.4 1160.1,1268.0 1158.0,1266.7 1155.9,1265.3 1153.8,1264.0 1151.6,1262.6 1149.5,1261.2 1147.4,1259.9 1145.2,1258.5 1143.1,1257.1 1141.0,1255.7 1138.8,1254.3 1136.7,1252.9 1134.6,1251.4 1132.4,1250.0 1130.3,1248.6 1128.2,1247.1 1126.0,1245.7 1123.9,1244.2 1121.8,1242.8 1119.7,1241.3 1117.5,1239.8 1115.4,1238.3 1113.3,1236.8 1111.1,1235.3 1109.0,1233.8 1106.9,1232.3 1104.7,1230.8 1102.6,1229.3 1100.5,1227.7 1098.3,1226.2 1096.2,1224.6 1094.1,1223.1 1091.9,1221.5 1089.8,1219.9 1087.7,1218.3 1085.5,1216.7 1083.4,1215.1 1081.3,1213.5 1079.2,1211.9 1077.0,1210.3 1074.9,1208.7 1072.8,1207.0 1070.6,1205.4 1068.5,1203.7 1066.4,1202.1 1064.2,1200.4 1062.1,1198.7 1060.0,1197.0 1057.8,1195.3 1055.7,1193.6 1053.6,1191.9 1051.4,1190.2 1049.3,1188.5 1047.2,1186.7 1045.0,1185.0 1042.9,1183.2 1040.8,1181.5 1038.7,1179.7 1036.5,1177.9 1034.4,1176.1 1032.3,1174.4 1030.1,1172.6 1028.0,1170.7 1025.9,1168.9 1023.7,1167.1 1021.6,1165.3 1019.5,1163.4 1017.3,1161.5 1015.2,1159.7 1013.1,1157.8 1010.9,1155.9 1008.8,1154.0 1006.7,1152.1 1004.5,1150.2 1002.4,1148.3 1000.3,1146.4 998.2,1144.5 996.0,1142.5 993.9,1140.6 991.8,1138.6 989.6,1136.6 987.5,1134.6 985.4,1132.6 983.2,1130.6 981.1,1128.6 979.0,1126.6 976.8,1124.6 974.7,1122.5 972.6,1120.5 970.4,1118.4 968.3,1116.4 966.2,1114.3 964.1,1112.2 961.9,1110.1 959.8,1108.0 957.7,1105.9 955.5,1103.8 953.4,1101.6 951.3,1099.5 949.1,1097.4 947.0,1095.2 944.9,1093.0 942.7,1090.8 940.6,1088.6 938.5,1086.4 936.3,1084.2 934.2,1082.0 932.1,1079.8 929.9,1077.5 927.8,1075.3 925.7,1073.0 923.6,1070.7 921.4,1068.5 919.3,1066.2 917.2,1063.9 915.0,1061.6 912.9,1059.2 910.8,1056.9 908.6,1054.5 906.5,1052.2 904.4,1049.8 902.2,1047.5 900.1,1045.1 898.0,1042.7 895.8,1040.3 893.7,1037.8 891.6,1035.4 889.4,1033.0 887.3,1030.5 885.2,1028.1 883.1,1025.6 880.9,1023.1 878.8,1020.6 876.7,1018.1 874.5,1015.6 872.4,1013.1 870.3,1010.6 868.1,1008.0 866.0,1005.5 863.9,1002.9 861.7,1000.3 859.6,997.7 857.5,995.1 855.3,992.5 853.2,989.9 851.1,987.3 849.0,984.6 846.8,982.0 844.7,979.3 842.6,976.6 840.4,973.9 838.3,971.3 836.2,968.5 834.0,965.8 831.9,963.1 829.8,960.4 827.6,957.6 825.5,954.8 823.4,952.1 821.2,949.3 819.1,946.5 817.0,943.7 814.8,940.9 812.7,938.0 810.6,935.2 808.5,932.3 806.3,929.5 804.2,926.6 802.1,923.7 799.9,920.8 797.8,917.9 795.7,915.0 793.5,912.1 791.4,909.1 789.3,906.2 787.1,903.2 785.0,900.2 782.9,897.2 780.7,894.2 778.6,891.2 776.5,888.2 774.3,885.2 772.2,882.1 770.1,879.1 768.0,876.0 765.8,873.0 763.7,869.9 761.6,866.8 759.4,863.7 757.3,860.5 755.2,857.4 753.0,854.3 750.9,851.1 748.8,848.0 746.6,844.8 744.5,841.6 742.4,838.4 740.2,835.2 738.1,832.0 736.0,828.8 733.8,825.5 731.7,822.3 729.6,819.0 727.5,815.7 725.3,812.5 723.2,809.2 721.1,805.9 718.9,802.5 716.8,799.2 714.7,795.9 712.5,792.5 710.4,789.2 708.3,785.8 706.1,782.4 704.0,779.0 701.9,775.6 699.7,772.2 697.6,768.8 695.5,765.4 693.4,762.0 691.2,758.5 689.1,755.0 687.0,751.6 684.8,748.1 682.7,744.6 680.6,741.1 678.4,737.6 676.3,734.1 674.2,730.6 672.0,727.0 669.9,723.5 667.8,719.9 665.6,716.4 663.5,712.8 661.4,709.2 659.2,705.6 657.1,702.0 655.0,698.4 652.9,694.8 650.7,691.1 648.6,687.5 646.5,683.8 644.3,680.2 642.2,676.5 640.1,672.9 637.9,669.2 635.8,665.5 633.7,661.8 631.5,658.1 629.4,654.4 627.3,650.6 625.1,646.9 623.0,643.2 620.9,639.4 618.7,635.7 616.6,631.9 614.5,628.1 612.4,624.4 610.2,620.6 608.1,616.8 606.0,613.0 603.8,609.2 601.7,605.4 599.6,601.6 597.4,597.8 595.3,593.9 593.2,590.1 591.0,586.3 588.9,582.4 586.8,578.6 584.6,574.7 582.5,570.8 580.4,567.0 578.2,563.1 576.1,559.2 574.0,555.3 571.9,551.5 569.7,547.6 567.6,543.7 565.5,539.8 563.3,535.9 561.2,532.0 559.1,528.1 556.9,524.1 554.8,520.2 552.7,516.3 550.5,512.4 548.4,508.4 546.3,504.5 544.1,500.6 542.0,496.7 539.9,492.7 537.8,488.8 535.6,484.8 533.5,480.9 531.4,477.0 529.2,473.0 527.1,469.1 525.0,465.1 522.8,461.2 520.7,457.2 518.6,453.3 516.4,449.4 514.3,445.4 512.2,441.5 510.0,437.5 507.9,433.6 505.8,429.6 503.6,425.7 501.5,421.8 499.4,417.8 497.3,413.9 495.1,410.0 493.0,406.1 490.9,402.1 488.7,398.2 486.6,394.3 484.5,390.4 482.3,386.5 480.2,382.6 478.1,378.7 475.9,374.8 473.8,370.9 471.7,367.0 469.5,363.2 467.4,359.3 465.3,355.4 463.1,351.6 461.0,347.7 458.9,343.9 456.8,340.1 454.6,336.2 452.5,332.4 450.4,328.6 448.2,324.8 446.1,321.0 444.0,317.2 441.8,313.5 439.7,309.7 437.6,306.0 435.4,302.2 433.3,298.5 431.2,294.8 429.0,291.1 426.9,287.4 424.8,283.7 422.6,280.1 420.5,276.4 418.4,272.8 416.3,269.2 414.1,265.6 412.0,262.0 409.9,258.4 407.7,254.8 405.6,251.3 403.5,247.8 401.3,244.3 399.2,240.8 397.1,237.3 394.9,233.8 392.8,230.4 390.7,227.0 388.5,223.6 386.4,220.2 384.3,216.9 382.2,213.5 380.0,210.2 377.9,206.9 375.8,203.6 373.6,200.4 371.5,197.2 369.4,194.0 367.2,190.8 365.1,187.6 363.0,184.5 360.8,181.4 358.7,178.3 356.6,175.3 354.4,172.2 352.3,169.2 350.2,166.3 348.0,163.3 345.9,160.4 343.8,157.5 341.7,154.7 339.5,151.8 337.4,149.0 335.3,146.3 333.1,143.5 331.0,140.8 328.9,138.1 326.7,135.5 324.6,132.9 322.5,130.3 320.3,127.8 318.2,125.3 316.1,122.8 313.9,120.4 311.8,118.0 309.7,115.6 307.5,113.3 305.4,111.0 303.3,108.8 301.2,106.6 299.0,104.4 296.9,102.3 294.8,100.2 292.6,98.1 290.5,96.1 288.4,94.2 286.2,92.3 284.1,90.4 282.0,88.5 279.8,86.8 277.7,85.0 275.6,83.3 273.4,81.7 271.3,80.1 269.2,78.5 267.1,77.0 264.9,75.5 262.8,74.1 260.7,72.7 258.5,71.4 256.4,70.1 254.3,68.9 252.1,67.8 250.0,66.6 247.9,65.6 245.7,64.6 243.6,63.6 241.5,62.7 239.3,61.9 237.2,61.1 235.1,60.3 232.9,59.7 230.8,59.0 228.7,58.5 226.6,58.0 224.4,57.5 222.3,57.1 220.2,56.8 218.0,56.5 215.9,56.3 213.8,56.1 211.6,56.0 209.5,56.0" fill="#f2f2f2"/>
<polyline points="209.5,56.0 211.6,56.0 213.8,56.1 215.9,56.3 218.0,56.5 220.2,56.8 222.3,57.1 224.4,57.5 226.6,58.0 228.7,58.5 230.8,59.0 232.9,59.7 235.1,60.3 237.2,61.1 239.3,61.9 241.5,62.7 243.6,63.6 245.7,64.6 247.9,65.6 250.0,66.6 252.1,67.8 254.3,68.9 256.4,70.1 258.5,71.4 260.7,72.7 262.8,74.1 264.9,75.5 267.1,77.0 269.2,78.5 271.3,80.1 273.4,81.7 275.6,83.3 277.7,85.0 279.8,86.8 282.0,88.5 284.1,90.4 286.2,92.3 288.4,94.2 290.5,96.1 292.6,98.1 294.8,100.2 296.9,102.3 299.0,104.4 301.2,106.6 303.3,108.8 305.4,111.0 307.5,113.3 309.7,115.6 311.8,118.0 313.9,120.4 316.1,122.8 318.2,125.3 320.3,127.8 322.5,130.3 324.6,132.9 326.7,135.5 328.9,138.1 331.0,140.8 333.1,143.5 335.3,146.3 337.4,149.0 339.5,151.8 341.7,154.7 343.8,157.5 345.9,160.4 348.0,163.3 350.2,166.3 352.3,169.2 354.4,172.2 356.6,175.3 358.7,178.3 360.8,181.4 363.0,184.5 365.1,187.6 367.2,190.8 369.4,194.0 371.5,197.2 373.6,200.4 375.8,203.6 377.9,206.9 380.0,210.2 382.2,213.5 384.3,216.9 386.4,220.2 388.5,223.6 390.7,227.0 392.8,230.4 394.9,233.8 397.1,237.3 399.2,240.8 401.3,244.3 403.5,247.8 405.6,251.3 407.7,254.8 409.9,258.4 412.0,262.0 414.1,265.6 416.3,269.2 418.4,272.8 420.5,276.4 422.6,280.1 424.8,283.7 426.9,287.4 429.0,291.1 431.2,294.8 433.3,298.5 435.4,302.2 437.6,306.0 439.7,309.7 441.8,313.5 444.0,317.2 446.1,321.0 448.2,324.8 450.4,328.6 452.5,332.4 454.6,336.2 456.8,340.1 458.9,343.9 461.0,347.7 463.1,351.6 465.3,355.4 467.4,359.3 469.5,363.2 471.7,367.0 473.8,370.9 475.9,374.8 478.1,378.7 480.2,382.6 482.3,386.5 484.5,390.4 486.6,394.3 488.7,398.2 490.9,402.1 493.0,406.1 495.1,410.0 497.3,413.9 499.4,417.8 501.5,421.8 503.6,425.7 505.8,429.6 507.9,433.6 510.0,437.5 512.2,441.5 514.3,445.4 516.4,449.4 518.6,453.3 520.7,457.2 522.8,461.2 525.0,465.1 527.1,469.1 529.2,473.0 531.4,477.0 533.5,480.9 535.6,484.8 537.8,488.8 539.9,492.7 542.0,496.7 544.1,500.6 546.3,504.5 548.4,508.4 550.5,512.4 552.7,516.3 554.8,520.2 556.9,524.1 559.1,528.1 561.2,532.0 563.3,535.9 565.5,539.8 567.6,543.7 569.7,547.6 571.9,551.5 574.0,555.3 576.1,559.2 578.2,563.1 580.4,567.0 582.5,570.8 584.6,574.7 586.8,578.6 588.9,582.4 591.0,586.3 593.2,590.1 595.3,593.9 597.4,597.8 599.6,601.6 601.7,605.4 603.8,609.2 606.0,613.0 608.1,616.8 610.2,620.6 612.4,624.4 614.5,628.1 616.6,631.9 618.7,635.7 620.9,639.4 623.0,643.2 625.1,646.9 627.3,650.6 629.4,654.4 631.5,658.1 633.7,661.8 635.8,665.5 637.9,669.2 640.1,672.9 642.2,676.5 644.3,680.2 646.5,683.8 648.6,687.5 650.7,691.1 652.9,694.8 655.0,698.4 657.1,702.0 659.2,705.6 661.4,709.2 663.5,712.8 665.6,716.4 667.8,719.9 669.9,723.5 672.0,727.0 674.2,730.6 676.3,734.1 678.4,737.6 680.6,741.1 682.7,744.6 684.8,748.1 687.0,751.6 689.1,755.0 691.2,758.5 693.4,762.0 695.5,765.4 697.6,768.8 699.7,772.2 701.9,775.6 704.0,779.0 706.1,782.4 708.3,785.8 710.4,789.2 712.5,792.5 714.7,795.9 716.8,799.2 718.9,802.5 721.1,805.9 723.2,809.2 725.3,812.5 727.5,815.7 729.6,819.0 731.7,822.3 733.8,825.5 736.0,828.8 738.1,832.0 740.2,835.2 742.4,838.4 744.5,841.6 746.6,844.8 748.8,848.0 750.9,851.1 753.0,854.3 755.2,857.4 757.3,860.5 759.4,863.7 761.6,866.8 763.7,869.9 765.8,873.0 768.0,876.0 770.1,879.1 772.2,882.1 774.3,885.2 776.5,888.2 778.6,891.2 780.7,894.2 782.9,897.2 785.0,900.2 787.1,903.2 789.3,906.2 791.4,909.1 793.5,912.1 795.7,915.0 797.8,917.9 799.9,920.8 802.1,923.7 804.2,926.6 806.3,929.5 808.5,932.3 810.6,935.2 812.7,938.0 814.8,940.9 817.0,943.7 819.1,946.5 821.2,949.3 823.4,952.1 825.5,954.8 827.6,957.6 829.8,960.4 831.9,963.1 834.0,965.8 836.2,968.5 838.3,971.3 840.4,973.9 842.6,976.6 844.7,979.3 846.8,982.0 849.0,984.6 851.1,987.3 853.2,989.9 855.3,992.5 857.5,995.1 859.6,997.7 861.7,1000.3 863.9,1002.9 866.0,1005.5 868.1,1008.0 870.3,1010.6 872.4,1013.1 874.5,1015.6 876.7,1018.1 878.8,1020.6 880.9,1023.1 883.1,1025.6 885.2,1028.1 887.3,1030.5 889.4,1033.0 891.6,1035.4 893.7,1037.8 895.8,1040.3 898.0,1042.7 900.1,1045.1 902.2,1047.5 904.4,1049.8 906.5,1052.2 908.6,1054.5 910.8,1056.9 912.9,1059.2 915.0,1061.6 917.2,1063.9 919.3,1066.2 921.4,1068.5 923.6,1070.7 925.7,1073.0 927.8,1075.3 929.9,1077.5 932.1,1079.8 934.2,1082.0 936.3,1084.2 938.5,1086.4 940.6,1088.6 942.7,1090.8 944.9,1093.0 947.0,1095.2 949.1,1097.4 951.3,1099.5 953.4,1101.6 955.5,1103.8 957.7,1105.9 959.8,1108.0 961.9,1110.1 964.1,1112.2 966.2,1114.3 968.3,1116.4 970.4,1118.4 972.6,1120.5 974.7,1122.5 976.8,1124.6 979.0,1126.6 981.1,1128.6 983.2,1130.6 985.4,1132.6 987.5,1134.6 989.6,1136.6 991.8,1138.6 993.9,1140.6 996.0,1142.5 998.2,1144.5 1000.3,1146.4 1002.4,1148.3 1004.5,1150.2 1006.7,1152.1 1008.8,1154.0 1010.9,1155.9 1013.1,1157.8 1015.2,1159.7 1017.3,1161.5 1019.5,1163.4 1021.6,1165.3 1023.7,1167.1 1025.9,1168.9 1028.0,1170.7 1030.1,1172.6 1032.3,1174.4 1034.4,1176.1 1036.5,1177.9 1038.7,1179.7 1040.8,1181.5 1042.9,1183.2 1045.0,1185.0 1047.2,1186.7 1049.3,1188.5 1051.4,1190.2 1053.6,1191.9 1055.7,1193.6 1057.8,1195.3 1060.0,1197.0 1062.1,1198.7 1064.2,1200.4 1066.4,1202.1 1068.5,1203.7 1070.6,1205.4 1072.8,1207.0 1074.9,1208.7 1077.0,1210.3 1079.2,1211.9 1081.3,1213.5 1083.4,1215.1 1085.5,1216.7 1087.7,1218.3 1089.8,1219.9 1091.9,1221.5 1094.1,1223.1 1096.2,1224.6 1098.3,1226.2 1100.5,1227.7 1102.6,1229.3 1104.7,1230.8 1106.9,1232.3 1109.0,1233.8 1111.1,1235.3 1113.3,1236.8 1115.4,1238.3 1117.5,1239.8 1119.7,1241.3 1121.8,1242.8 1123.9,1244.2 1126.0,1245.7 1128.2,1247.1 1130.3,1248.6 1132.4,1250.0 1134.6,1251.4 1136.7,1252.9 1138.8,1254.3 1141.0,1255.7 1143.1,1257.1 1145.2,1258.5 1147.4,1259.9 1149.5,1261.2 1151.6,1262.6 1153.8,1264.0 1155.9,1265.3 1158.0,1266.7 1160.1,1268.0 1162.3,1269.4 1164.4,1270.7 1166.5,1272.0 1168.7,1273.4 1170.8,1274.7 1172.9,1276.0 1175.1,1277.3 1177.2,1278.6 1179.3,1279.9 1181.5,1281.2 1183.6,1282.4 1185.7,1283.7 1187.9,1285.0 1190.0,1286.2 1192.1,1287.5 1194.3,1288.7 1196.4,1289.9 1198.5,1291.2 1200.6,1292.4 1202.8,1293.6 1204.9,1294.8 1207.0,1296.0 1209.2,1297.2 1211.3,1298.4 1213.4,1299.6 1215.6,1300.8 1217.7,1302.0 1219.8,1303.2 1222.0,1304.3 1224.1,1305.5 1226.2,1306.6 1228.4,1307.8 1230.5,1308.9 1232.6,1310.1 1234.8,1311.2 1236.9,1312.3 1239.0,1313.5 1241.1,1314.6 1243.3,1315.7 1245.4,1316.8 1247.5,1317.9 1249.7,1319.0 1251.8,1320.1 1253.9,1321.1 1256.1,1322.2 1258.2,1323.3 1260.3,1324.4 1262.5,1325.4 1264.6,1326.5 1266.7,1327.5 1268.9,1328.6 1271.0,1329.6 1273.1,1330.6 1275.2,1331.7 1277.4,1332.7 1279.5,1333.7 1281.6,1334.7 1283.8,1335.7 1285.9,1336.7 1288.0,1337.7 1290.2,1338.7 1292.3,1339.7 1294.4,1340.7 1296.6,1341.7 1298.7,1342.6 1300.8,1343.6 1303.0,1344.6 1305.1,1345.5 1307.2,1346.5 1309.4,1347.4 1311.5,1348.4 1313.6,1349.3 1315.7,1350.3 1317.9,1351.2 1320.0,1352.1 1322.1,1353.0 1324.3,1354.0 1326.4,1354.9 1328.5,1355.8 1330.7,1356.7 1332.8,1357.6 1334.9,1358.5 1337.1,1359.4 1339.2,1360.3 1341.3,1361.1 1343.5,1362.0 1345.6,1362.9 1347.7,1363.8 1349.9,1364.6 1352.0,1365.5 1354.1,1366.3 1356.2,1367.2 1358.4,1368.0 1360.5,1368.9 1362.6,1369.7 1364.8,1370.5 1366.9,1371.4 1369.0,1372.2 1371.2,1373.0 1373.3,1373.8 1375.4,1374.6 1377.6,1375.5 1379.7,1376.3 1381.8,1377.1 1384.0,1377.9 1386.1,1378.7 1388.2,1379.4 1390.4,1380.2 1392.5,1381.0 1394.6,1381.8 1396.7,1382.6 1398.9,1383.3 1401.0,1384.1 1403.1,1384.9 1405.3,1385.6 1407.4,1386.4 1409.5,1387.1 1411.7,1387.9 1413.8,1388.6 1415.9,1389.4 1418.1,1390.1 1420.2,1390.8 1422.3,1391.6 1424.5,1392.3 1426.6,1393.0 1428.7,1393.7 1430.8,1394.4 1433.0,1395.1 1435.1,1395.8 1437.2,1396.6 1439.4,1397.3 1441.5,1397.9 1443.6,1398.6 1445.8,1399.3 1447.9,1400.0 1450.0,1400.7 1452.2,1401.4 1454.3,1402.1 1456.4,1402.7 1458.6,1403.4 1460.7,1404.1 1462.8,1404.7 1465.0,1405.4 1467.1,1406.0 1469.2,1406.7 1471.3,1407.3 1473.5,1408.0 1475.6,1408.6 1477.7,1409.3 1479.9,1409.9 1482.0,1410.5 1484.1,1411.2 1486.3,1411.8 1488.4,1412.4 1490.5,1413.1 1492.7,1413.7 1494.8,1414.3 1496.9,1414.9 1499.1,1415.5 1501.2,1416.1 1503.3,1416.7 1505.5,1417.3 1507.6,1417.9 1509.7,1418.5 1511.8,1419.1 1514.0,1419.7 1516.1,1420.3 1518.2,1420.9 1520.4,1421.4 1522.5,1422.0 1524.6,1422.6 1526.8,1423.2 1528.9,1423.7 1531.0,1424.3 1533.2,1424.9 1535.3,1425.4 1537.4,1426.0 1539.6,1426.5 1541.7,1427.1 1543.8,1427.6 1546.0,1428.2 1548.1,1428.7 1550.2,1429.3 1552.3,1429.8 1554.5,1430.3 1556.6,1430.9 1558.7,1431.4 1560.9,1431.9 1563.0,1432.5 1565.1,1433.0 1567.3,1433.5 1569.4,1434.0 1571.5,1434.5 1573.7,1435.0 1575.8,1435.6 1577.9,1436.1 1580.1,1436.6 1582.2,1437.1 1584.3,1437.6 1586.4,1438.1 1588.6,1438.6 1590.7,1439.1 1592.8,1439.6 1595.0,1440.0 1597.1,1440.5 1599.2,1441.0 1601.4,1441.5 1603.5,1442.0 1605.6,1442.4 1607.8,1442.9 1609.9,1443.4 1612.0,1443.9 1614.2,1444.3 1616.3,1444.8 1618.4,1445.3 1620.6,1445.7 1622.7,1446.2 1624.8,1446.6 1626.9,1447.1 1629.1,1447.5 1631.2,1448.0 1633.3,1448.4 1635.5,1448.9 1637.6,1449.3 1639.7,1449.8 1641.9,1450.2 1644.0,1450.6 1646.1,1451.1 1648.3,1451.5 1650.4,1451.9 1652.5,1452.4 1654.7,1452.8 1656.8,1453.2 1658.9,1453.6 1661.1,1454.1 1663.2,1454.5 1665.3,1454.9 1667.4,1455.3 1669.6,1455.7 1671.7,1456.1 1673.8,1456.5 1676.0,1456.9 1678.1,1457.4 1680.2,1457.8 1682.4,1458.2 1684.5,1458.6 1686.6,1459.0 1688.8,1459.3 1690.9,1459.7 1693.0,1460.1 1695.2,1460.5 1697.3,1460.9 1699.4,1461.3 1701.5,1461.7 1703.7,1462.1 1705.8,1462.4 1707.9,1462.8 1710.1,1463.2 1712.2,1463.6 1714.3,1463.9 1716.5,1464.3 1718.6,1464.7 1720.7,1465.0 1722.9,1465.4 1725.0,1465.8 1727.1,1466.1 1729.3,1466.5 1731.4,1466.9 1733.5,1467.2 1735.7,1467.6 1737.8,1467.9 1739.9,1468.3 1742.0,1468.6 1744.2,1469.0 1746.3,1469.3 1748.4,1469.7 1750.6,1470.0 1752.7,1470.3 1754.8,1470.7 1757.0,1471.0 1759.1,1471.4 1761.2,1471.7 1763.4,1472.0 1765.5,1472.4 1767.6,1472.7 1769.8,1473.0 1771.9,1473.4 1774.0,1473.7 1776.2,1474.0 1778.3,1474.3 1780.4,1474.7 1782.5,1475.0 1784.7,1475.3 1786.8,1475.6 1788.9,1475.9 1791.1,1476.2 1793.2,1476.5 1795.3,1476.9 1797.5,1477.2 1799.6,1477.5 1801.7,1477.8 1803.9,1478.1 1806.0,1478.4 1808.1,1478.7 1810.3,1479.0 1812.4,1479.3 1814.5,1479.6 1816.7,1479.9 1818.8,1480.2 1820.9,1480.5 1823.0,1480.8 1825.2,1481.1 1827.3,1481.4 1829.4,1481.6 1831.6,1481.9 1833.7,1482.2 1835.8,1482.5 1838.0,1482.8 1840.1,1483.1 1842.2,1483.3 1844.4,1483.6 1846.5,1483.9 1848.6,1484.2 1850.8,1484.5 1852.9,1484.7 1855.0,1485.0 1857.1,1485.3 1859.3,1485.5 1861.4,1485.8 1863.5,1486.1 1865.7,1486.4 1867.8,1486.6 1869.9,1486.9 1872.1,1487.1 1874.2,1487.4 1876.3,1487.7 1878.5,1487.9 1880.6,1488.2 1882.7,1488.4 1884.9,1488.7 1887.0,1489.0 1889.1,1489.2 1891.3,1489.5 1893.4,1489.7 1895.5,1490.0 1897.6,1490.2 1899.8,1490.5 1901.9,1490.7 1904.0,1490.9 1906.2,1491.2 1908.3,1491.4 1910.4,1491.7 1912.6,1491.9 1914.7,1492.2 1916.8,1492.4 1919.0,1492.6 1921.1,1492.9 1923.2,1493.1 1925.4,1493.3 1927.5,1493.6 1929.6,1493.8 1931.8,1494.0 1933.9,1494.3 1936.0,1494.5 1938.1,1494.7 1940.3,1495.0 1942.4,1495.2 1944.5,1495.4 1946.7,1495.6 1948.8,1495.9 1950.9,1496.1 1953.1,1496.3 1955.2,1496.5 1957.3,1496.7 1959.5,1497.0 1961.6,1497.2 1963.7,1497.4 1965.9,1497.6 1968.0,1497.8 1970.1,1498.0 1972.3,1498.2 1974.4,1498.5 1976.5,1498.7 1978.6,1498.9 1980.8,1499.1 1982.9,1499.3 1985.0,1499.5 1987.2,1499.7 1989.3,1499.9 1991.4,1500.1 1993.6,1500.3 1995.7,1500.5 1997.8,1500.7 2000.0,1500.9 2002.1,1501.1 2004.2,1501.3 2006.4,1501.5 2008.5,1501.7 2010.6,1501.9 2012.7,1502.1 2014.9,1502.3 2017.0,1502.5 2019.1,1502.7 2021.3,1502.9 2023.4,1503.1 2025.5,1503.2 2027.7,1503.4 2029.8,1503.6 2031.9,1503.8 2034.1,1504.0 2036.2,1504.2 2038.3,1504.4 2040.5,1504.5 2042.6,1504.7 2044.7,1504.9 2046.9,1505.1 2049.0,1505.3 2051.1,1505.5 2053.2,1505.6 2055.4,1505.8 2057.5,1506.0 2059.6,1506.2 2061.8,1506.3 2063.9,1506.5 2066.0,1506.7 2068.2,1506.9 2070.3,1507.0 2072.4,1507.2 2074.6,1507.4 2076.7,1507.6 2078.8,1507.7 2081.0,1507.9 2083.1,1508.1 2085.2,1508.2 2087.4,1508.4 2089.5,1508.6 2091.6,1508.7 2093.7,1508.9 2095.9,1509.1 2098.0,1509.2 2100.1,1509.4 2102.3,1509.5 2104.4,1509.7 2106.5,1509.9 2108.7,1510.0 2110.8,1510.2 2112.9,1510.3 2115.1,1510.5 2117.2,1510.7 2119.3,1510.8 2121.5,1511.0 2123.6,1511.1 2125.7,1511.3 2127.9,1511.4 2130.0,1511.6 2132.1,1511.7 2134.2,1511.9 2136.4,1512.0 2138.5,1512.2 2140.6,1512.3 2142.8,1512.5 2144.9,1512.6 2147.0,1512.8 2149.2,1512.9 2151.3,1513.1 2153.4,1513.2 2155.6,1513.4 2157.7,1513.5 2159.8,1513.6 2162.0,1513.8 2164.1,1513.9 2166.2,1514.1 2168.3,1514.2 2170.5,1514.4 2172.6,1514.5 2174.7,1514.6 2176.9,1514.8 2179.0,1514.9 2181.1,1515.0 2183.3,1515.2 2185.4,1515.3 2187.5,1515.5 2189.7,1515.6 2191.8,1515.7 2193.9,1515.9 2196.1,1516.0 2198.2,1516.1 2200.3,1516.3 2202.5,1516.4 2204.6,1516.5 2206.7,1516.7 2208.8,1516.8 2211.0,1516.9 2213.1,1517.0 2215.2,1517.2 2217.4,1517.3 2219.5,1517.4 2221.6,1517.6 2223.8,1517.7 2225.9,1517.8 2228.0,1517.9 2230.2,1518.1 2232.3,1518.2 2234.4,1518.3 2236.6,1518.4 2238.7,1518.6 2240.8,1518.7 2243.0,1518.8 2245.1,1518.9 2247.2,1519.0 2249.3,1519.2 2251.5,1519.3 2253.6,1519.4 2255.7,1519.5 2257.9,1519.6 2260.0,1519.7 2262.1,1519.9 2264.3,1520.0 2266.4,1520.1 2268.5,1520.2 2270.7,1520.3 2272.8,1520.4 2274.9,1520.6 2277.1,1520.7 2279.2,1520.8 2281.3,1520.9 2283.4,1521.0 2285.6,1521.1 2287.7,1521.2 2289.8,1521.3 2292.0,1521.5 2294.1,1521.6 2296.2,1521.7 2298.4,1521.8 2300.5,1521.9 2302.6,1522.0 2304.8,1522.1 2306.9,1522.2 2309.0,1522.3 2311.2,1522.4 2313.3,1522.5 2315.4,1522.6 2317.6,1522.7 2319.7,1522.8 2321.8,1523.0 2323.9,1523.1 2326.1,1523.2 2328.2,1523.3 2330.3,1523.4 2332.5,1523.5 2334.6,1523.6 2336.7,1523.7 2338.9,1523.8 2341.0,1523.9" fill="none" stroke="#46089c" stroke-width="1.437"/>
<polyline points="209.5,56.0 211.6,56.0 213.8,56.1 215.9,56.3 218.0,56.5 220.2,56.7 222.3,57.1 224.4,57.4 226.6,57.8 228.7,58.3 230.8,58.8 232.9,59.4 235.1,60.0 237.2,60.6 239.3,61.3 241.5,62.0 243.6,62.8 245.7,63.6 247.9,64.4 250.0,65.3 252.1,66.2 254.3,67.1 256.4,68.1 258.5,69.1 260.7,70.1 262.8,71.1 264.9,72.2 267.1,73.3 269.2,74.4 271.3,75.6 273.4,76.8 275.6,78.0 277.7,79.2 279.8,80.4 282.0,81.7 284.1,83.0 286.2,84.3 288.4,85.6 290.5,86.9 292.6,88.3 294.8,89.7 296.9,91.0 299.0,92.4 301.2,93.9 303.3,95.3 305.4,96.7 307.5,98.2 309.7,99.6 311.8,101.1 313.9,102.6 316.1,104.1 318.2,105.6 320.3,107.1 322.5,108.6 324.6,110.1 326.7,111.7 328.9,113.2 331.0,114.8 333.1,116.3 335.3,117.9 337.4,119.5 339.5,121.1 341.7,122.6 343.8,124.2 345.9,125.8 348.0,127.4 350.2,129.0 352.3,130.6 354.4,132.2 356.6,133.8 358.7,135.4 360.8,137.1 363.0,138.7 365.1,140.3 367.2,141.9 369.4,143.5 371.5,145.2 373.6,146.8 375.8,148.4 377.9,150.0 380.0,151.7 382.2,153.3 384.3,154.9 386.4,156.5 388.5,158.2 390.7,159.8 392.8,161.4 394.9,163.0 397.1,164.7 399.2,166.3 401.3,167.9 403.5,169.5 405.6,171.2 407.7,172.8 409.9,174.4 412.0,176.0 414.1,177.6 416.3,179.2 418.4,180.8 420.5,182.4 422.6,184.0 424.8,185.6 426.9,187.2 429.0,188.8 431.2,190.4 433.3,192.0 435.4,193.6 437.6,195.1 439.7,196.7 441.8,198.3 444.0,199.9 446.1,201.4 448.2,203.0 450.4,204.5 452.5,206.1 454.6,207.7 456.8,209.2 458.9,210.7 461.0,212.3 463.1,213.8 465.3,215.3 467.4,216.9 469.5,218.4 471.7,219.9 473.8,221.4 475.9,222.9 478.1,224.4 480.2,225.9 482.3,227.4 484.5,228.9 486.6,230.4 488.7,231.9 490.9,233.4 493.0,234.8 495.1,236.3 497.3,237.8 499.4,239.2 501.5,240.7 503.6,242.1 505.8,243.6 507.9,245.0 510.0,246.4 512.2,247.9 514.3,249.3 516.4,250.7 518.6,252.1 520.7,253.5 522.8,254.9 525.0,256.3 527.1,257.7 529.2,259.1 531.4,260.5 533.5,261.9 535.6,263.3 537.8,264.6 539.9,266.0 542.0,267.4 544.1,268.7 546.3,270.1 548.4,271.4 550.5,272.8 552.7,274.1 554.8,275.4 556.9,276.7 559.1,278.1 561.2,279.4 563.3,280.7 565.5,282.0 567.6,283.3 569.7,284.6 571.9,285.9 574.0,287.2 576.1,288.4 578.2,289.7 580.4,291.0 582.5,292.2 584.6,293.5 586.8,294.7 588.9,296.0 591.0,297.2 593.2,298.5 595.3,299.7 597.4,300.9 599.6,302.2 601.7,303.4 603.8,304.6 606.0,305.8 608.1,307.0 610.2,308.2 612.4,309.4 614.5,310.6 616.6,311.8 618.7,313.0 620.9,314.1 623.0,315.3 625.1,316.5 627.3,317.6 629.4,318.8 631.5,319.9 633.7,321.1 635.8,322.2 637.9,323.4 640.1,324.5 642.2,325.6 644.3,326.7 646.5,327.9 648.6,329.0 650.7,330.1 652.9,331.2 655.0,332.3 657.1,333.4 659.2,334.5 661.4,335.5 663.5,336.6 665.6,337.7 667.8,338.8 669.9,339.8 672.0,340.9 674.2,342.0 676.3,343.0 678.4,344.1 680.6,345.1 682.7,346.1 684.8,347.2 687.0,348.2 689.1,349.2 691.2,350.3 693.4,351.3 695.5,352.3 697.6,353.3 699.7,354.3 701.9,355.3 704.0,356.3 706.1,357.3 708.3,358.3 710.4,359.3 712.5,360.3 714.7,361.2 716.8,362.2 718.9,363.2 721.1,364.1 723.2,365.1 725.3,366.0 727.5,367.0 729.6,367.9 731.7,368.9 733.8,369.8 736.0,370.8 738.1,371.7 740.2,372.6 742.4,373.5 744.5,374.5 746.6,375.4 748.8,376.3 750.9,377.2 753.0,378.1 755.2,379.0 757.3,379.9 759.4,380.8 761.6,381.7 763.7,382.6 765.8,383.4 768.0,384.3 770.1,385.2 772.2,386.1 774.3,386.9 776.5,387.8 778.6,388.6 780.7,389.5 782.9,390.3 785.0,391.2 787.1,392.0 789.3,392.9 791.4,393.7 793.5,394.6 795.7,395.4 797.8,396.2 799.9,397.0 802.1,397.8 804.2,398.7 806.3,399.5 808.5,400.3 810.6,401.1 812.7,401.9 814.8,402.7 817.0,403.5 819.1,404.3 821.2,405.1 823.4,405.8 825.5,406.6 827.6,407.4 829.8,408.2 831.9,409.0 834.0,409.7 836.2,410.5 838.3,411.3 840.4,412.0 842.6,412.8 844.7,413.5 846.8,414.3 849.0,415.0 851.1,415.8 853.2,416.5 855.3,417.2 857.5,418.0 859.6,418.7 861.7,419.4 863.9,420.2 866.0,420.9 868.1,421.6 870.3,422.3 872.4,423.0 874.5,423.7 876.7,424.4 878.8,425.1 880.9,425.8 883.1,426.5 885.2,427.2 887.3,427.9 889.4,428.6 891.6,429.3 893.7,430.0 895.8,430.7 898.0,431.3 900.1,432.0 902.2,432.7 904.4,433.4 906.5,434.0 908.6,434.7 910.8,435.4 912.9,436.0 915.0,436.7 917.2,437.3 919.3,438.0 921.4,438.6 923.6,439.3 925.7,439.9 927.8,440.5 929.9,441.2 932.1,441.8 934.2,442.4 936.3,443.1 938.5,443.7 940.6,444.3 942.7,445.0 944.9,445.6 947.0,446.2 949.1,446.8 951.3,447.4 953.4,448.0 955.5,448.6 957.7,449.2 959.8,449.8 961.9,450.4 964.1,451.0 966.2,451.6 968.3,452.2 970.4,452.8 972.6,453.4 974.7,454.0 976.8,454.6 979.0,455.1 981.1,455.7 983.2,456.3 985.4,456.9 987.5,457.4 989.6,458.0 991.8,458.6 993.9,459.1 996.0,459.7 998.2,460.3 1000.3,460.8 1002.4,461.4 1004.5,461.9 1006.7,462.5 1008.8,463.0 1010.9,463.6 1013.1,464.1 1015.2,464.7 1017.3,465.2 1019.5,465.7 1021.6,466.3 1023.7,466.8 1025.9,467.3 1028.0,467.9 1030.1,468.4 1032.3,468.9 1034.4,469.4 1036.5,470.0 1038.7,470.5 1040.8,471.0 1042.9,471.5 1045.0,472.0 1047.2,472.5 1049.3,473.0 1051.4,473.5 1053.6,474.0 1055.7,474.6 1057.8,475.1 1060.0,475.5 1062.1,476.0 1064.2,476.5 1066.4,477.0 1068.5,477.5 1070.6,478.0 1072.8,478.5 1074.9,479.0 1077.0,479.5 1079.2,480.0 1081.3,480.4 1083.4,480.9 1085.5,481.4 1087.7,481.9 1089.8,482.3 1091.9,482.8 1094.1,483.3 1096.2,483.7 1098.3,484.2 1100.5,484.7 1102.6,485.1 1104.7,485.6 1106.9,486.0 1109.0,486.5 1111.1,487.0 1113.3,487.4 1115.4,487.9 1117.5,488.3 1119.7,488.8 1121.8,489.2 1123.9,489.6 1126.0,490.1 1128.2,490.5 1130.3,491.0 1132.4,491.4 1134.6,491.8 1136.7,492.3 1138.8,492.7 1141.0,493.1 1143.1,493.6 1145.2,494.0 1147.4,494.4 1149.5,494.8 1151.6,495.3 1153.8,495.7 1155.9,496.1 1158.0,496.5 1160.1,496.9 1162.3,497.4 1164.4,497.8 1166.5,498.2 1168.7,498.6 1170.8,499.0 1172.9,499.4 1175.1,499.8 1177.2,500.2 1179.3,500.6 1181.5,501.0 1183.6,501.4 1185.7,501.8 1187.9,502.2 1190.0,502.6 1192.1,503.0 1194.3,503.4 1196.4,503.8 1198.5,504.2 1200.6,504.6 1202.8,505.0 1204.9,505.3 1207.0,505.7 1209.2,506.1 1211.3,506.5 1213.4,506.9 1215.6,507.2 1217.7,507.6 1219.8,508.0 1222.0,508.4 1224.1,508.7 1226.2,509.1 1228.4,509.5 1230.5,509.9 1232.6,510.2 1234.8,510.6 1236.9,511.0 1239.0,511.3 1241.1,511.7 1243.3,512.0 1245.4,512.4 1247.5,512.8 1249.7,513.1 1251.8,513.5 1253.9,513.8 1256.1,514.2 1258.2,514.5 1260.3,514.9 1262.5,515.2 1264.6,515.6 1266.7,515.9 1268.9,516.3 1271.0,516.6 1273.1,517.0 1275.2,517.3 1277.4,517.6 1279.5,518.0 1281.6,518.3 1283.8,518.7 1285.9,519.0 1288.0,519.3 1290.2,519.7 1292.3,520.0 1294.4,520.3 1296.6,520.7 1298.7,521.0 1300.8,521.3 1303.0,521.6 1305.1,522.0 1307.2,522.3 1309.4,522.6 1311.5,522.9 1313.6,523.3 1315.7,523.6 1317.9,523.9 1320.0,524.2 1322.1,524.5 1324.3,524.8 1326.4,525.2 1328.5,525.5 1330.7,525.8 1332.8,526.1 1334.9,526.4 1337.1,526.7 1339.2,527.0 1341.3,527.3 1343.5,527.6 1345.6,527.9 1347.7,528.2 1349.9,528.5 1352.0,528.8 1354.1,529.1 1356.2,529.4 1358.4,529.7 1360.5,530.0 1362.6,530.3 1364.8,530.6 1366.9,530.9 1369.0,531.2 1371.2,531.5 1373.3,531.8 1375.4,532.1 1377.6,532.4 1379.7,532.7 1381.8,532.9 1384.0,533.2 1386.1,533.5 1388.2,533.8 1390.4,534.1 1392.5,534.4 1394.6,534.7 1396.7,534.9 1398.9,535.2 1401.0,535.5 1403.1,535.8 1405.3,536.0 1407.4,536.3 1409.5,536.6 1411.7,536.9 1413.8,537.1 1415.9,537.4 1418.1,537.7 1420.2,538.0 1422.3,538.2 1424.5,538.5 1426.6,538.8 1428.7,539.0 1430.8,539.3 1433.0,539.6 1435.1,539.8 1437.2,540.1 1439.4,540.3 1441.5,540.6 1443.6,540.9 1445.8,541.1 1447.9,541.4 1450.0,541.6 1452.2,541.9 1454.3,542.2 1456.4,542.4 1458.6,542.7 1460.7,542.9 1462.8,543.2 1465.0,543.4 1467.1,543.7 1469.2,543.9 1471.3,544.2 1473.5,544.4 1475.6,544.7 1477.7,544.9 1479.9,545.2 1482.0,545.4 1484.1,545.7 1486.3,545.9 1488.4,546.1 1490.5,546.4 1492.7,546.6 1494.8,546.9 1496.9,547.1 1499.1,547.3 1501.2,547.6 1503.3,547.8 1505.5,548.1 1507.6,548.3 1509.7,548.5 1511.8,548.8 1514.0,549.0 1516.1,549.2 1518.2,549.5 1520.4,549.7 1522.5,549.9 1524.6,550.2 1526.8,550.4 1528.9,550.6 1531.0,550.8 1533.2,551.1 1535.3,551.3 1537.4,551.5 1539.6,551.8 1541.7,552.0 1543.8,552.2 1546.0,552.4 1548.1,552.6 1550.2,552.9 1552.3,553.1 1554.5,553.3 1556.6,553.5 1558.7,553.7 1560.9,554.0 1563.0,554.2 1565.1,554.4 1567.3,554.6 1569.4,554.8 1571.5,555.0 1573.7,555.3 1575.8,555.5 1577.9,555.7 1580.1,555.9 1582.2,556.1 1584.3,556.3 1586.4,556.5 1588.6,556.7 1590.7,556.9 1592.8,557.2 1595.0,557.4 1597.1,557.6 1599.2,557.8 1601.4,558.0 1603.5,558.2 1605.6,558.4 1607.8,558.6 1609.9,558.8 1612.0,559.0 1614.2,559.2 1616.3,559.4 1618.4,559.6 1620.6,559.8 1622.7,560.0 1624.8,560.2 1626.9,560.4 1629.1,560.6 1631.2,560.8 1633.3,561.0 1635.5,561.2 1637.6,561.4 1639.7,561.6 1641.9,561.8 1644.0,562.0 1646.1,562.1 1648.3,562.3 1650.4,562.5 1652.5,562.7 1654.7,562.9 1656.8,563.1 1658.9,563.3 1661.1,563.5 1663.2,563.7 1665.3,563.9 1667.4,564.0 1669.6,564.2 1671.7,564.4 1673.8,564.6 1676.0,564.8 1678.1,565.0 1680.2,565.2 1682.4,565.3 1684.5,565.5 1686.6,565.7 1688.8,565.9 1690.9,566.1 1693.0,566.2 1695.2,566.4 1697.3,566.6 1699.4,566.8 1701.5,567.0 1703.7,567.1 1705.8,567.3 1707.9,567.5 1710.1,567.7 1712.2,567.8 1714.3,568.0 1716.5,568.2 1718.6,568.4 1720.7,568.5 1722.9,568.7 1725.0,568.9 1727.1,569.1 1729.3,569.2 1731.4,569.4 1733.5,569.6 1735.7,569.7 1737.8,569.9 1739.9,570.1 1742.0,570.2 1744.2,570.4 1746.3,570.6 1748.4,570.7 1750.6,570.9 1752.7,571.1 1754.8,571.2 1757.0,571.4 1759.1,571.6 1761.2,571.7 1763.4,571.9 1765.5,572.1 1767.6,572.2 1769.8,572.4 1771.9,572.6 1774.0,572.7 1776.2,572.9 1778.3,573.0 1780.4,573.2 1782.5,573.4 1784.7,573.5 1786.8,573.7 1788.9,573.8 1791.1,574.0 1793.2,574.1 1795.3,574.3 1797.5,574.5 1799.6,574.6 1801.7,574.8 1803.9,574.9 1806.0,575.1 1808.1,575.2 1810.3,575.4 1812.4,575.5 1814.5,575.7 1816.7,575.8 1818.8,576.0 1820.9,576.1 1823.0,576.3 1825.2,576.4 1827.3,576.6 1829.4,576.7 1831.6,576.9 1833.7,577.0 1835.8,577.2 1838.0,577.3 1840.1,577.5 1842.2,577.6 1844.4,577.8 1846.5,577.9 1848.6,578.1 1850.8,578.2 1852.9,578.4 1855.0,578.5 1857.1,578.7 1859.3,578.8 1861.4,578.9 1863.5,579.1 1865.7,579.2 1867.8,579.4 1869.9,579.5 1872.1,579.7 1874.2,579.8 1876.3,579.9 1878.5,580.1 1880.6,580.2 1882.7,580.4 1884.9,580.5 1887.0,580.6 1889.1,580.8 1891.3,580.9 1893.4,581.0 1895.5,581.2 1897.6,581.3 1899.8,581.5 1901.9,581.6 1904.0,581.7 1906.2,581.9 1908.3,582.0 1910.4,582.1 1912.6,582.3 1914.7,582.4 1916.8,582.5 1919.0,582.7 1921.1,582.8 1923.2,582.9 1925.4,583.1 1927.5,583.2 1929.6,583.3 1931.8,583.5 1933.9,583.6 1936.0,583.7 1938.1,583.9 1940.3,584.0 1942.4,584.1 1944.5,584.2 1946.7,584.4 1948.8,584.5 1950.9,584.6 1953.1,584.8 1955.2,584.9 1957.3,585.0 1959.5,585.1 1961.6,585.3 1963.7,585.4 1965.9,585.5 1968.0,585.6 1970.1,585.8 1972.3,585.9 1974.4,586.0 1976.5,586.1 1978.6,586.3 1980.8,586.4 1982.9,586.5 1985.0,586.6 1987.2,586.7 1989.3,586.9 1991.4,587.0 1993.6,587.1 1995.7,587.2 1997.8,587.4 2000.0,587.5 2002.1,587.6 2004.2,587.7 2006.4,587.8 2008.5,588.0 2010.6,588.1 2012.7,588.2 2014.9,588.3 2017.0,588.4 2019.1,588.5 2021.3,588.7 2023.4,588.8 2025.5,588.9 2027.7,589.0 2029.8,589.1 2031.9,589.2 2034.1,589.4 2036.2,589.5 2038.3,589.6 2040.5,589.7 2042.6,589.8 2044.7,589.9 2046.9,590.0 2049.0,590.2 2051.1,590.3 2053.2,590.4 2055.4,590.5 2057.5,590.6 2059.6,590.7 2061.8,590.8 2063.9,590.9 2066.0,591.0 2068.2,591.2 2070.3,591.3 2072.4,591.4 2074.6,591.5 2076.7,591.6 2078.8,591.7 2081.0,591.8 2083.1,591.9 2085.2,592.0 2087.4,592.1 2089.5,592.2 2091.6,592.4 2093.7,592.5 2095.9,592.6 2098.0,592.7 2100.1,592.8 2102.3,592.9 2104.4,593.0 2106.5,593.1 2108.7,593.2 2110.8,593.3 2112.9,593.4 2115.1,593.5 2117.2,593.6 2119.3,593.7 2121.5,593.8 2123.6,593.9 2125.7,594.0 2127.9,594.1 2130.0,594.2 2132.1,594.3 2134.2,594.5 2136.4,594.6 2138.5,594.7 2140.6,594.8 2142.8,594.9 2144.9,595.0 2147.0,595.1 2149.2,595.2 2151.3,595.3 2153.4,595.4 2155.6,595.5 2157.7,595.6 2159.8,595.7 2162.0,595.8 2164.1,595.9 2166.2,596.0 2168.3,596.1 2170.5,596.2 2172.6,596.2 2174.7,596.3 2176.9,596.4 2179.0,596.5 2181.1,596.6 2183.3,596.7 2185.4,596.8 2187.5,596.9 2189.7,597.0 2191.8,597.1 2193.9,597.2 2196.1,597.3 2198.2,597.4 2200.3,597.5 2202.5,597.6 2204.6,597.7 2206.7,597.8 2208.8,597.9 2211.0,598.0 2213.1,598.1 2215.2,598.2 2217.4,598.2 2219.5,598.3 2221.6,598.4 2223.8,598.5 2225.9,598.6 2228.0,598.7 2230.2,598.8 2232.3,598.9 2234.4,599.0 2236.6,599.1 2238.7,599.2 2240.8,599.3 2243.0,599.3 2245.1,599.4 2247.2,599.5 2249.3,599.6 2251.5,599.7 2253.6,599.8 2255.7,599.9 2257.9,600.0 2260.0,600.1 2262.1,600.1 2264.3,600.2 2266.4,600.3 2268.5,600.4 2270.7,600.5 2272.8,600.6 2274.9,600.7 2277.1,600.8 2279.2,600.8 2281.3,600.9 2283.4,601.0 2285.6,601.1 2287.7,601.2 2289.8,601.3 2292.0,601.4 2294.1,601.4 2296.2,601.5 2298.4,601.6 2300.5,601.7 2302.6,601.8 2304.8,601.9 2306.9,601.9 2309.0,602.0 2311.2,602.1 2313.3,602.2 2315.4,602.3 2317.6,602.4 2319.7,602.4 2321.8,602.5 2323.9,602.6 2326.1,602.7 2328.2,602.8 2330.3,602.9 2332.5,602.9 2334.6,603.0 2336.7,603.1 2338.9,603.2 2341.0,603.3" fill="none" stroke="#1652a8" stroke-width="1.437"/>
<polyline points="569.5,302.0 571.7,300.5 573.9,308.5 576.2,316.4 578.4,324.2 580.6,331.9 582.8,339.6 585.0,347.2 587.2,354.7 589.4,362.2 591.7,369.6 593.9,376.9 596.1,384.1 598.3,391.3 600.5,398.4 602.7,405.5 604.9,412.5 607.2,419.4 609.4,426.3 611.6,433.0 613.8,439.8 616.0,446.5 618.2,453.1 620.4,459.6 622.7,466.1 624.9,472.5 627.1,478.9 629.3,485.2 631.5,491.5 633.7,497.7 635.9,503.9 638.2,510.0 640.4,516.0 642.6,522.0 644.8,527.9 647.0,533.8 649.2,539.7 651.4,545.4 653.7,551.2 655.9,556.9 658.1,562.5 660.3,568.1 662.5,573.6 664.7,579.1 666.9,584.6 669.2,590.0 671.4,595.3 673.6,600.6 675.8,605.9 678.0,611.1 680.2,616.3 682.4,621.4 684.7,626.5 686.9,631.6 689.1,636.6 691.3,641.5 693.5,646.5 695.7,651.4 697.9,656.2 700.2,661.0 702.4,665.8 704.6,670.5 706.8,675.2 709.0,679.8 711.2,684.5 713.4,689.0 715.7,693.6 717.9,698.1 720.1,702.6 722.3,707.0 724.5,711.4 726.7,715.8 728.9,720.1 731.2,724.4 733.4,728.7 735.6,732.9 737.8,737.1 740.0,741.3 742.2,745.4 744.4,749.5 746.7,753.6 748.9,757.6 751.1,761.7 753.3,765.6 755.5,769.6 757.7,773.5 759.9,777.4 762.2,781.3 764.4,785.1 766.6,788.9 768.8,792.7 771.0,796.5 773.2,800.2 775.4,803.9 777.7,807.6 779.9,811.2 782.1,814.9 784.3,818.4 786.5,822.0 788.7,825.6 790.9,829.1 793.2,832.6 795.4,836.1 797.6,839.5 799.8,842.9 802.0,846.3 804.2,849.7 806.4,853.1 808.7,856.4 810.9,859.7 813.1,863.0 815.3,866.2 817.5,869.5 819.7,872.7 821.9,875.9 824.2,879.1 826.4,882.2 828.6,885.4 830.8,888.5 833.0,891.6 835.2,894.6 837.5,897.7 839.7,900.7 841.9,903.7 844.1,906.7 846.3,909.7 848.5,912.7 850.7,915.6 853.0,918.5 855.2,921.4 857.4,924.3 859.6,927.2 861.8,930.0 864.0,932.9 866.2,935.7 868.5,938.5 870.7,941.3 872.9,944.0 875.1,946.8 877.3,949.5 879.5,952.2 881.7,954.9 884.0,957.6 886.2,960.2 888.4,962.9 890.6,965.5 892.8,968.1 895.0,970.7 897.2,973.3 899.5,975.9 901.7,978.4 903.9,981.0 906.1,983.5 908.3,986.0 910.5,988.5 912.7,991.0 915.0,993.5 917.2,995.9 919.4,998.4 921.6,1000.8 923.8,1003.2 926.0,1005.6 928.2,1008.0 930.5,1010.4 932.7,1012.7 934.9,1015.1 937.1,1017.4 939.3,1019.7 941.5,1022.0 943.7,1024.3 946.0,1026.6 948.2,1028.9 950.4,1031.2 952.6,1033.4 954.8,1035.6 957.0,1037.9 959.2,1040.1 961.5,1042.3 963.7,1044.5 965.9,1046.7 968.1,1048.8 970.3,1051.0 972.5,1053.1 974.7,1055.3 977.0,1057.4 979.2,1059.5 981.4,1061.6 983.6,1063.7 985.8,1065.8 988.0,1067.9 990.2,1069.9 992.5,1072.0 994.7,1074.0 996.9,1076.1 999.1,1078.1 1001.3,1080.1 1003.5,1082.1 1005.7,1084.1 1008.0,1086.1 1010.2,1088.1 1012.4,1090.0 1014.6,1092.0 1016.8,1093.9 1019.0,1095.9 1021.2,1097.8 1023.5,1099.7 1025.7,1101.6 1027.9,1103.5 1030.1,1105.4 1032.3,1107.3 1034.5,1109.2 1036.7,1111.1 1039.0,1112.9 1041.2,1114.8 1043.4,1116.6 1045.6,1118.4 1047.8,1120.3 1050.0,1122.1 1052.2,1123.9 1054.5,1125.7 1056.7,1127.5 1058.9,1129.2 1061.1,1131.0 1063.3,1132.8 1065.5,1134.5 1067.7,1136.2 1070.0,1138.0 1072.2,1139.7 1074.4,1141.4 1076.6,1143.1 1078.8,1144.8 1081.0,1146.5 1083.2,1148.1 1085.5,1149.8 1087.7,1151.4 1089.9,1153.1 1092.1,1154.7 1094.3,1156.3 1096.5,1157.9 1098.7,1159.5 1101.0,1161.1 1103.2,1162.7 1105.4,1164.2 1107.6,1165.8 1109.8,1167.3 1112.0,1168.9 1114.2,1170.4 1116.5,1171.9 1118.7,1173.4 1120.9,1174.9 1123.1,1176.4 1125.3,1177.8 1127.5,1179.3 1129.7,1180.7 1132.0,1182.2 1134.2,1183.6 1136.4,1185.0 1138.6,1186.4 1140.8,1187.8 1143.0,1189.2 1145.2,1190.6 1147.5,1192.0 1149.7,1193.3 1151.9,1194.7 1154.1,1196.0 1156.3,1197.3 1158.5,1198.6 1160.7,1199.9 1163.0,1201.2 1165.2,1202.5 1167.4,1203.8 1169.6,1205.0 1171.8,1206.3 1174.0,1207.5 1176.2,1208.7 1178.5,1209.9 1180.7,1211.2 1182.9,1212.3 1185.1,1213.5 1187.3,1214.7 1189.5,1215.9 1191.7,1217.0 1194.0,1218.2 1196.2,1219.3 1198.4,1220.5 1200.6,1221.6 1202.8,1222.7 1205.0,1223.8 1207.2,1224.9 1209.5,1226.0 1211.7,1227.1 1213.9,1228.2 1216.1,1229.2 1218.3,1230.3 1220.5,1231.4 1222.7,1232.4 1225.0,1233.4 1227.2,1234.5 1229.4,1235.5 1231.6,1236.5 1233.8,1237.5 1236.0,1238.5 1238.2,1239.5 1240.5,1240.5 1242.7,1241.5 1244.9,1242.5 1247.1,1243.5 1249.3,1244.4 1251.5,1245.4 1253.7,1246.3 1256.0,1247.3 1258.2,1248.2 1260.4,1249.2 1262.6,1250.1 1264.8,1251.0 1267.0,1252.0 1269.3,1252.9 1271.5,1253.8 1273.7,1254.7 1275.9,1255.6 1278.1,1256.5 1280.3,1257.4 1282.5,1258.3 1284.8,1259.2 1287.0,1260.1 1289.2,1260.9 1291.4,1261.8 1293.6,1262.7 1295.8,1263.5 1298.0,1264.4 1300.3,1265.2 1302.5,1266.1 1304.7,1266.9 1306.9,1267.8 1309.1,1268.6 1311.3,1269.5 1313.5,1270.3 1315.8,1271.1 1318.0,1272.0 1320.2,1272.8 1322.4,1273.6 1324.6,1274.4 1326.8,1275.2 1329.0,1276.0 1331.3,1276.9 1333.5,1277.7 1335.7,1278.5 1337.9,1279.3 1340.1,1280.1 1342.3,1280.9 1344.5,1281.7 1346.8,1282.4 1349.0,1283.2 1351.2,1284.0 1353.4,1284.8 1355.6,1285.6 1357.8,1286.4 1360.0,1287.1 1362.3,1287.9 1364.5,1288.7 1366.7,1289.5 1368.9,1290.2 1371.1,1291.0 1373.3,1291.8 1375.5,1292.5 1377.8,1293.3 1380.0,1294.1 1382.2,1294.8 1384.4,1295.6 1386.6,1296.3 1388.8,1297.1 1391.0,1297.8 1393.3,1298.6 1395.5,1299.3 1397.7,1300.1 1399.9,1300.8 1402.1,1301.6 1404.3,1302.3 1406.5,1303.1 1408.8,1303.8 1411.0,1304.6 1413.2,1305.3 1415.4,1306.0 1417.6,1306.8 1419.8,1307.5 1422.0,1308.2 1424.3,1308.9 1426.5,1309.7 1428.7,1310.4 1430.9,1311.1 1433.1,1311.8 1435.3,1312.6 1437.5,1313.3 1439.8,1314.0 1442.0,1314.7 1444.2,1315.4 1446.4,1316.1 1448.6,1316.8 1450.8,1317.5 1453.0,1318.2 1455.3,1318.9 1457.5,1319.6 1459.7,1320.3 1461.9,1321.0 1464.1,1321.7 1466.3,1322.4 1468.5,1323.1 1470.8,1323.7 1473.0,1324.4 1475.2,1325.1 1477.4,1325.8 1479.6,1326.5 1481.8,1327.1 1484.0,1327.8 1486.3,1328.5 1488.5,1329.1 1490.7,1329.8 1492.9,1330.5 1495.1,1331.1 1497.3,1331.8 1499.5,1332.4 1501.8,1333.1 1504.0,1333.7 1506.2,1334.4 1508.4,1335.0 1510.6,1335.7 1512.8,1336.3 1515.0,1336.9 1517.3,1337.6 1519.5,1338.2 1521.7,1338.8 1523.9,1339.4 1526.1,1340.1 1528.3,1340.7 1530.5,1341.3 1532.8,1341.9 1535.0,1342.5 1537.2,1343.2 1539.4,1343.8 1541.6,1344.4 1543.8,1345.0 1546.0,1345.6 1548.3,1346.2 1550.5,1346.8 1552.7,1347.4 1554.9,1347.9 1557.1,1348.5 1559.3,1349.1 1561.5,1349.7 1563.8,1350.3 1566.0,1350.9 1568.2,1351.4 1570.4,1352.0 1572.6,1352.6 1574.8,1353.1 1577.0,1353.7 1579.3,1354.3 1581.5,1354.8 1583.7,1355.4 1585.9,1355.9 1588.1,1356.5 1590.3,1357.0 1592.5,1357.6 1594.8,1358.1 1597.0,1358.7 1599.2,1359.2 1601.4,1359.8 1603.6,1360.3 1605.8,1360.8 1608.0,1361.3 1610.3,1361.9 1612.5,1362.4 1614.7,1362.9 1616.9,1363.4 1619.1,1363.9 1621.3,1364.5 1623.5,1365.0 1625.8,1365.5 1628.0,1366.0 1630.2,1366.5 1632.4,1367.0 1634.6,1367.5 1636.8,1368.0 1639.0,1368.4 1641.3,1368.9 1643.5,1369.4 1645.7,1369.9 1647.9,1370.4 1650.1,1370.9 1652.3,1371.3 1654.5,1371.8 1656.8,1372.3 1659.0,1372.7 1661.2,1373.2 1663.4,1373.7 1665.6,1374.1 1667.8,1374.6 1670.0,1375.0 1672.3,1375.5 1674.5,1375.9 1676.7,1376.4 1678.9,1376.8 1681.1,1377.2 1683.3,1377.7 1685.5,1378.1 1687.8,1378.5 1690.0,1379.0 1692.2,1379.4 1694.4,1379.8 1696.6,1380.2 1698.8,1380.6 1701.1,1381.1 1703.3,1381.5 1705.5,1381.9 1707.7,1382.3 1709.9,1382.7 1712.1,1383.1 1714.3,1383.5 1716.6,1383.9 1718.8,1384.3 1721.0,1384.7 1723.2,1385.0 1725.4,1385.4 1727.6,1385.8 1729.8,1386.2 1732.1,1386.6 1734.3,1386.9 1736.5,1387.3 1738.7,1387.7 1740.9,1388.0 1743.1,1388.4 1745.3,1388.8 1747.6,1389.1 1749.8,1389.5 1752.0,1389.8 1754.2,1390.2 1756.4,1390.5 1758.6,1390.9 1760.8,1391.2 1763.1,1391.6 1765.3,1391.9 1767.5,1392.3 1769.7,1392.6 1771.9,1392.9 1774.1,1393.3 1776.3,1393.6 1778.6,1394.0 1780.8,1394.3 1783.0,1394.6 1785.2,1395.0 1787.4,1395.3 1789.6,1395.6 1791.8,1396.0 1794.1,1396.3 1796.3,1396.6 1798.5,1397.0 1800.7,1397.3 1802.9,1397.6 1805.1,1398.0 1807.3,1398.3 1809.6,1398.6 1811.8,1399.0 1814.0,1399.3 1816.2,1399.6 1818.4,1400.0 1820.6,1400.3 1822.8,1400.6 1825.1,1400.9 1827.3,1401.3 1829.5,1401.6 1831.7,1401.9 1833.9,1402.3 1836.1,1402.6 1838.3,1402.9 1840.6,1403.3 1842.8,1403.6 1845.0,1404.0 1847.2,1404.3 1849.4,1404.6 1851.6,1405.0 1853.8,1405.3 1856.1,1405.7 1858.3,1406.0 1860.5,1406.3 1862.7,1406.7 1864.9,1407.0 1867.1,1407.4 1869.3,1407.7 1871.6,1408.1 1873.8,1408.4 1876.0,1408.8 1878.2,1409.1 1880.4,1409.5 1882.6,1409.8 1884.8,1410.2 1887.1,1410.5 1889.3,1410.9 1891.5,1411.2 1893.7,1411.6 1895.9,1411.9 1898.1,1412.2 1900.3,1412.6 1902.6,1412.9 1904.8,1413.3 1907.0,1413.6 1909.2,1413.9 1911.4,1414.3 1913.6,1414.6 1915.8,1414.9 1918.1,1415.2 1920.3,1415.6 1922.5,1415.9 1924.7,1416.2 1926.9,1416.5 1929.1,1416.8 1931.3,1417.1 1933.6,1417.5 1935.8,1417.8 1938.0,1418.1 1940.2,1418.4 1942.4,1418.7 1944.6,1419.0 1946.8,1419.3 1949.1,1419.6 1951.3,1419.8 1953.5,1420.1 1955.7,1420.4 1957.9,1420.7 1960.1,1421.0 1962.3,1421.3 1964.6,1421.6 1966.8,1421.8 1969.0,1422.1 1971.2,1422.4 1973.4,1422.7 1975.6,1422.9 1977.8,1423.2 1980.1,1423.5 1982.3,1423.7 1984.5,1424.0 1986.7,1424.3 1988.9,1424.5 1991.1,1424.8 1993.3,1425.0 1995.6,1425.3 1997.8,1425.5 2000.0,1425.8 2002.2,1426.0 2004.4,1426.3 2006.6,1426.5 2008.8,1426.8 2011.1,1427.0 2013.3,1427.3 2015.5,1427.5 2017.7,1427.7 2019.9,1428.0 2022.1,1428.2 2024.3,1428.5 2026.6,1428.7 2028.8,1428.9 2031.0,1429.2 2033.2,1429.4 2035.4,1429.6 2037.6,1429.8 2039.8,1430.1 2042.1,1430.3 2044.3,1430.5 2046.5,1430.7 2048.7,1431.0 2050.9,1431.2 2053.1,1431.4 2055.3,1431.6 2057.6,1431.8 2059.8,1432.1 2062.0,1432.3 2064.2,1432.5 2066.4,1432.7 2068.6,1432.9 2070.8,1433.1 2073.1,1433.3 2075.3,1433.5 2077.5,1433.7 2079.7,1433.9 2081.9,1434.2 2084.1,1434.4 2086.3,1434.6 2088.6,1434.8 2090.8,1435.0 2093.0,1435.2 2095.2,1435.4 2097.4,1435.6 2099.6,1435.8 2101.8,1436.0 2104.1,1436.2 2106.3,1436.4 2108.5,1436.5 2110.7,1436.7 2112.9,1436.9 2115.1,1437.1 2117.3,1437.3 2119.6,1437.5 2121.8,1437.7 2124.0,1437.9 2126.2,1438.1 2128.4,1438.3 2130.6,1438.5 2132.9,1438.6 2135.1,1438.8 2137.3,1439.0 2139.5,1439.2 2141.7,1439.4 2143.9,1439.6 2146.1,1439.8 2148.4,1439.9 2150.6,1440.1 2152.8,1440.3 2155.0,1440.5 2157.2,1440.7 2159.4,1440.8 2161.6,1441.0 2163.9,1441.2 2166.1,1441.4 2168.3,1441.6 2170.5,1441.7 2172.7,1441.9 2174.9,1442.1 2177.1,1442.3 2179.4,1442.4 2181.6,1442.6 2183.8,1442.8 2186.0,1443.0 2188.2,1443.1 2190.4,1443.3 2192.6,1443.5 2194.9,1443.7 2197.1,1443.8 2199.3,1444.0 2201.5,1444.2 2203.7,1444.3 2205.9,1444.5 2208.1,1444.7 2210.4,1444.9 2212.6,1445.0 2214.8,1445.2 2217.0,1445.4 2219.2,1445.5 2221.4,1445.7 2223.6,1445.9 2225.9,1446.1 2228.1,1446.2 2230.3,1446.4 2232.5,1446.6 2234.7,1446.7 2236.9,1446.9 2239.1,1447.1 2241.4,1447.2 2243.6,1447.4 2245.8,1447.6 2248.0,1447.7 2250.2,1447.9 2252.4,1448.1 2254.6,1448.2 2256.9,1448.4 2259.1,1448.6 2261.3,1448.8 2263.5,1448.9 2265.7,1449.1 2267.9,1449.3 2270.1,1449.4 2272.4,1449.6 2274.6,1449.8 2276.8,1449.9 2279.0,1450.1 2281.2,1450.3 2283.4,1450.4 2285.6,1450.6 2287.9,1450.8 2290.1,1450.9 2292.3,1451.1 2294.5,1451.3 2296.7,1451.4 2298.9,1451.6 2301.1,1451.8 2303.4,1451.9 2305.6,1452.1 2307.8,1452.3 2310.0,1452.5 2312.2,1452.6 2314.4,1452.8 2316.6,1453.0 2318.9,1453.1 2321.1,1453.3 2323.3,1453.5 2325.5,1453.6 2327.7,1453.8 2329.9,1454.0 2332.1,1454.2 2334.4,1454.3 2336.6,1454.5 2338.8,1454.7 2341.0,1454.8" fill="none" stroke="#0e2f4c" stroke-width="1.437" stroke-dasharray="5.53 6.08"/>
<polyline points="209.5,54.0 211.6,54.6 213.8,55.4 215.9,56.3 218.0,57.2 220.2,58.3 222.3,59.5 224.4,60.7 226.6,62.1 228.7,63.5 230.8,65.0 232.9,66.6 235.1,68.3 237.2,70.1 239.3,72.0 241.5,74.0 243.6,76.0 245.7,78.1 247.9,80.3 250.0,82.6 252.1,85.0 254.3,87.4 256.4,89.9 258.5,92.5 260.7,95.1 262.8,97.8 264.9,100.6 267.1,103.5 269.2,106.4 271.3,109.3 273.4,112.4 275.6,115.5 277.7,118.6 279.8,121.8 282.0,125.1 284.1,128.4 286.2,131.7 288.4,135.1 290.5,138.6 292.6,142.1 294.8,145.7 296.9,149.3 299.0,152.9 301.2,156.6 303.3,160.3 305.4,164.1 307.5,167.9 309.7,171.7 311.8,175.6 313.9,179.5 316.1,183.4 318.2,187.3 320.3,191.3 322.5,195.3 324.6,199.4 326.7,203.4 328.9,207.5 331.0,211.6 333.1,215.8 335.3,219.9 337.4,224.1 339.5,228.3 341.7,232.5 343.8,236.7 345.9,240.9 348.0,245.1 350.2,249.4 352.3,253.7 354.4,257.9 356.6,262.2 358.7,266.5 360.8,270.7 363.0,275.0 365.1,279.3 367.2,283.6 369.4,287.9 371.5,292.2 373.6,296.5 375.8,300.8 377.9,305.0 380.0,309.3 382.2,313.6 384.3,317.8 386.4,322.1 388.5,326.4 390.7,330.6 392.8,334.8 394.9,339.1 397.1,343.3 399.2,347.5 401.3,351.7 403.5,356.0 405.6,360.2 407.7,364.4 409.9,368.5 412.0,372.7 414.1,376.9 416.3,381.1 418.4,385.2 420.5,389.4 422.6,393.5 424.8,397.6 426.9,401.8 429.0,405.9 431.2,410.0 433.3,414.1 435.4,418.2 437.6,422.3 439.7,426.3 441.8,430.4 444.0,434.4 446.1,438.5 448.2,442.5 450.4,446.5 452.5,450.5 454.6,454.5 456.8,458.5 458.9,462.5 461.0,466.5 463.1,470.4 465.3,474.4 467.4,478.3 469.5,482.2 471.7,486.1 473.8,490.0 475.9,493.9 478.1,497.8 480.2,501.7 482.3,505.5 484.5,509.4 486.6,513.2 488.7,517.0 490.9,520.8 493.0,524.6 495.1,528.4 497.3,532.1 499.4,535.9 501.5,539.6 503.6,543.4 505.8,547.1 507.9,550.8 510.0,554.5 512.2,558.1 514.3,561.8 516.4,565.5 518.6,569.1 520.7,572.7 522.8,576.3 525.0,579.9 527.1,583.5 529.2,587.1 531.4,590.6 533.5,594.2 535.6,597.7 537.8,601.2 539.9,604.7 542.0,608.2 544.1,611.7 546.3,615.1 548.4,618.6 550.5,622.0 552.7,625.4 554.8,628.8 556.9,632.2 559.1,635.6 561.2,638.9 563.3,642.3 565.5,645.6 567.6,648.9 569.7,652.2 571.9,655.5 574.0,658.8 576.1,662.1 578.2,665.3 580.4,668.6 582.5,671.8 584.6,675.0 586.8,678.2 588.9,681.4 591.0,684.6 593.2,687.7 595.3,690.9 597.4,694.0 599.6,697.2 601.7,700.3 603.8,703.4 606.0,706.5 608.1,709.5 610.2,712.6 612.4,715.7 614.5,718.7 616.6,721.7 618.7,724.7 620.9,727.7 623.0,730.7 625.1,733.7 627.3,736.7 629.4,739.6 631.5,742.6 633.7,745.5 635.8,748.4 637.9,751.3 640.1,754.2 642.2,757.1 644.3,760.0 646.5,762.9 648.6,765.7 650.7,768.5 652.9,771.4 655.0,774.2 657.1,777.0 659.2,779.8 661.4,782.6 663.5,785.3 665.6,788.1 667.8,790.9 669.9,793.6 672.0,796.3 674.2,799.0 676.3,801.7 678.4,804.4 680.6,807.1 682.7,809.8 684.8,812.5 687.0,815.1 689.1,817.7 691.2,820.4 693.4,823.0 695.5,825.6 697.6,828.2 699.7,830.8 701.9,833.4 704.0,835.9 706.1,838.5 708.3,841.0 710.4,843.6 712.5,846.1 714.7,848.6 716.8,851.1 718.9,853.6 721.1,856.1 723.2,858.6 725.3,861.0 727.5,863.5 729.6,866.0 731.7,868.4 733.8,870.8 736.0,873.2 738.1,875.6 740.2,878.0 742.4,880.4 744.5,882.8 746.6,885.2 748.8,887.5 750.9,889.9 753.0,892.2 755.2,894.6 757.3,896.9 759.4,899.2 761.6,901.5 763.7,903.8 765.8,906.1 768.0,908.3 770.1,910.6 772.2,912.9 774.3,915.1 776.5,917.3 778.6,919.6 780.7,921.8 782.9,924.0 785.0,926.2 787.1,928.4 789.3,930.6 791.4,932.8 793.5,934.9 795.7,937.1 797.8,939.2 799.9,941.4 802.1,943.5 804.2,945.6 806.3,947.8 808.5,949.9 810.6,952.0 812.7,954.1 814.8,956.1 817.0,958.2 819.1,960.3 821.2,962.3 823.4,964.4 825.5,966.4 827.6,968.5 829.8,970.5 831.9,972.5 834.0,974.5 836.2,976.5 838.3,978.5 840.4,980.5 842.6,982.5 844.7,984.4 846.8,986.4 849.0,988.3 851.1,990.3 853.2,992.2 855.3,994.2 857.5,996.1 859.6,998.0 861.7,999.9 863.9,1001.8 866.0,1003.7 868.1,1005.6 870.3,1007.4 872.4,1009.3 874.5,1011.2 876.7,1013.0 878.8,1014.9 880.9,1016.7 883.1,1018.5 885.2,1020.4 887.3,1022.2 889.4,1024.0 891.6,1025.8 893.7,1027.6 895.8,1029.4 898.0,1031.2 900.1,1032.9 902.2,1034.7 904.4,1036.4 906.5,1038.2 908.6,1039.9 910.8,1041.7 912.9,1043.4 915.0,1045.1 917.2,1046.9 919.3,1048.6 921.4,1050.3 923.6,1052.0 925.7,1053.6 927.8,1055.3 929.9,1057.0 932.1,1058.7 934.2,1060.3 936.3,1062.0 938.5,1063.6 940.6,1065.3 942.7,1066.9 944.9,1068.6 947.0,1070.2 949.1,1071.8 951.3,1073.4 953.4,1075.0 955.5,1076.6 957.7,1078.2 959.8,1079.8 961.9,1081.4 964.1,1082.9 966.2,1084.5 968.3,1086.0 970.4,1087.6 972.6,1089.1 974.7,1090.7 976.8,1092.2 979.0,1093.7 981.1,1095.3 983.2,1096.8 985.4,1098.3 987.5,1099.8 989.6,1101.3 991.8,1102.8 993.9,1104.3 996.0,1105.7 998.2,1107.2 1000.3,1108.7 1002.4,1110.2 1004.5,1111.6 1006.7,1113.1 1008.8,1114.5 1010.9,1115.9 1013.1,1117.4 1015.2,1118.8 1017.3,1120.2 1019.5,1121.6 1021.6,1123.0 1023.7,1124.5 1025.9,1125.8 1028.0,1127.2 1030.1,1128.6 1032.3,1130.0 1034.4,1131.4 1036.5,1132.8 1038.7,1134.1 1040.8,1135.5 1042.9,1136.8 1045.0,1138.2 1047.2,1139.5 1049.3,1140.9 1051.4,1142.2 1053.6,1143.5 1055.7,1144.9 1057.8,1146.2 1060.0,1147.5 1062.1,1148.8 1064.2,1150.1 1066.4,1151.4 1068.5,1152.7 1070.6,1154.0 1072.8,1155.2 1074.9,1156.5 1077.0,1157.8 1079.2,1159.1 1081.3,1160.3 1083.4,1161.6 1085.5,1162.8 1087.7,1164.1 1089.8,1165.3 1091.9,1166.5 1094.1,1167.8 1096.2,1169.0 1098.3,1170.2 1100.5,1171.4 1102.6,1172.6 1104.7,1173.8 1106.9,1175.0 1109.0,1176.2 1111.1,1177.4 1113.3,1178.6 1115.4,1179.8 1117.5,1181.0 1119.7,1182.2 1121.8,1183.3 1123.9,1184.5 1126.0,1185.6 1128.2,1186.8 1130.3,1187.9 1132.4,1189.1 1134.6,1190.2 1136.7,1191.4 1138.8,1192.5 1141.0,1193.6 1143.1,1194.7 1145.2,1195.9 1147.4,1197.0 1149.5,1198.1 1151.6,1199.2 1153.8,1200.3 1155.9,1201.4 1158.0,1202.5 1160.1,1203.6 1162.3,1204.6 1164.4,1205.7 1166.5,1206.8 1168.7,1207.9 1170.8,1208.9 1172.9,1210.0 1175.1,1211.1 1177.2,1212.1 1179.3,1213.2 1181.5,1214.2 1183.6,1215.2 1185.7,1216.3 1187.9,1217.3 1190.0,1218.3 1192.1,1219.4 1194.3,1220.4 1196.4,1221.4 1198.5,1222.4 1200.6,1223.4 1202.8,1224.4 1204.9,1225.4 1207.0,1226.4 1209.2,1227.4 1211.3,1228.4 1213.4,1229.4 1215.6,1230.4 1217.7,1231.3 1219.8,1232.3 1222.0,1233.3 1224.1,1234.3 1226.2,1235.2 1228.4,1236.2 1230.5,1237.1 1232.6,1238.1 1234.8,1239.0 1236.9,1240.0 1239.0,1240.9 1241.1,1241.8 1243.3,1242.8 1245.4,1243.7 1247.5,1244.6 1249.7,1245.6 1251.8,1246.5 1253.9,1247.4 1256.1,1248.3 1258.2,1249.2 1260.3,1250.1 1262.5,1251.0 1264.6,1251.9 1266.7,1252.8 1268.9,1253.7 1271.0,1254.6 1273.1,1255.5 1275.2,1256.4 1277.4,1257.2 1279.5,1258.1 1281.6,1259.0 1283.8,1259.9 1285.9,1260.7 1288.0,1261.6 1290.2,1262.5 1292.3,1263.3 1294.4,1264.2 1296.6,1265.0 1298.7,1265.9 1300.8,1266.7 1303.0,1267.5 1305.1,1268.4 1307.2,1269.2 1309.4,1270.1 1311.5,1270.9 1313.6,1271.7 1315.7,1272.5 1317.9,1273.3 1320.0,1274.2 1322.1,1275.0 1324.3,1275.8 1326.4,1276.6 1328.5,1277.4 1330.7,1278.2 1332.8,1279.0 1334.9,1279.8 1337.1,1280.6 1339.2,1281.4 1341.3,1282.2 1343.5,1283.0 1345.6,1283.7 1347.7,1284.5 1349.9,1285.3 1352.0,1286.1 1354.1,1286.9 1356.2,1287.6 1358.4,1288.4 1360.5,1289.2 1362.6,1289.9 1364.8,1290.7 1366.9,1291.4 1369.0,1292.2 1371.2,1292.9 1373.3,1293.7 1375.4,1294.4 1377.6,1295.2 1379.7,1295.9 1381.8,1296.6 1384.0,1297.4 1386.1,1298.1 1388.2,1298.8 1390.4,1299.6 1392.5,1300.3 1394.6,1301.0 1396.7,1301.7 1398.9,1302.5 1401.0,1303.2 1403.1,1303.9 1405.3,1304.6 1407.4,1305.3 1409.5,1306.0 1411.7,1306.7 1413.8,1307.4 1415.9,1308.1 1418.1,1308.8 1420.2,1309.5 1422.3,1310.2 1424.5,1310.9 1426.6,1311.6 1428.7,1312.3 1430.8,1312.9 1433.0,1313.6 1435.1,1314.3 1437.2,1315.0 1439.4,1315.6 1441.5,1316.3 1443.6,1317.0 1445.8,1317.7 1447.9,1318.3 1450.0,1319.0 1452.2,1319.6 1454.3,1320.3 1456.4,1321.0 1458.6,1321.6 1460.7,1322.3 1462.8,1322.9 1465.0,1323.6 1467.1,1324.2 1469.2,1324.8 1471.3,1325.5 1473.5,1326.1 1475.6,1326.8 1477.7,1327.4 1479.9,1328.0 1482.0,1328.7 1484.1,1329.3 1486.3,1329.9 1488.4,1330.5 1490.5,1331.2 1492.7,1331.8 1494.8,1332.4 1496.9,1333.0 1499.1,1333.6 1501.2,1334.3 1503.3,1334.9 1505.5,1335.5 1507.6,1336.1 1509.7,1336.7 1511.8,1337.3 1514.0,1337.9 1516.1,1338.5 1518.2,1339.1 1520.4,1339.7 1522.5,1340.3 1524.6,1340.9 1526.8,1341.5 1528.9,1342.1 1531.0,1342.6 1533.2,1343.2 1535.3,1343.8 1537.4,1344.4 1539.6,1345.0 1541.7,1345.5 1543.8,1346.1 1546.0,1346.7 1548.1,1347.3 1550.2,1347.8 1552.3,1348.4 1554.5,1349.0 1556.6,1349.5 1558.7,1350.1 1560.9,1350.7 1563.0,1351.2 1565.1,1351.8 1567.3,1352.3 1569.4,1352.9 1571.5,1353.5 1573.7,1354.0 1575.8,1354.6 1577.9,1355.1 1580.1,1355.7 1582.2,1356.2 1584.3,1356.7 1586.4,1357.3 1588.6,1357.8 1590.7,1358.4 1592.8,1358.9 1595.0,1359.4 1597.1,1360.0 1599.2,1360.5 1601.4,1361.0 1603.5,1361.6 1605.6,1362.1 1607.8,1362.6 1609.9,1363.2 1612.0,1363.7 1614.2,1364.2 1616.3,1364.7 1618.4,1365.2 1620.6,1365.8 1622.7,1366.3 1624.8,1366.8 1626.9,1367.3 1629.1,1367.8 1631.2,1368.3 1633.3,1368.8 1635.5,1369.3 1637.6,1369.8 1639.7,1370.3 1641.9,1370.8 1644.0,1371.3 1646.1,1371.8 1648.3,1372.3 1650.4,1372.8 1652.5,1373.3 1654.7,1373.8 1656.8,1374.3 1658.9,1374.8 1661.1,1375.3 1663.2,1375.8 1665.3,1376.3 1667.4,1376.8 1669.6,1377.3 1671.7,1377.7 1673.8,1378.2 1676.0,1378.7 1678.1,1379.2 1680.2,1379.7 1682.4,1380.1 1684.5,1380.6 1686.6,1381.1 1688.8,1381.6 1690.9,1382.0 1693.0,1382.5 1695.2,1383.0 1697.3,1383.4 1699.4,1383.9 1701.5,1384.4 1703.7,1384.8 1705.8,1385.3 1707.9,1385.8 1710.1,1386.2 1712.2,1386.7 1714.3,1387.1 1716.5,1387.6 1718.6,1388.0 1720.7,1388.5 1722.9,1388.9 1725.0,1389.4 1727.1,1389.8 1729.3,1390.3 1731.4,1390.7 1733.5,1391.2 1735.7,1391.6 1737.8,1392.1 1739.9,1392.5 1742.0,1393.0 1744.2,1393.4 1746.3,1393.8 1748.4,1394.3 1750.6,1394.7 1752.7,1395.1 1754.8,1395.6 1757.0,1396.0 1759.1,1396.4 1761.2,1396.9 1763.4,1397.3 1765.5,1397.7 1767.6,1398.1 1769.8,1398.6 1771.9,1399.0 1774.0,1399.4 1776.2,1399.8 1778.3,1400.3 1780.4,1400.7 1782.5,1401.1 1784.7,1401.5 1786.8,1401.9 1788.9,1402.3 1791.1,1402.8 1793.2,1403.2 1795.3,1403.6 1797.5,1404.0 1799.6,1404.4 1801.7,1404.8 1803.9,1405.2 1806.0,1405.6 1808.1,1406.0 1810.3,1406.4 1812.4,1406.8 1814.5,1407.2 1816.7,1407.6 1818.8,1408.0 1820.9,1408.4 1823.0,1408.8 1825.2,1409.2 1827.3,1409.6 1829.4,1410.0 1831.6,1410.4 1833.7,1410.8 1835.8,1411.2 1838.0,1411.6 1840.1,1412.0 1842.2,1412.3 1844.4,1412.7 1846.5,1413.1 1848.6,1413.5 1850.8,1413.9 1852.9,1414.3 1855.0,1414.6 1857.1,1415.0 1859.3,1415.4 1861.4,1415.8 1863.5,1416.2 1865.7,1416.5 1867.8,1416.9 1869.9,1417.3 1872.1,1417.7 1874.2,1418.0 1876.3,1418.4 1878.5,1418.8 1880.6,1419.1 1882.7,1419.5 1884.9,1419.9 1887.0,1420.2 1889.1,1420.6 1891.3,1421.0 1893.4,1421.3 1895.5,1421.7 1897.6,1422.0 1899.8,1422.4 1901.9,1422.8 1904.0,1423.1 1906.2,1423.5 1908.3,1423.8 1910.4,1424.2 1912.6,1424.5 1914.7,1424.9 1916.8,1425.2 1919.0,1425.6 1921.1,1425.9 1923.2,1426.3 1925.4,1426.6 1927.5,1427.0 1929.6,1427.3 1931.8,1427.7 1933.9,1428.0 1936.0,1428.4 1938.1,1428.7 1940.3,1429.0 1942.4,1429.4 1944.5,1429.7 1946.7,1430.1 1948.8,1430.4 1950.9,1430.7 1953.1,1431.1 1955.2,1431.4 1957.3,1431.7 1959.5,1432.1 1961.6,1432.4 1963.7,1432.7 1965.9,1433.1 1968.0,1433.4 1970.1,1433.7 1972.3,1434.0 1974.4,1434.4 1976.5,1434.7 1978.6,1435.0 1980.8,1435.3 1982.9,1435.7 1985.0,1436.0 1987.2,1436.3 1989.3,1436.6 1991.4,1437.0 1993.6,1437.3 1995.7,1437.6 1997.8,1437.9 2000.0,1438.2 2002.1,1438.5 2004.2,1438.8 2006.4,1439.2 2008.5,1439.5 2010.6,1439.8 2012.7,1440.1 2014.9,1440.4 2017.0,1440.7 2019.1,1441.0 2021.3,1441.3 2023.4,1441.6 2025.5,1441.9 2027.7,1442.3 2029.8,1442.6 2031.9,1442.9 2034.1,1443.2 2036.2,1443.5 2038.3,1443.8 2040.5,1444.1 2042.6,1444.4 2044.7,1444.7 2046.9,1445.0 2049.0,1445.3 2051.1,1445.6 2053.2,1445.8 2055.4,1446.1 2057.5,1446.4 2059.6,1446.7 2061.8,1447.0 2063.9,1447.3 2066.0,1447.6 2068.2,1447.9 2070.3,1448.2 2072.4,1448.5 2074.6,1448.8 2076.7,1449.0 2078.8,1449.3 2081.0,1449.6 2083.1,1449.9 2085.2,1450.2 2087.4,1450.5 2089.5,1450.7 2091.6,1451.0 2093.7,1451.3 2095.9,1451.6 2098.0,1451.9 2100.1,1452.1 2102.3,1452.4 2104.4,1452.7 2106.5,1453.0 2108.7,1453.2 2110.8,1453.5 2112.9,1453.8 2115.1,1454.1 2117.2,1454.3 2119.3,1454.6 2121.5,1454.9 2123.6,1455.2 2125.7,1455.4 2127.9,1455.7 2130.0,1456.0 2132.1,1456.2 2134.2,1456.5 2136.4,1456.8 2138.5,1457.0 2140.6,1457.3 2142.8,1457.6 2144.9,1457.8 2147.0,1458.1 2149.2,1458.3 2151.3,1458.6 2153.4,1458.9 2155.6,1459.1 2157.7,1459.4 2159.8,1459.6 2162.0,1459.9 2164.1,1460.2 2166.2,1460.4 2168.3,1460.7 2170.5,1460.9 2172.6,1461.2 2174.7,1461.4 2176.9,1461.7 2179.0,1461.9 2181.1,1462.2 2183.3,1462.4 2185.4,1462.7 2187.5,1462.9 2189.7,1463.2 2191.8,1463.4 2193.9,1463.7 2196.1,1463.9 2198.2,1464.2 2200.3,1464.4 2202.5,1464.7 2204.6,1464.9 2206.7,1465.1 2208.8,1465.4 2211.0,1465.6 2213.1,1465.9 2215.2,1466.1 2217.4,1466.3 2219.5,1466.6 2221.6,1466.8 2223.8,1467.1 2225.9,1467.3 2228.0,1467.5 2230.2,1467.8 2232.3,1468.0 2234.4,1468.2 2236.6,1468.5 2238.7,1468.7 2240.8,1468.9 2243.0,1469.2 2245.1,1469.4 2247.2,1469.6 2249.3,1469.9 2251.5,1470.1 2253.6,1470.3 2255.7,1470.6 2257.9,1470.8 2260.0,1471.0 2262.1,1471.2 2264.3,1471.5 2266.4,1471.7 2268.5,1471.9 2270.7,1472.1 2272.8,1472.4 2274.9,1472.6 2277.1,1472.8 2279.2,1473.0 2281.3,1473.3 2283.4,1473.5 2285.6,1473.7 2287.7,1473.9 2289.8,1474.1 2292.0,1474.4 2294.1,1474.6 2296.2,1474.8 2298.4,1475.0 2300.5,1475.2 2302.6,1475.4 2304.8,1475.6 2306.9,1475.9 2309.0,1476.1 2311.2,1476.3 2313.3,1476.5 2315.4,1476.7 2317.6,1476.9 2319.7,1477.1 2321.8,1477.3 2323.9,1477.6 2326.1,1477.8 2328.2,1478.0 2330.3,1478.2 2332.5,1478.4 2334.6,1478.6 2336.7,1478.8 2338.9,1479.0 2341.0,1479.2" fill="none" stroke="#c0157a" stroke-width="1.437" stroke-dasharray="7.74 1.66 2.76 1.66"/>
<polyline points="209.5,56.0 211.6,56.0 213.8,56.1 215.9,56.3 218.0,56.5 220.2,56.8 222.3,57.1 224.4,57.5 226.6,57.9 228.7,58.4 230.8,59.0 232.9,59.6 235.1,60.3 237.2,61.0 239.3,61.8 241.5,62.7 243.6,63.5 245.7,64.5 247.9,65.5 250.0,66.5 252.1,67.6 254.3,68.8 256.4,70.0 258.5,71.2 260.7,72.5 262.8,73.8 264.9,75.2 267.1,76.7 269.2,78.1 271.3,79.7 273.4,81.2 275.6,82.9 277.7,84.5 279.8,86.2 282.0,88.0 284.1,89.7 286.2,91.6 288.4,93.4 290.5,95.3 292.6,97.3 294.8,99.3 296.9,101.3 299.0,103.4 301.2,105.5 303.3,107.6 305.4,109.8 307.5,112.0 309.7,114.2 311.8,116.5 313.9,118.8 316.1,121.2 318.2,123.6 320.3,126.0 322.5,128.4 324.6,130.9 326.7,133.4 328.9,136.0 331.0,138.6 333.1,141.2 335.3,143.8 337.4,146.5 339.5,149.1 341.7,151.9 343.8,154.6 345.9,157.4 348.0,160.2 350.2,163.0 352.3,165.9 354.4,168.7 356.6,171.7 358.7,174.6 360.8,177.5 363.0,180.5 365.1,183.5 367.2,186.5 369.4,189.6 371.5,192.6 373.6,195.7 375.8,198.8 377.9,202.0 380.0,205.1 382.2,208.3 384.3,211.5 386.4,214.7 388.5,217.9 390.7,221.1 392.8,224.4 394.9,227.7 397.1,231.0 399.2,234.3 401.3,237.6 403.5,241.0 405.6,244.3 407.7,247.7 409.9,251.1 412.0,254.5 414.1,257.9 416.3,261.3 418.4,264.8 420.5,268.2 422.6,271.7 424.8,275.2 426.9,278.7 429.0,282.2 431.2,285.7 433.3,289.2 435.4,292.8 437.6,296.3 439.7,299.9 441.8,303.5 444.0,307.0 446.1,310.6 448.2,314.2 450.4,317.8 452.5,321.4 454.6,325.0 456.8,328.7 458.9,332.3 461.0,335.9 463.1,339.6 465.3,343.2 467.4,346.9 469.5,350.6 471.7,354.2 473.8,357.9 475.9,361.6 478.1,365.3 480.2,369.0 482.3,372.6 484.5,376.3 486.6,380.0 488.7,383.7 490.9,387.5 493.0,391.2 495.1,394.9 497.3,398.6 499.4,402.3 501.5,406.0 503.6,409.7 505.8,413.5 507.9,417.2 510.0,420.9 512.2,424.6 514.3,428.3 516.4,432.1 518.6,435.8 520.7,439.5 522.8,443.2 525.0,447.0 527.1,450.7 529.2,454.4 531.4,458.1 533.5,461.8 535.6,465.6 537.8,469.3 539.9,473.0 542.0,476.7 544.1,480.4 546.3,484.1 548.4,487.8 550.5,491.5 552.7,495.2 554.8,498.9 556.9,502.6 559.1,506.3 561.2,510.0 563.3,513.7 565.5,517.3 567.6,521.0 569.7,524.7 571.9,528.4 574.0,532.0 576.1,535.7 578.2,539.3 580.4,543.0 582.5,546.6 584.6,550.2 586.8,553.9 588.9,557.5 591.0,561.1 593.2,564.7 595.3,568.3 597.4,571.9 599.6,575.5 601.7,579.1 603.8,582.7 606.0,586.3 608.1,589.9 610.2,593.4 612.4,597.0 614.5,600.5 616.6,604.1 618.7,607.6 620.9,611.1 623.0,614.6 625.1,618.2 627.3,621.7 629.4,625.2 631.5,628.7 633.7,632.1 635.8,635.6 637.9,639.1 640.1,642.5 642.2,646.0 644.3,649.4 646.5,652.9 648.6,656.3 650.7,659.7 652.9,663.1 655.0,666.5 657.1,669.9 659.2,673.3 661.4,676.7 663.5,680.1 665.6,683.4 667.8,686.8 669.9,690.1 672.0,693.4 674.2,696.7 676.3,700.1 678.4,703.4 680.6,706.7 682.7,709.9 684.8,713.2 687.0,716.5 689.1,719.7 691.2,723.0 693.4,726.2 695.5,729.5 697.6,732.7 699.7,735.9 701.9,739.1 704.0,742.3 706.1,745.4 708.3,748.6 710.4,751.8 712.5,754.9 714.7,758.1 716.8,761.2 718.9,764.3 721.1,767.4 723.2,770.5 725.3,773.6 727.5,776.7 729.6,779.8 731.7,782.8 733.8,785.9 736.0,788.9 738.1,791.9 740.2,795.0 742.4,798.0 744.5,801.0 746.6,803.9 748.8,806.9 750.9,809.9 753.0,812.8 755.2,815.8 757.3,818.7 759.4,821.7 761.6,824.6 763.7,827.5 765.8,830.4 768.0,833.3 770.1,836.1 772.2,839.0 774.3,841.8 776.5,844.7 778.6,847.5 780.7,850.3 782.9,853.1 785.0,855.9 787.1,858.7 789.3,861.5 791.4,864.3 793.5,867.0 795.7,869.8 797.8,872.5 799.9,875.2 802.1,878.0 804.2,880.7 806.3,883.4 808.5,886.0 810.6,888.7 812.7,891.4 814.8,894.0 817.0,896.7 819.1,899.3 821.2,901.9 823.4,904.5 825.5,907.1 827.6,909.7 829.8,912.3 831.9,914.9 834.0,917.4 836.2,920.0 838.3,922.5 840.4,925.1 842.6,927.6 844.7,930.1 846.8,932.6 849.0,935.1 851.1,937.5 853.2,940.0 855.3,942.5 857.5,944.9 859.6,947.4 861.7,949.8 863.9,952.2 866.0,954.6 868.1,957.0 870.3,959.4 872.4,961.8 874.5,964.1 876.7,966.5 878.8,968.8 880.9,971.2 883.1,973.5 885.2,975.8 887.3,978.1 889.4,980.4 891.6,982.7 893.7,985.0 895.8,987.2 898.0,989.5 900.1,991.7 902.2,994.0 904.4,996.2 906.5,998.4 908.6,1000.6 910.8,1002.8 912.9,1005.0 915.0,1007.2 917.2,1009.4 919.3,1011.5 921.4,1013.7 923.6,1015.8 925.7,1017.9 927.8,1020.1 929.9,1022.2 932.1,1024.3 934.2,1026.4 936.3,1028.4 938.5,1030.5 940.6,1032.6 942.7,1034.6 944.9,1036.7 947.0,1038.7 949.1,1040.8 951.3,1042.8 953.4,1044.8 955.5,1046.8 957.7,1048.8 959.8,1050.8 961.9,1052.7 964.1,1054.7 966.2,1056.7 968.3,1058.6 970.4,1060.5 972.6,1062.5 974.7,1064.4 976.8,1066.3 979.0,1068.2 981.1,1070.1 983.2,1072.0 985.4,1073.9 987.5,1075.7 989.6,1077.6 991.8,1079.4 993.9,1081.3 996.0,1083.1 998.2,1084.9 1000.3,1086.7 1002.4,1088.5 1004.5,1090.3 1006.7,1092.1 1008.8,1093.9 1010.9,1095.7 1013.1,1097.5 1015.2,1099.2 1017.3,1101.0 1019.5,1102.7 1021.6,1104.4 1023.7,1106.2 1025.9,1107.9 1028.0,1109.6 1030.1,1111.3 1032.3,1113.0 1034.4,1114.7 1036.5,1116.3 1038.7,1118.0 1040.8,1119.7 1042.9,1121.3 1045.0,1123.0 1047.2,1124.6 1049.3,1126.2 1051.4,1127.9 1053.6,1129.5 1055.7,1131.1 1057.8,1132.7 1060.0,1134.3 1062.1,1135.8 1064.2,1137.4 1066.4,1139.0 1068.5,1140.5 1070.6,1142.1 1072.8,1143.6 1074.9,1145.2 1077.0,1146.7 1079.2,1148.2 1081.3,1149.8 1083.4,1151.3 1085.5,1152.8 1087.7,1154.3 1089.8,1155.7 1091.9,1157.2 1094.1,1158.7 1096.2,1160.2 1098.3,1161.6 1100.5,1163.1 1102.6,1164.5 1104.7,1166.0 1106.9,1167.4 1109.0,1168.8 1111.1,1170.2 1113.3,1171.6 1115.4,1173.0 1117.5,1174.4 1119.7,1175.8 1121.8,1177.2 1123.9,1178.6 1126.0,1179.9 1128.2,1181.3 1130.3,1182.7 1132.4,1184.0 1134.6,1185.4 1136.7,1186.7 1138.8,1188.0 1141.0,1189.3 1143.1,1190.7 1145.2,1192.0 1147.4,1193.3 1149.5,1194.6 1151.6,1195.9 1153.8,1197.1 1155.9,1198.4 1158.0,1199.7 1160.1,1201.0 1162.3,1202.2 1164.4,1203.5 1166.5,1204.7 1168.7,1206.0 1170.8,1207.2 1172.9,1208.4 1175.1,1209.6 1177.2,1210.9 1179.3,1212.1 1181.5,1213.3 1183.6,1214.5 1185.7,1215.7 1187.9,1216.9 1190.0,1218.0 1192.1,1219.2 1194.3,1220.4 1196.4,1221.6 1198.5,1222.7 1200.6,1223.9 1202.8,1225.0 1204.9,1226.2 1207.0,1227.3 1209.2,1228.4 1211.3,1229.5 1213.4,1230.7 1215.6,1231.8 1217.7,1232.9 1219.8,1234.0 1222.0,1235.1 1224.1,1236.2 1226.2,1237.3 1228.4,1238.3 1230.5,1239.4 1232.6,1240.5 1234.8,1241.6 1236.9,1242.6 1239.0,1243.7 1241.1,1244.7 1243.3,1245.8 1245.4,1246.8 1247.5,1247.8 1249.7,1248.9 1251.8,1249.9 1253.9,1250.9 1256.1,1251.9 1258.2,1252.9 1260.3,1253.9 1262.5,1254.9 1264.6,1255.9 1266.7,1256.9 1268.9,1257.9 1271.0,1258.9 1273.1,1259.8 1275.2,1260.8 1277.4,1261.8 1279.5,1262.7 1281.6,1263.7 1283.8,1264.6 1285.9,1265.6 1288.0,1266.5 1290.2,1267.5 1292.3,1268.4 1294.4,1269.3 1296.6,1270.2 1298.7,1271.2 1300.8,1272.1 1303.0,1273.0 1305.1,1273.9 1307.2,1274.8 1309.4,1275.7 1311.5,1276.6 1313.6,1277.5 1315.7,1278.3 1317.9,1279.2 1320.0,1280.1 1322.1,1281.0 1324.3,1281.8 1326.4,1282.7 1328.5,1283.5 1330.7,1284.4 1332.8,1285.2 1334.9,1286.1 1337.1,1286.9 1339.2,1287.8 1341.3,1288.6 1343.5,1289.4 1345.6,1290.2 1347.7,1291.1 1349.9,1291.9 1352.0,1292.7 1354.1,1293.5 1356.2,1294.3 1358.4,1295.1 1360.5,1295.9 1362.6,1296.7 1364.8,1297.5 1366.9,1298.3 1369.0,1299.0 1371.2,1299.8 1373.3,1300.6 1375.4,1301.3 1377.6,1302.1 1379.7,1302.9 1381.8,1303.6 1384.0,1304.4 1386.1,1305.1 1388.2,1305.9 1390.4,1306.6 1392.5,1307.4 1394.6,1308.1 1396.7,1308.8 1398.9,1309.5 1401.0,1310.3 1403.1,1311.0 1405.3,1311.7 1407.4,1312.4 1409.5,1313.1 1411.7,1313.8 1413.8,1314.5 1415.9,1315.2 1418.1,1315.9 1420.2,1316.6 1422.3,1317.3 1424.5,1318.0 1426.6,1318.7 1428.7,1319.4 1430.8,1320.0 1433.0,1320.7 1435.1,1321.4 1437.2,1322.0 1439.4,1322.7 1441.5,1323.4 1443.6,1324.0 1445.8,1324.7 1447.9,1325.3 1450.0,1326.0 1452.2,1326.6 1454.3,1327.2 1456.4,1327.9 1458.6,1328.5 1460.7,1329.1 1462.8,1329.8 1465.0,1330.4 1467.1,1331.0 1469.2,1331.6 1471.3,1332.3 1473.5,1332.9 1475.6,1333.5 1477.7,1334.1 1479.9,1334.7 1482.0,1335.3 1484.1,1335.9 1486.3,1336.5 1488.4,1337.1 1490.5,1337.7 1492.7,1338.2 1494.8,1338.8 1496.9,1339.4 1499.1,1340.0 1501.2,1340.6 1503.3,1341.1 1505.5,1341.7 1507.6,1342.3 1509.7,1342.8 1511.8,1343.4 1514.0,1343.9 1516.1,1344.5 1518.2,1345.0 1520.4,1345.6 1522.5,1346.1 1524.6,1346.7 1526.8,1347.2 1528.9,1347.8 1531.0,1348.3 1533.2,1348.8 1535.3,1349.4 1537.4,1349.9 1539.6,1350.4 1541.7,1351.0 1543.8,1351.5 1546.0,1352.0 1548.1,1352.5 1550.2,1353.0 1552.3,1353.5 1554.5,1354.0 1556.6,1354.5 1558.7,1355.0 1560.9,1355.5 1563.0,1356.0 1565.1,1356.5 1567.3,1357.0 1569.4,1357.5 1571.5,1358.0 1573.7,1358.5 1575.8,1359.0 1577.9,1359.5 1580.1,1360.0 1582.2,1360.4 1584.3,1360.9 1586.4,1361.4 1588.6,1361.9 1590.7,1362.3 1592.8,1362.8 1595.0,1363.2 1597.1,1363.7 1599.2,1364.2 1601.4,1364.6 1603.5,1365.1 1605.6,1365.5 1607.8,1366.0 1609.9,1366.4 1612.0,1366.9 1614.2,1367.3 1616.3,1367.8 1618.4,1368.2 1620.6,1368.6 1622.7,1369.1 1624.8,1369.5 1626.9,1369.9 1629.1,1370.4 1631.2,1370.8 1633.3,1371.2 1635.5,1371.7 1637.6,1372.1 1639.7,1372.5 1641.9,1372.9 1644.0,1373.3 1646.1,1373.7 1648.3,1374.2 1650.4,1374.6 1652.5,1375.0 1654.7,1375.4 1656.8,1375.8 1658.9,1376.2 1661.1,1376.6 1663.2,1377.0 1665.3,1377.4 1667.4,1377.8 1669.6,1378.2 1671.7,1378.6 1673.8,1378.9 1676.0,1379.3 1678.1,1379.7 1680.2,1380.1 1682.4,1380.5 1684.5,1380.9 1686.6,1381.2 1688.8,1381.6 1690.9,1382.0 1693.0,1382.4 1695.2,1382.7 1697.3,1383.1 1699.4,1383.5 1701.5,1383.8 1703.7,1384.2 1705.8,1384.6 1707.9,1384.9 1710.1,1385.3 1712.2,1385.6 1714.3,1386.0 1716.5,1386.3 1718.6,1386.7 1720.7,1387.0 1722.9,1387.4 1725.0,1387.7 1727.1,1388.1 1729.3,1388.4 1731.4,1388.8 1733.5,1389.1 1735.7,1389.5 1737.8,1389.8 1739.9,1390.1 1742.0,1390.5 1744.2,1390.8 1746.3,1391.1 1748.4,1391.5 1750.6,1391.8 1752.7,1392.1 1754.8,1392.4 1757.0,1392.8 1759.1,1393.1 1761.2,1393.4 1763.4,1393.7 1765.5,1394.0 1767.6,1394.4 1769.8,1394.7 1771.9,1395.0 1774.0,1395.3 1776.2,1395.6 1778.3,1395.9 1780.4,1396.2 1782.5,1396.5 1784.7,1396.8 1786.8,1397.1 1788.9,1397.4 1791.1,1397.7 1793.2,1398.0 1795.3,1398.3 1797.5,1398.6 1799.6,1398.9 1801.7,1399.2 1803.9,1399.5 1806.0,1399.8 1808.1,1400.1 1810.3,1400.4 1812.4,1400.7 1814.5,1401.0 1816.7,1401.2 1818.8,1401.5 1820.9,1401.8 1823.0,1402.1 1825.2,1402.4 1827.3,1402.6 1829.4,1402.9 1831.6,1403.2 1833.7,1403.5 1835.8,1403.7 1838.0,1404.0 1840.1,1404.3 1842.2,1404.6 1844.4,1404.8 1846.5,1405.1 1848.6,1405.4 1850.8,1405.6 1852.9,1405.9 1855.0,1406.1 1857.1,1406.4 1859.3,1406.7 1861.4,1406.9 1863.5,1407.2 1865.7,1407.4 1867.8,1407.7 1869.9,1407.9 1872.1,1408.2 1874.2,1408.4 1876.3,1408.7 1878.5,1408.9 1880.6,1409.2 1882.7,1409.4 1884.9,1409.7 1887.0,1409.9 1889.1,1410.2 1891.3,1410.4 1893.4,1410.7 1895.5,1410.9 1897.6,1411.1 1899.8,1411.4 1901.9,1411.6 1904.0,1411.8 1906.2,1412.1 1908.3,1412.3 1910.4,1412.5 1912.6,1412.8 1914.7,1413.0 1916.8,1413.2 1919.0,1413.5 1921.1,1413.7 1923.2,1413.9 1925.4,1414.1 1927.5,1414.4 1929.6,1414.6 1931.8,1414.8 1933.9,1415.0 1936.0,1415.3 1938.1,1415.5 1940.3,1415.7 1942.4,1415.9 1944.5,1416.1 1946.7,1416.4 1948.8,1416.6 1950.9,1416.8 1953.1,1417.0 1955.2,1417.2 1957.3,1417.4 1959.5,1417.6 1961.6,1417.8 1963.7,1418.0 1965.9,1418.2 1968.0,1418.5 1970.1,1418.7 1972.3,1418.9 1974.4,1419.1 1976.5,1419.3 1978.6,1419.5 1980.8,1419.7 1982.9,1419.9 1985.0,1420.1 1987.2,1420.3 1989.3,1420.5 1991.4,1420.7 1993.6,1420.9 1995.7,1421.1 1997.8,1421.3 2000.0,1421.4 2002.1,1421.6 2004.2,1421.8 2006.4,1422.0 2008.5,1422.2 2010.6,1422.4 2012.7,1422.6 2014.9,1422.8 2017.0,1423.0 2019.1,1423.1 2021.3,1423.3 2023.4,1423.5 2025.5,1423.7 2027.7,1423.9 2029.8,1424.1 2031.9,1424.2 2034.1,1424.4 2036.2,1424.6 2038.3,1424.8 2040.5,1425.0 2042.6,1425.1 2044.7,1425.3 2046.9,1425.5 2049.0,1425.7 2051.1,1425.8 2053.2,1426.0 2055.4,1426.2 2057.5,1426.4 2059.6,1426.5 2061.8,1426.7 2063.9,1426.9 2066.0,1427.0 2068.2,1427.2 2070.3,1427.4 2072.4,1427.5 2074.6,1427.7 2076.7,1427.9 2078.8,1428.0 2081.0,1428.2 2083.1,1428.4 2085.2,1428.5 2087.4,1428.7 2089.5,1428.8 2091.6,1429.0 2093.7,1429.2 2095.9,1429.3 2098.0,1429.5 2100.1,1429.6 2102.3,1429.8 2104.4,1429.9 2106.5,1430.1 2108.7,1430.3 2110.8,1430.4 2112.9,1430.6 2115.1,1430.7 2117.2,1430.9 2119.3,1431.0 2121.5,1431.2 2123.6,1431.3 2125.7,1431.5 2127.9,1431.6 2130.0,1431.8 2132.1,1431.9 2134.2,1432.1 2136.4,1432.2 2138.5,1432.4 2140.6,1432.5 2142.8,1432.6 2144.9,1432.8 2147.0,1432.9 2149.2,1433.1 2151.3,1433.2 2153.4,1433.4 2155.6,1433.5 2157.7,1433.6 2159.8,1433.8 2162.0,1433.9 2164.1,1434.1 2166.2,1434.2 2168.3,1434.3 2170.5,1434.5 2172.6,1434.6 2174.7,1434.7 2176.9,1434.9 2179.0,1435.0 2181.1,1435.1 2183.3,1435.3 2185.4,1435.4 2187.5,1435.5 2189.7,1435.7 2191.8,1435.8 2193.9,1435.9 2196.1,1436.1 2198.2,1436.2 2200.3,1436.3 2202.5,1436.5 2204.6,1436.6 2206.7,1436.7 2208.8,1436.8 2211.0,1437.0 2213.1,1437.1 2215.2,1437.2 2217.4,1437.3 2219.5,1437.5 2221.6,1437.6 2223.8,1437.7 2225.9,1437.8 2228.0,1438.0 2230.2,1438.1 2232.3,1438.2 2234.4,1438.3 2236.6,1438.4 2238.7,1438.6 2240.8,1438.7 2243.0,1438.8 2245.1,1438.9 2247.2,1439.0 2249.3,1439.2 2251.5,1439.3 2253.6,1439.4 2255.7,1439.5 2257.9,1439.6 2260.0,1439.7 2262.1,1439.9 2264.3,1440.0 2266.4,1440.1 2268.5,1440.2 2270.7,1440.3 2272.8,1440.4 2274.9,1440.5 2277.1,1440.6 2279.2,1440.7 2281.3,1440.9 2283.4,1441.0 2285.6,1441.1 2287.7,1441.2 2289.8,1441.3 2292.0,1441.4 2294.1,1441.5 2296.2,1441.6 2298.4,1441.7 2300.5,1441.8 2302.6,1441.9 2304.8,1442.0 2306.9,1442.2 2309.0,1442.3 2311.2,1442.4 2313.3,1442.5 2315.4,1442.6 2317.6,1442.7 2319.7,1442.8 2321.8,1442.9 2323.9,1443.0 2326.1,1443.1 2328.2,1443.2 2330.3,1443.3 2332.5,1443.4 2334.6,1443.5 2336.7,1443.6 2338.9,1443.7 2341.0,1443.8" fill="none" stroke="#1e7cf2" stroke-width="1.768" stroke-dasharray="1.77 2.32"/>
</g>
<polygon points="1050.8,660.1 1077.3,644.6 1077.3,675.6" fill="none" stroke="#ff6347" stroke-width="2.4" stroke-linejoin="miter"/>
<polygon points="1281.9,770.4 1308.4,754.9 1308.4,785.9" fill="none" stroke="#ff6347" stroke-width="2.4" stroke-linejoin="miter"/>
<polygon points="1513.9,861.0 1540.4,845.5 1540.4,876.5" fill="none" stroke="#ff6347" stroke-width="2.4" stroke-linejoin="miter"/>
<polygon points="1821.6,934.3 1848.1,918.8 1848.1,949.8" fill="none" stroke="#ff6347" stroke-width="2.4" stroke-linejoin="miter"/>
<polygon points="2131.1,990.6 2157.6,975.1 2157.6,1006.1" fill="none" stroke="#ff6347" stroke-width="2.4" stroke-linejoin="miter"/>
<polygon points="1127.1,659.7 1156.1,643.2 1156.1,676.2" fill="#ff6347"/>
<polygon points="1357.5,770.1 1386.5,753.6 1386.5,786.6" fill="#ff6347"/>
<polygon points="1588.2,861.5 1617.2,845.0 1617.2,878.0" fill="#ff6347"/>
<polygon points="1897.6,933.2 1926.6,916.7 1926.6,949.7" fill="#ff6347"/>
<polygon points="2205.4,994.4 2234.4,977.9 2234.4,1010.9" fill="#ff6347"/>
</g>
<rect x="1026.3" y="624.0" width="1263.8" height="398.79999999999995" fill="none" stroke="#111" stroke-width="3.5"/>
<path d="M209.5,1552.0V1518.0M209.5,56.0V90.0M316.1,1552.0V1534.0M316.1,56.0V74.0M422.6,1552.0V1518.0M422.6,56.0V90.0M529.2,1552.0V1534.0M529.2,56.0V74.0M635.8,1552.0V1518.0M635.8,56.0V90.0M742.4,1552.0V1534.0M742.4,56.0V74.0M849.0,1552.0V1518.0M849.0,56.0V90.0M955.5,1552.0V1534.0M955.5,56.0V74.0M1062.1,1552.0V1518.0M1062.1,56.0V90.0M1168.7,1552.0V1534.0M1168.7,56.0V74.0M1275.2,1552.0V1518.0M1275.2,56.0V90.0M1381.8,1552.0V1534.0M1381.8,56.0V74.0M1488.4,1552.0V1518.0M1488.4,56.0V90.0M1595.0,1552.0V1534.0M1595.0,56.0V74.0M1701.5,1552.0V1518.0M1701.5,56.0V90.0M1808.1,1552.0V1534.0M1808.1,56.0V74.0M1914.7,1552.0V1518.0M1914.7,56.0V90.0M2021.3,1552.0V1534.0M2021.3,56.0V74.0M2127.9,1552.0V1518.0M2127.9,56.0V90.0M2234.4,1552.0V1534.0M2234.4,56.0V74.0M2338.0,1552.0V1518.0M2338.0,56.0V90.0M209.5,1552.0H243.5M2341.5,1552.0H2307.5M209.5,1402.4H227.5M2341.5,1402.4H2323.5M209.5,1252.8H243.5M2341.5,1252.8H2307.5M209.5,1103.2H227.5M2341.5,1103.2H2323.5M209.5,953.6H243.5M2341.5,953.6H2307.5M209.5,804.0H227.5M2341.5,804.0H2323.5M209.5,654.4H243.5M2341.5,654.4H2307.5M209.5,504.8H227.5M2341.5,504.8H2323.5M209.5,355.2H243.5M2341.5,355.2H2307.5M209.5,205.6H227.5M2341.5,205.6H2323.5M209.5,56.0H243.5M2341.5,56.0H2307.5" stroke="#262626" stroke-width="4" fill="none"/>
<rect x="209.5" y="56.0" width="2132.0" height="1496.0" fill="none" stroke="#262626" stroke-width="4"/>
<text transform="translate(209.5,1633) scale(0.965,1.02)" font-size="68.5" text-anchor="middle" fill="#2b2b2b">1.0</text>
<text transform="translate(422.6,1633) scale(0.965,1.02)" font-size="68.5" text-anchor="middle" fill="#2b2b2b">1.5</text>
<text transform="translate(635.8,1633) scale(0.965,1.02)" font-size="68.5" text-anchor="middle" fill="#2b2b2b">2.0</text>
<text transform="translate(849.0,1633) scale(0.965,1.02)" font-size="68.5" text-anchor="middle" fill="#2b2b2b">2.5</text>
<text transform="translate(1062.1,1633) scale(0.965,1.02)" font-size="68.5" text-anchor="middle" fill="#2b2b2b">3.0</text>
<text transform="translate(1275.2,1633) scale(0.965,1.02)" font-size="68.5" text-anchor="middle" fill="#2b2b2b">3.5</text>
<text transform="translate(1488.4,1633) scale(0.965,1.02)" font-size="68.5" text-anchor="middle" fill="#2b2b2b">4.0</text>
<text transform="translate(1701.5,1633) scale(0.965,1.02)" font-size="68.5" text-anchor="middle" fill="#2b2b2b">4.5</text>
<text transform="translate(1914.7,1633) scale(0.965,1.02)" font-size="68.5" text-anchor="middle" fill="#2b2b2b">5.0</text>
<text transform="translate(2127.9,1633) scale(0.965,1.02)" font-size="68.5" text-anchor="middle" fill="#2b2b2b">5.5</text>
<text transform="translate(2341.0,1633) scale(0.965,1.02)" font-size="68.5" text-anchor="middle" fill="#2b2b2b">6.0</text>
<text transform="translate(189,1576.5) scale(0.965,1.02)" font-size="68.5" text-anchor="end" fill="#2b2b2b">0.0</text>
<text transform="translate(189,1277.3) scale(0.965,1.02)" font-size="68.5" text-anchor="end" fill="#2b2b2b">0.2</text>
<text transform="translate(189,978.1) scale(0.965,1.02)" font-size="68.5" text-anchor="end" fill="#2b2b2b">0.4</text>
<text transform="translate(189,678.9) scale(0.965,1.02)" font-size="68.5" text-anchor="end" fill="#2b2b2b">0.6</text>
<text transform="translate(189,379.7) scale(0.965,1.02)" font-size="68.5" text-anchor="end" fill="#2b2b2b">0.8</text>
<text transform="translate(189,80.5) scale(0.965,1.02)" font-size="68.5" text-anchor="end" fill="#2b2b2b">1.0</text>
<text x="1259.5" y="1721" font-size="89" font-style="italic" fill="#111">Ma<tspan font-style="normal" font-size="63.5" dx="-2" dy="15">∞</tspan></text>
<text transform="translate(67.3,938.4) rotate(-90)" font-size="89" fill="#111">1/<tspan font-style="italic" dx="-3.2">C</tspan><tspan font-style="italic" dx="-2.6">R</tspan><tspan font-size="59" dy="12">geo</tspan></text>
<text x="1240" y="1833" font-size="84" text-anchor="middle" fill="#000">(<tspan font-weight="bold">a</tspan>)</text>
<text x="1081" y="367.7" font-size="65" fill="#111">Kantrowitz Limit</text>
<line x1="1342.5" y1="385.4" x2="1377.1" y2="497.5" stroke="#000" stroke-width="3"/><polygon points="1383.3,517.6 1361.8,502.3 1392.4,492.8" fill="#000"/>
<text x="507" y="1326.9" font-size="65" fill="#111">Isentropic Limit</text>
<line x1="803.3" y1="1270.8" x2="982.2" y2="1179.1" stroke="#000" stroke-width="3"/><polygon points="1000.9,1169.5 989.5,1193.3 974.9,1164.8" fill="#000"/>
<line x1="1518.4" y1="1173.1" x2="1557.0" y2="1053.3" stroke="#000" stroke-width="3"/><polygon points="1563.4,1033.3 1572.2,1058.2 1541.7,1048.4" fill="#000"/>
<rect x="1618" y="130" width="653" height="393" fill="#fff" stroke="#262626" stroke-width="3.5"/>
<line x1="1660" y1="183.5" x2="1766" y2="183.5" stroke="#0e2f4c" stroke-width="5" stroke-dasharray="22 21.5"/>
<line x1="1660" y1="254" x2="1766" y2="254" stroke="#c0157a" stroke-width="5" stroke-dasharray="22 6 9 6"/>
<line x1="1660" y1="324.6" x2="1766" y2="324.6" stroke="#1e7cf2" stroke-width="8" stroke-dasharray="8.5 8"/>
<polygon points="1678.7,395.0 1729.7,366.0 1729.7,424.0" fill="#ff6347"/>
<polygon points="1679.2,465.0 1729.2,436.5 1729.2,493.5" fill="none" stroke="#ff7a66" stroke-width="2" stroke-linejoin="miter"/>
<text x="1780.5" y="204.7" font-size="66" fill="#111">Van Wie</text>
<text x="1783" y="269.3" font-size="66" fill="#111">Flock, <tspan font-style="italic">C</tspan><tspan font-size="46" dy="12">1</tspan><tspan dy="-12">=2.60</tspan></text>
<text x="1785" y="341.7" font-size="66" fill="#111">Mölder, <tspan font-style="italic">SI</tspan>=0.087</text>
<text x="1786" y="409" font-size="66" fill="#111">Start Point</text>
<text x="1786" y="490" font-size="66" fill="#111">Unstart Point</text>
<g clip-path="url(#clipB)">
<line x1="357.5" y1="3158" x2="2366.5" y2="3158" stroke="#1fb25a" stroke-width="5"/>
<line x1="366.5" y1="2214.3" x2="2366.5" y2="2214.3" stroke="#1a1a1a" stroke-width="5" stroke-dasharray="39 14.3"/>
<line x1="357" y1="3335.5" x2="2366.5" y2="3342" stroke="#1a1a1a" stroke-width="5" stroke-dasharray="39 14.3"/>
<polyline points="380.8,2254.0 383.6,2258.2 386.5,2262.3 389.3,2266.4 392.2,2270.5 395.0,2274.5 397.8,2278.5 400.7,2282.4 403.5,2286.4 406.4,2290.3 409.2,2294.2 412.0,2298.0 414.9,2301.8 417.7,2305.6 420.6,2309.4 423.4,2313.1 426.2,2316.8 429.1,2320.5 431.9,2324.2 434.8,2327.8 437.6,2331.5 440.4,2335.1 443.3,2338.7 446.1,2342.2 449.0,2345.8 451.8,2349.3 454.6,2352.8 457.5,2356.3 460.3,2359.8 463.2,2363.2 466.0,2366.7 468.8,2370.1 471.7,2373.5 474.5,2376.9 477.4,2380.3 480.2,2383.7 483.0,2387.0 485.9,2390.4 488.7,2393.7 491.6,2397.1 494.4,2400.4 497.2,2403.7 500.1,2407.0 502.9,2410.3 505.8,2413.6 508.6,2416.9 511.4,2420.2 514.3,2423.5 517.1,2426.8 520.0,2430.1 522.8,2433.4 525.6,2436.6 528.5,2439.9 531.3,2443.2 534.2,2446.5 537.0,2449.8 539.8,2453.1 542.7,2456.4 545.5,2459.7 548.4,2463.0 551.2,2466.3 554.0,2469.6 556.9,2472.9 559.7,2476.2 562.6,2479.5 565.4,2482.9 568.2,2486.2 571.1,2489.6 573.9,2493.0 576.8,2496.3 579.6,2499.7 582.4,2503.1 585.3,2506.5 588.1,2510.0 591.0,2513.4 593.8,2516.8 596.6,2520.2 599.5,2523.7 602.3,2527.1 605.2,2530.5 608.0,2533.9 610.8,2537.4 613.7,2540.8 616.5,2544.2 619.4,2547.7 622.2,2551.1 625.0,2554.5 627.9,2557.9 630.7,2561.3 633.6,2564.7 636.4,2568.1 639.2,2571.4 642.1,2574.8 644.9,2578.1 647.8,2581.5 650.6,2584.8 653.4,2588.1 656.3,2591.4 659.1,2594.7 662.0,2597.9 664.8,2601.2 667.6,2604.4 670.5,2607.6 673.3,2610.8 676.2,2613.9 679.0,2617.1 681.8,2620.2 684.7,2623.3 687.5,2626.4 690.4,2629.4 693.2,2632.5 696.0,2635.5 698.9,2638.6 701.7,2641.6 704.6,2644.6 707.4,2647.6 710.2,2650.6 713.1,2653.6 715.9,2656.5 718.8,2659.5 721.6,2662.4 724.4,2665.4 727.3,2668.3 730.1,2671.3 733.0,2674.2 735.8,2677.1 738.6,2680.0 741.5,2683.0 744.3,2685.9 747.2,2688.8 750.0,2691.7 752.8,2694.7 755.7,2697.6 758.5,2700.5 761.4,2703.5 764.2,2706.4 767.0,2709.4 769.9,2712.3 772.7,2715.3 775.6,2718.3 778.4,2721.2 781.2,2724.2 784.1,2727.2 786.9,2730.2 789.8,2733.2 792.6,2736.2 795.4,2739.2 798.3,2742.2 801.1,2745.2 804.0,2748.1 806.8,2751.1 809.6,2754.1 812.5,2757.0 815.3,2760.0 818.2,2762.9 821.0,2765.8 823.8,2768.7 826.7,2771.5 829.5,2774.4 832.4,2777.2 835.2,2780.0 838.0,2782.8 840.9,2785.6 843.7,2788.3 846.6,2791.0 849.4,2793.7 852.2,2796.3 855.1,2798.9 857.9,2801.5 860.8,2804.1 863.6,2806.7 866.4,2809.2 869.3,2811.7 872.1,2814.2 875.0,2816.6 877.8,2819.1 880.7,2821.5 883.5,2823.9 886.3,2826.3 889.2,2828.7 892.0,2831.0 894.9,2833.4 897.7,2835.7 900.5,2838.0 903.4,2840.3 906.2,2842.6 909.1,2844.9 911.9,2847.1 914.7,2849.4 917.6,2851.6 920.4,2853.9 923.3,2856.1 926.1,2858.3 928.9,2860.5 931.8,2862.8 934.6,2865.0 937.5,2867.2 940.3,2869.4 943.1,2871.6 946.0,2873.7 948.8,2875.9 951.7,2878.1 954.5,2880.3 957.3,2882.4 960.2,2884.6 963.0,2886.7 965.9,2888.9 968.7,2891.0 971.5,2893.1 974.4,2895.3 977.2,2897.4 980.1,2899.5 982.9,2901.6 985.7,2903.7 988.6,2905.8 991.4,2907.9 994.3,2910.0 997.1,2912.0 999.9,2914.1 1002.8,2916.2 1005.6,2918.2 1008.5,2920.3 1011.3,2922.3 1014.1,2924.3 1017.0,2926.4 1019.8,2928.4 1022.7,2930.4 1025.5,2932.4 1028.3,2934.4 1031.2,2936.3 1034.0,2938.3 1036.9,2940.3 1039.7,2942.2 1042.5,2944.2 1045.4,2946.1 1048.2,2948.0 1051.1,2950.0 1053.9,2951.9 1056.7,2953.8 1059.6,2955.7 1062.4,2957.5 1065.3,2959.4 1068.1,2961.3 1070.9,2963.1 1073.8,2964.9 1076.6,2966.8 1079.5,2968.6 1082.3,2970.4 1085.1,2972.2 1088.0,2973.9 1090.8,2975.7 1093.7,2977.4 1096.5,2979.2 1099.3,2980.9 1102.2,2982.6 1105.0,2984.3 1107.9,2986.0 1110.7,2987.6 1113.5,2989.3 1116.4,2990.9 1119.2,2992.6 1122.1,2994.2 1124.9,2995.8 1127.7,2997.3 1130.6,2998.9 1133.4,3000.5 1136.3,3002.0 1139.1,3003.5 1141.9,3005.0 1144.8,3006.5 1147.6,3008.0 1150.5,3009.5 1153.3,3011.0 1156.1,3012.4 1159.0,3013.8 1161.8,3015.2 1164.7,3016.6 1167.5,3018.0 1170.3,3019.4 1173.2,3020.7 1176.0,3022.1 1178.9,3023.4 1181.7,3024.7 1184.5,3026.0 1187.4,3027.3 1190.2,3028.6 1193.1,3029.8 1195.9,3031.1 1198.7,3032.3 1201.6,3033.5 1204.4,3034.7 1207.3,3035.9 1210.1,3037.1 1212.9,3038.2 1215.8,3039.4 1218.6,3040.5 1221.5,3041.6 1224.3,3042.7 1227.1,3043.8 1230.0,3044.9 1232.8,3045.9 1235.7,3046.9 1238.5,3048.0 1241.3,3049.0 1244.2,3050.0 1247.0,3051.0 1249.9,3051.9 1252.7,3052.9 1255.5,3053.8 1258.4,3054.7 1261.2,3055.6 1264.1,3056.5 1266.9,3057.4 1269.7,3058.3 1272.6,3059.1 1275.4,3060.0 1278.3,3060.8 1281.1,3061.6 1283.9,3062.4 1286.8,3063.1 1289.6,3063.9 1292.5,3064.6 1295.3,3065.4 1298.1,3066.1 1301.0,3066.8 1303.8,3067.5 1306.7,3068.1 1309.5,3068.8 1312.3,3069.4 1315.2,3070.1 1318.0,3070.7 1320.9,3071.3 1323.7,3071.9 1326.5,3072.4 1329.4,3073.0 1332.2,3073.5 1335.1,3074.0 1337.9,3074.5 1340.7,3075.0 1343.6,3075.5 1346.4,3075.9 1349.3,3076.4 1352.1,3076.8 1354.9,3077.2 1357.8,3077.6 1360.6,3078.0 1363.5,3078.4 1366.3,3078.7 1369.1,3079.1 1372.0,3079.4 1374.8,3079.7 1377.7,3080.0 1380.5,3080.3 1383.3,3080.5 1386.2,3080.8 1389.0,3081.0 1391.9,3081.3 1394.7,3081.5 1397.5,3081.7 1400.4,3081.8 1403.2,3082.0 1406.1,3082.1 1408.9,3082.3 1411.7,3082.4 1414.6,3082.5 1417.4,3082.6 1420.3,3082.7 1423.1,3082.8 1425.9,3082.8 1428.8,3082.8 1431.6,3082.9 1434.5,3082.9 1437.3,3082.9 1440.1,3082.9 1443.0,3082.8 1445.8,3082.8 1448.7,3082.7 1451.5,3082.7 1454.3,3082.6 1457.2,3082.5 1460.0,3082.4 1462.9,3082.3 1465.7,3082.1 1468.5,3082.0 1471.4,3081.8 1474.2,3081.7 1477.1,3081.5 1479.9,3081.3 1482.7,3081.1 1485.6,3080.9 1488.4,3080.6 1491.3,3080.4 1494.1,3080.1 1496.9,3079.9 1499.8,3079.6 1502.6,3079.3 1505.5,3079.0 1508.3,3078.7 1511.1,3078.3 1514.0,3078.0 1516.8,3077.6 1519.7,3077.3 1522.5,3076.9 1525.3,3076.5 1528.2,3076.1 1531.0,3075.7 1533.9,3075.3 1536.7,3074.8 1539.5,3074.4 1542.4,3073.9 1545.2,3073.5 1548.1,3073.0 1550.9,3072.5 1553.7,3072.0 1556.6,3071.5 1559.4,3070.9 1562.3,3070.4 1565.1,3069.9 1567.9,3069.3 1570.8,3068.7 1573.6,3068.2 1576.5,3067.6 1579.3,3067.0 1582.1,3066.4 1585.0,3065.8 1587.8,3065.1 1590.7,3064.5 1593.5,3063.8 1596.3,3063.2 1599.2,3062.5 1602.0,3061.8 1604.9,3061.1 1607.7,3060.4 1610.5,3059.7 1613.4,3059.0 1616.2,3058.3 1619.1,3057.5 1621.9,3056.8 1624.7,3056.0 1627.6,3055.3 1630.4,3054.5 1633.3,3053.7 1636.1,3052.9 1638.9,3052.1 1641.8,3051.3 1644.6,3050.4 1647.5,3049.6 1650.3,3048.8 1653.1,3047.9 1656.0,3047.0 1658.8,3046.1 1661.7,3045.2 1664.5,3044.3 1667.3,3043.4 1670.2,3042.5 1673.0,3041.6 1675.9,3040.6 1678.7,3039.6 1681.5,3038.7 1684.4,3037.7 1687.2,3036.7 1690.1,3035.7 1692.9,3034.6 1695.7,3033.6 1698.6,3032.5 1701.4,3031.5 1704.3,3030.4 1707.1,3029.3 1709.9,3028.2 1712.8,3027.1 1715.6,3026.0 1718.5,3024.8 1721.3,3023.7 1724.1,3022.5 1727.0,3021.3 1729.8,3020.1 1732.7,3018.9 1735.5,3017.7 1738.3,3016.4 1741.2,3015.1 1744.0,3013.9 1746.9,3012.6 1749.7,3011.3 1752.5,3010.0 1755.4,3008.6 1758.2,3007.3 1761.1,3005.9 1763.9,3004.5 1766.7,3003.1 1769.6,3001.7 1772.4,3000.3 1775.3,2998.8 1778.1,2997.4 1780.9,2995.9 1783.8,2994.4 1786.6,2992.9 1789.5,2991.3 1792.3,2989.8 1795.1,2988.2 1798.0,2986.6 1800.8,2985.0 1803.7,2983.4 1806.5,2981.8 1809.3,2980.1 1812.2,2978.5 1815.0,2976.8 1817.9,2975.1 1820.7,2973.4 1823.5,2971.7 1826.4,2969.9 1829.2,2968.2 1832.1,2966.4 1834.9,2964.7 1837.7,2962.9 1840.6,2961.1 1843.4,2959.3 1846.3,2957.5 1849.1,2955.7 1851.9,2953.9 1854.8,2952.1 1857.6,2950.3 1860.5,2948.4 1863.3,2946.6 1866.1,2944.7 1869.0,2942.9 1871.8,2941.0 1874.7,2939.1 1877.5,2937.2 1880.4,2935.4 1883.2,2933.5 1886.0,2931.5 1888.9,2929.6 1891.7,2927.7 1894.6,2925.8 1897.4,2923.9 1900.2,2921.9 1903.1,2920.0 1905.9,2918.0 1908.8,2916.1 1911.6,2914.1 1914.4,2912.2 1917.3,2910.2 1920.1,2908.2 1923.0,2906.3 1925.8,2904.3 1928.6,2902.3 1931.5,2900.3 1934.3,2898.3 1937.2,2896.3 1940.0,2894.3 1942.8,2892.3 1945.7,2890.3 1948.5,2888.3 1951.4,2886.3 1954.2,2884.2 1957.0,2882.2 1959.9,2880.2 1962.7,2878.2 1965.6,2876.1 1968.4,2874.1 1971.2,2872.1 1974.1,2870.0 1976.9,2868.0 1979.8,2866.0 1982.6,2863.9 1985.4,2861.9 1988.3,2859.9 1991.1,2857.8 1994.0,2855.8 1996.8,2853.7 1999.6,2851.7 2002.5,2849.6 2005.3,2847.6 2008.2,2845.5 2011.0,2843.5 2013.8,2841.4 2016.7,2839.4 2019.5,2837.4 2022.4,2835.3 2025.2,2833.3 2028.0,2831.2 2030.9,2829.2 2033.7,2827.1 2036.6,2825.1 2039.4,2823.1 2042.2,2821.0 2045.1,2819.0 2047.9,2817.0 2050.8,2814.9 2053.6,2812.9 2056.4,2810.9 2059.3,2808.9 2062.1,2806.8 2065.0,2804.8 2067.8,2802.8 2070.6,2800.8 2073.5,2798.8 2076.3,2796.8 2079.2,2794.8 2082.0,2792.7 2084.8,2790.7 2087.7,2788.7 2090.5,2786.7 2093.4,2784.7 2096.2,2782.7 2099.0,2780.7 2101.9,2778.7 2104.7,2776.7 2107.6,2774.7 2110.4,2772.7 2113.2,2770.7 2116.1,2768.7 2118.9,2766.7 2121.8,2764.7 2124.6,2762.7 2127.4,2760.7 2130.3,2758.7 2133.1,2756.6 2136.0,2754.6 2138.8,2752.6 2141.6,2750.6 2144.5,2748.6 2147.3,2746.6 2150.2,2744.6 2153.0,2742.6 2155.8,2740.6 2158.7,2738.6 2161.5,2736.5 2164.4,2734.5 2167.2,2732.5 2170.0,2730.5 2172.9,2728.5 2175.7,2726.4 2178.6,2724.4 2181.4,2722.4 2184.2,2720.3 2187.1,2718.3 2189.9,2716.3 2192.8,2714.2 2195.6,2712.2 2198.4,2710.2 2201.3,2708.1 2204.1,2706.1 2207.0,2704.1 2209.8,2702.0 2212.6,2700.0 2215.5,2698.0 2218.3,2696.0 2221.2,2693.9 2224.0,2691.9 2226.8,2689.9 2229.7,2687.9 2232.5,2685.9 2235.4,2683.9 2238.2,2681.9 2241.0,2679.9 2243.9,2677.9 2246.7,2675.9 2249.6,2673.9 2252.4,2671.9 2255.2,2670.0 2258.1,2668.0 2260.9,2666.0 2263.8,2664.1 2266.6,2662.2 2269.4,2660.2 2272.3,2658.3 2275.1,2656.4 2278.0,2654.4 2280.8,2652.5 2283.6,2650.6 2286.5,2648.8 2289.3,2646.9 2292.2,2645.0 2295.0,2643.2 2297.8,2641.3 2300.7,2639.5 2303.5,2637.6 2306.4,2635.8 2309.2,2634.0 2312.0,2632.2 2314.9,2630.4 2317.7,2628.7 2320.6,2626.9 2323.4,2625.2 2326.2,2623.4 2329.1,2621.7 2331.9,2620.0 2334.8,2618.3 2337.6,2616.6 2340.4,2615.0 2343.3,2613.3 2346.1,2611.7 2349.0,2610.1 2351.8,2608.5 2354.6,2606.9 2357.5,2605.3 2360.3,2603.8 2363.2,2602.2 2366.0,2600.7" fill="none" stroke="#1a96e6" stroke-width="6.8" stroke-dasharray="17.5 18"/>
<polyline points="381.5,2481.0 384.3,2482.2 387.2,2483.5 390.0,2484.8 392.9,2486.2 395.7,2487.6 398.5,2489.0 401.4,2490.4 404.2,2491.9 407.1,2493.3 409.9,2494.9 412.7,2496.4 415.6,2498.0 418.4,2499.5 421.2,2501.2 424.1,2502.8 426.9,2504.5 429.8,2506.1 432.6,2507.8 435.4,2509.6 438.3,2511.3 441.1,2513.1 444.0,2514.9 446.8,2516.7 449.6,2518.5 452.5,2520.3 455.3,2522.2 458.2,2524.0 461.0,2525.9 463.8,2527.8 466.7,2529.7 469.5,2531.7 472.3,2533.6 475.2,2535.6 478.0,2537.5 480.9,2539.5 483.7,2541.5 486.5,2543.5 489.4,2545.5 492.2,2547.5 495.1,2549.5 497.9,2551.5 500.7,2553.5 503.6,2555.6 506.4,2557.6 509.3,2559.7 512.1,2561.7 514.9,2563.8 517.8,2565.8 520.6,2567.9 523.5,2569.9 526.3,2572.0 529.1,2574.1 532.0,2576.1 534.8,2578.2 537.6,2580.2 540.5,2582.3 543.3,2584.3 546.2,2586.4 549.0,2588.4 551.8,2590.5 554.7,2592.5 557.5,2594.5 560.4,2596.5 563.2,2598.6 566.0,2600.6 568.9,2602.6 571.7,2604.5 574.6,2606.5 577.4,2608.5 580.2,2610.4 583.1,2612.4 585.9,2614.4 588.8,2616.3 591.6,2618.2 594.4,2620.2 597.3,2622.1 600.1,2624.0 602.9,2625.9 605.8,2627.8 608.6,2629.7 611.5,2631.6 614.3,2633.5 617.1,2635.4 620.0,2637.3 622.8,2639.2 625.7,2641.1 628.5,2642.9 631.3,2644.8 634.2,2646.7 637.0,2648.6 639.9,2650.4 642.7,2652.3 645.5,2654.2 648.4,2656.0 651.2,2657.9 654.0,2659.8 656.9,2661.6 659.7,2663.5 662.6,2665.3 665.4,2667.2 668.2,2669.1 671.1,2670.9 673.9,2672.8 676.8,2674.7 679.6,2676.6 682.4,2678.4 685.3,2680.3 688.1,2682.2 691.0,2684.1 693.8,2685.9 696.6,2687.8 699.5,2689.7 702.3,2691.6 705.2,2693.5 708.0,2695.4 710.8,2697.3 713.7,2699.2 716.5,2701.1 719.3,2703.0 722.2,2705.0 725.0,2706.9 727.9,2708.8 730.7,2710.8 733.5,2712.7 736.4,2714.6 739.2,2716.6 742.1,2718.5 744.9,2720.5 747.7,2722.5 750.6,2724.4 753.4,2726.4 756.3,2728.3 759.1,2730.3 761.9,2732.3 764.8,2734.2 767.6,2736.2 770.5,2738.2 773.3,2740.2 776.1,2742.2 779.0,2744.1 781.8,2746.1 784.6,2748.1 787.5,2750.1 790.3,2752.0 793.2,2754.0 796.0,2756.0 798.8,2758.0 801.7,2760.0 804.5,2761.9 807.4,2763.9 810.2,2765.9 813.0,2767.9 815.9,2769.8 818.7,2771.8 821.6,2773.8 824.4,2775.7 827.2,2777.7 830.1,2779.7 832.9,2781.6 835.7,2783.6 838.6,2785.5 841.4,2787.5 844.3,2789.4 847.1,2791.3 849.9,2793.3 852.8,2795.2 855.6,2797.1 858.5,2799.1 861.3,2801.0 864.1,2802.9 867.0,2804.8 869.8,2806.7 872.7,2808.6 875.5,2810.5 878.3,2812.5 881.2,2814.4 884.0,2816.3 886.9,2818.2 889.7,2820.1 892.5,2822.0 895.4,2823.9 898.2,2825.8 901.0,2827.6 903.9,2829.5 906.7,2831.4 909.6,2833.3 912.4,2835.2 915.2,2837.1 918.1,2839.0 920.9,2840.9 923.8,2842.8 926.6,2844.7 929.4,2846.6 932.3,2848.5 935.1,2850.4 938.0,2852.3 940.8,2854.2 943.6,2856.1 946.5,2858.0 949.3,2859.9 952.2,2861.8 955.0,2863.7 957.8,2865.6 960.7,2867.5 963.5,2869.4 966.3,2871.3 969.2,2873.2 972.0,2875.1 974.9,2877.1 977.7,2879.0 980.5,2880.9 983.4,2882.8 986.2,2884.8 989.1,2886.7 991.9,2888.6 994.7,2890.6 997.6,2892.5 1000.4,2894.5 1003.3,2896.4 1006.1,2898.4 1008.9,2900.3 1011.8,2902.2 1014.6,2904.2 1017.4,2906.1 1020.3,2908.1 1023.1,2910.0 1026.0,2911.9 1028.8,2913.8 1031.6,2915.7 1034.5,2917.7 1037.3,2919.6 1040.2,2921.5 1043.0,2923.3 1045.8,2925.2 1048.7,2927.1 1051.5,2929.0 1054.4,2930.8 1057.2,2932.7 1060.0,2934.5 1062.9,2936.3 1065.7,2938.1 1068.6,2939.9 1071.4,2941.7 1074.2,2943.5 1077.1,2945.3 1079.9,2947.0 1082.7,2948.7 1085.6,2950.5 1088.4,2952.2 1091.3,2953.8 1094.1,2955.5 1096.9,2957.2 1099.8,2958.8 1102.6,2960.4 1105.5,2962.0 1108.3,2963.6 1111.1,2965.1 1114.0,2966.7 1116.8,2968.2 1119.7,2969.7 1122.5,2971.2 1125.3,2972.7 1128.2,2974.1 1131.0,2975.6 1133.8,2977.1 1136.7,2978.5 1139.5,2980.0 1142.4,2981.4 1145.2,2982.9 1148.0,2984.3 1150.9,2985.8 1153.7,2987.3 1156.6,2988.7 1159.4,2990.2 1162.2,2991.7 1165.1,2993.2 1167.9,2994.7 1170.8,2996.2 1173.6,2997.7 1176.4,2999.2 1179.3,3000.8 1182.1,3002.3 1185.0,3003.8 1187.8,3005.4 1190.6,3006.9 1193.5,3008.5 1196.3,3010.0 1199.1,3011.6 1202.0,3013.1 1204.8,3014.7 1207.7,3016.2 1210.5,3017.8 1213.3,3019.3 1216.2,3020.9 1219.0,3022.4 1221.9,3024.0 1224.7,3025.5 1227.5,3027.1 1230.4,3028.6 1233.2,3030.2 1236.1,3031.7 1238.9,3033.3 1241.7,3034.8 1244.6,3036.3 1247.4,3037.8 1250.3,3039.3 1253.1,3040.8 1255.9,3042.3 1258.8,3043.8 1261.6,3045.3 1264.4,3046.8 1267.3,3048.2 1270.1,3049.7 1273.0,3051.1 1275.8,3052.6 1278.6,3054.0 1281.5,3055.4 1284.3,3056.8 1287.2,3058.2 1290.0,3059.6 1292.8,3061.0 1295.7,3062.4 1298.5,3063.7 1301.4,3065.1 1304.2,3066.4 1307.0,3067.8 1309.9,3069.1 1312.7,3070.4 1315.5,3071.7 1318.4,3072.9 1321.2,3074.2 1324.1,3075.4 1326.9,3076.7 1329.7,3077.9 1332.6,3079.1 1335.4,3080.3 1338.3,3081.5 1341.1,3082.7 1343.9,3083.8 1346.8,3085.0 1349.6,3086.1 1352.5,3087.2 1355.3,3088.3 1358.1,3089.4 1361.0,3090.5 1363.8,3091.6 1366.7,3092.6 1369.5,3093.7 1372.3,3094.7 1375.2,3095.7 1378.0,3096.7 1380.8,3097.7 1383.7,3098.7 1386.5,3099.7 1389.4,3100.7 1392.2,3101.6 1395.0,3102.6 1397.9,3103.5 1400.7,3104.5 1403.6,3105.4 1406.4,3106.3 1409.2,3107.3 1412.1,3108.2 1414.9,3109.1 1417.8,3110.0 1420.6,3110.9 1423.4,3111.7 1426.3,3112.6 1429.1,3113.5 1432.0,3114.4 1434.8,3115.2 1437.6,3116.1 1440.5,3116.9 1443.3,3117.8 1446.1,3118.6 1449.0,3119.4 1451.8,3120.3 1454.7,3121.1 1457.5,3121.9 1460.3,3122.8 1463.2,3123.6 1466.0,3124.4 1468.9,3125.2 1471.7,3126.1 1474.5,3126.9 1477.4,3127.7 1480.2,3128.5 1483.1,3129.3 1485.9,3130.1 1488.7,3130.9 1491.6,3131.7 1494.4,3132.5 1497.2,3133.3 1500.1,3134.1 1502.9,3134.9 1505.8,3135.7 1508.6,3136.5 1511.4,3137.3 1514.3,3138.1 1517.1,3138.8 1520.0,3139.6 1522.8,3140.4 1525.6,3141.2 1528.5,3141.9 1531.3,3142.7 1534.2,3143.5 1537.0,3144.3 1539.8,3145.0 1542.7,3145.8 1545.5,3146.5 1548.4,3147.3 1551.2,3148.0 1554.0,3148.8 1556.9,3149.5 1559.7,3150.3 1562.5,3151.0 1565.4,3151.8 1568.2,3152.5 1571.1,3153.2 1573.9,3154.0 1576.7,3154.7 1579.6,3155.4 1582.4,3156.1 1585.3,3156.9 1588.1,3157.6 1590.9,3158.3 1593.8,3159.0 1596.6,3159.7 1599.5,3160.4 1602.3,3161.1 1605.1,3161.8 1608.0,3162.5 1610.8,3163.2 1613.7,3163.8 1616.5,3164.5 1619.3,3165.2 1622.2,3165.8 1625.0,3166.5 1627.8,3167.1 1630.7,3167.8 1633.5,3168.4 1636.4,3169.0 1639.2,3169.7 1642.0,3170.3 1644.9,3170.9 1647.7,3171.5 1650.6,3172.1 1653.4,3172.7 1656.2,3173.3 1659.1,3173.8 1661.9,3174.4 1664.8,3175.0 1667.6,3175.5 1670.4,3176.1 1673.3,3176.6 1676.1,3177.1 1678.9,3177.6 1681.8,3178.2 1684.6,3178.7 1687.5,3179.1 1690.3,3179.6 1693.1,3180.1 1696.0,3180.6 1698.8,3181.0 1701.7,3181.5 1704.5,3182.0 1707.3,3182.4 1710.2,3182.8 1713.0,3183.3 1715.9,3183.7 1718.7,3184.1 1721.5,3184.5 1724.4,3184.9 1727.2,3185.3 1730.1,3185.7 1732.9,3186.1 1735.7,3186.4 1738.6,3186.8 1741.4,3187.2 1744.2,3187.5 1747.1,3187.9 1749.9,3188.2 1752.8,3188.6 1755.6,3188.9 1758.4,3189.2 1761.3,3189.6 1764.1,3189.9 1767.0,3190.2 1769.8,3190.5 1772.6,3190.8 1775.5,3191.2 1778.3,3191.5 1781.2,3191.8 1784.0,3192.0 1786.8,3192.3 1789.7,3192.6 1792.5,3192.9 1795.3,3193.2 1798.2,3193.5 1801.0,3193.7 1803.9,3194.0 1806.7,3194.3 1809.5,3194.6 1812.4,3194.8 1815.2,3195.1 1818.1,3195.4 1820.9,3195.7 1823.7,3195.9 1826.6,3196.2 1829.4,3196.5 1832.3,3196.8 1835.1,3197.1 1837.9,3197.4 1840.8,3197.8 1843.6,3198.1 1846.5,3198.4 1849.3,3198.8 1852.1,3199.1 1855.0,3199.5 1857.8,3199.8 1860.6,3200.2 1863.5,3200.6 1866.3,3200.9 1869.2,3201.3 1872.0,3201.7 1874.8,3202.1 1877.7,3202.5 1880.5,3202.9 1883.4,3203.3 1886.2,3203.7 1889.0,3204.1 1891.9,3204.5 1894.7,3204.9 1897.6,3205.3 1900.4,3205.7 1903.2,3206.2 1906.1,3206.6 1908.9,3207.0 1911.8,3207.4 1914.6,3207.9 1917.4,3208.3 1920.3,3208.7 1923.1,3209.1 1925.9,3209.6 1928.8,3210.0 1931.6,3210.4 1934.5,3210.8 1937.3,3211.3 1940.1,3211.7 1943.0,3212.1 1945.8,3212.5 1948.7,3213.0 1951.5,3213.4 1954.3,3213.8 1957.2,3214.2 1960.0,3214.7 1962.9,3215.1 1965.7,3215.5 1968.5,3216.0 1971.4,3216.4 1974.2,3216.8 1977.0,3217.3 1979.9,3217.7 1982.7,3218.1 1985.6,3218.6 1988.4,3219.0 1991.2,3219.4 1994.1,3219.9 1996.9,3220.3 1999.8,3220.7 2002.6,3221.2 2005.4,3221.6 2008.3,3222.0 2011.1,3222.5 2014.0,3222.9 2016.8,3223.4 2019.6,3223.8 2022.5,3224.3 2025.3,3224.7 2028.2,3225.2 2031.0,3225.6 2033.8,3226.1 2036.7,3226.5 2039.5,3227.0 2042.3,3227.4 2045.2,3227.9 2048.0,3228.4 2050.9,3228.8 2053.7,3229.3 2056.5,3229.8 2059.4,3230.2 2062.2,3230.7 2065.1,3231.2 2067.9,3231.7 2070.7,3232.1 2073.6,3232.6 2076.4,3233.1 2079.3,3233.6 2082.1,3234.1 2084.9,3234.6 2087.8,3235.2 2090.6,3235.7 2093.5,3236.2 2096.3,3236.8 2099.1,3237.3 2102.0,3237.9 2104.8,3238.4 2107.6,3239.0 2110.5,3239.6 2113.3,3240.1 2116.2,3240.7 2119.0,3241.4 2121.8,3242.0 2124.7,3242.6 2127.5,3243.2 2130.4,3243.9 2133.2,3244.6 2136.0,3245.2 2138.9,3245.9 2141.7,3246.6 2144.6,3247.3 2147.4,3248.1 2150.2,3248.8 2153.1,3249.6 2155.9,3250.3 2158.7,3251.1 2161.6,3251.9 2164.4,3252.7 2167.3,3253.6 2170.1,3254.4 2172.9,3255.3 2175.8,3256.2 2178.6,3257.1 2181.5,3258.0 2184.3,3258.9 2187.1,3259.8 2190.0,3260.8 2192.8,3261.8 2195.7,3262.8 2198.5,3263.8 2201.3,3264.8 2204.2,3265.8 2207.0,3266.9 2209.9,3267.9 2212.7,3269.0 2215.5,3270.1 2218.4,3271.2 2221.2,3272.3 2224.0,3273.4 2226.9,3274.5 2229.7,3275.7 2232.6,3276.8 2235.4,3278.0 2238.2,3279.1 2241.1,3280.3 2243.9,3281.5 2246.8,3282.7 2249.6,3283.9 2252.4,3285.1 2255.3,3286.3 2258.1,3287.5 2261.0,3288.8 2263.8,3290.0 2266.6,3291.2 2269.5,3292.5 2272.3,3293.7 2275.2,3295.0 2278.0,3296.2 2280.8,3297.5 2283.7,3298.7 2286.5,3300.0 2289.3,3301.3 2292.2,3302.5 2295.0,3303.8 2297.9,3305.1 2300.7,3306.3 2303.5,3307.6 2306.4,3308.9 2309.2,3310.1 2312.1,3311.4 2314.9,3312.7 2317.7,3313.9 2320.6,3315.2 2323.4,3316.5 2326.3,3317.7 2329.1,3319.0 2331.9,3320.3 2334.8,3321.5 2337.6,3322.7 2340.4,3324.0 2343.3,3325.2 2346.1,3326.5 2349.0,3327.7 2351.8,3328.9 2354.6,3330.1 2357.5,3331.3 2360.3,3332.5 2363.2,3333.7 2366.0,3334.9" fill="none" stroke="#1b3459" stroke-width="6.8" stroke-dasharray="32 12 6.5 11.5"/>
<polyline points="380.3,2221.3 383.1,2222.3 386.0,2223.3 388.8,2224.3 391.7,2225.3 394.5,2226.4 397.3,2227.4 400.2,2228.4 403.0,2229.4 405.9,2230.4 408.7,2231.5 411.5,2232.5 414.4,2233.5 417.2,2234.6 420.1,2235.6 422.9,2236.7 425.8,2237.7 428.6,2238.8 431.4,2239.9 434.3,2240.9 437.1,2242.0 440.0,2243.1 442.8,2244.1 445.6,2245.2 448.5,2246.3 451.3,2247.4 454.2,2248.5 457.0,2249.6 459.8,2250.7 462.7,2251.8 465.5,2252.9 468.4,2254.0 471.2,2255.1 474.0,2256.3 476.9,2257.4 479.7,2258.5 482.6,2259.6 485.4,2260.8 488.2,2261.9 491.1,2263.1 493.9,2264.2 496.8,2265.3 499.6,2266.5 502.5,2267.7 505.3,2268.8 508.1,2270.0 511.0,2271.1 513.8,2272.3 516.7,2273.5 519.5,2274.7 522.3,2275.8 525.2,2277.0 528.0,2278.2 530.9,2279.4 533.7,2280.6 536.5,2281.8 539.4,2283.0 542.2,2284.2 545.1,2285.4 547.9,2286.6 550.7,2287.8 553.6,2289.0 556.4,2290.2 559.3,2291.4 562.1,2292.6 565.0,2293.9 567.8,2295.1 570.6,2296.3 573.5,2297.6 576.3,2298.8 579.2,2300.0 582.0,2301.3 584.8,2302.5 587.7,2303.8 590.5,2305.0 593.4,2306.3 596.2,2307.5 599.0,2308.8 601.9,2310.0 604.7,2311.3 607.6,2312.5 610.4,2313.8 613.2,2315.1 616.1,2316.4 618.9,2317.6 621.8,2318.9 624.6,2320.2 627.4,2321.5 630.3,2322.7 633.1,2324.0 636.0,2325.3 638.8,2326.6 641.7,2327.9 644.5,2329.2 647.3,2330.5 650.2,2331.8 653.0,2333.1 655.9,2334.4 658.7,2335.7 661.5,2337.0 664.4,2338.3 667.2,2339.6 670.1,2340.9 672.9,2342.2 675.7,2343.6 678.6,2344.9 681.4,2346.2 684.3,2347.5 687.1,2348.8 689.9,2350.2 692.8,2351.5 695.6,2352.8 698.5,2354.2 701.3,2355.5 704.1,2356.8 707.0,2358.2 709.8,2359.5 712.7,2360.8 715.5,2362.2 718.4,2363.5 721.2,2364.9 724.0,2366.2 726.9,2367.6 729.7,2368.9 732.6,2370.3 735.4,2371.6 738.2,2373.0 741.1,2374.3 743.9,2375.7 746.8,2377.0 749.6,2378.4 752.4,2379.7 755.3,2381.1 758.1,2382.5 761.0,2383.8 763.8,2385.2 766.6,2386.6 769.5,2387.9 772.3,2389.3 775.2,2390.7 778.0,2392.0 780.8,2393.4 783.7,2394.8 786.5,2396.1 789.4,2397.5 792.2,2398.9 795.1,2400.3 797.9,2401.6 800.7,2403.0 803.6,2404.4 806.4,2405.8 809.3,2407.2 812.1,2408.5 814.9,2409.9 817.8,2411.3 820.6,2412.7 823.5,2414.1 826.3,2415.5 829.1,2416.8 832.0,2418.2 834.8,2419.6 837.7,2421.0 840.5,2422.4 843.3,2423.8 846.2,2425.2 849.0,2426.5 851.9,2427.9 854.7,2429.3 857.5,2430.7 860.4,2432.1 863.2,2433.5 866.1,2434.9 868.9,2436.3 871.8,2437.7 874.6,2439.1 877.4,2440.4 880.3,2441.8 883.1,2443.2 886.0,2444.6 888.8,2446.0 891.6,2447.4 894.5,2448.8 897.3,2450.2 900.2,2451.6 903.0,2453.0 905.8,2454.4 908.7,2455.8 911.5,2457.2 914.4,2458.5 917.2,2459.9 920.0,2461.3 922.9,2462.7 925.7,2464.1 928.6,2465.5 931.4,2466.9 934.3,2468.3 937.1,2469.7 939.9,2471.1 942.8,2472.5 945.6,2473.9 948.5,2475.2 951.3,2476.6 954.1,2478.0 957.0,2479.4 959.8,2480.8 962.7,2482.2 965.5,2483.6 968.3,2485.0 971.2,2486.3 974.0,2487.7 976.9,2489.1 979.7,2490.5 982.5,2491.9 985.4,2493.3 988.2,2494.6 991.1,2496.0 993.9,2497.4 996.7,2498.8 999.6,2500.2 1002.4,2501.5 1005.3,2502.9 1008.1,2504.3 1011.0,2505.7 1013.8,2507.0 1016.6,2508.4 1019.5,2509.8 1022.3,2511.1 1025.2,2512.5 1028.0,2513.9 1030.8,2515.3 1033.7,2516.6 1036.5,2518.0 1039.4,2519.3 1042.2,2520.7 1045.0,2522.1 1047.9,2523.4 1050.7,2524.8 1053.6,2526.1 1056.4,2527.5 1059.2,2528.9 1062.1,2530.2 1064.9,2531.6 1067.8,2532.9 1070.6,2534.3 1073.4,2535.6 1076.3,2537.0 1079.1,2538.3 1082.0,2539.7 1084.8,2541.0 1087.7,2542.3 1090.5,2543.7 1093.3,2545.0 1096.2,2546.4 1099.0,2547.7 1101.9,2549.0 1104.7,2550.3 1107.5,2551.7 1110.4,2553.0 1113.2,2554.3 1116.1,2555.7 1118.9,2557.0 1121.7,2558.3 1124.6,2559.6 1127.4,2560.9 1130.3,2562.2 1133.1,2563.6 1135.9,2564.9 1138.8,2566.2 1141.6,2567.5 1144.5,2568.8 1147.3,2570.1 1150.1,2571.4 1153.0,2572.7 1155.8,2574.0 1158.7,2575.3 1161.5,2576.6 1164.4,2577.9 1167.2,2579.2 1170.0,2580.5 1172.9,2581.8 1175.7,2583.1 1178.6,2584.4 1181.4,2585.7 1184.2,2586.9 1187.1,2588.2 1189.9,2589.5 1192.8,2590.8 1195.6,2592.1 1198.4,2593.3 1201.3,2594.6 1204.1,2595.9 1207.0,2597.2 1209.8,2598.4 1212.6,2599.7 1215.5,2601.0 1218.3,2602.3 1221.2,2603.5 1224.0,2604.8 1226.9,2606.1 1229.7,2607.3 1232.5,2608.6 1235.4,2609.9 1238.2,2611.1 1241.1,2612.4 1243.9,2613.6 1246.7,2614.9 1249.6,2616.1 1252.4,2617.4 1255.3,2618.7 1258.1,2619.9 1260.9,2621.2 1263.8,2622.4 1266.6,2623.7 1269.5,2624.9 1272.3,2626.2 1275.1,2627.4 1278.0,2628.7 1280.8,2629.9 1283.7,2631.1 1286.5,2632.4 1289.3,2633.6 1292.2,2634.9 1295.0,2636.1 1297.9,2637.4 1300.7,2638.6 1303.6,2639.8 1306.4,2641.1 1309.2,2642.3 1312.1,2643.5 1314.9,2644.8 1317.8,2646.0 1320.6,2647.2 1323.4,2648.5 1326.3,2649.7 1329.1,2650.9 1332.0,2652.2 1334.8,2653.4 1337.6,2654.6 1340.5,2655.9 1343.3,2657.1 1346.2,2658.3 1349.0,2659.5 1351.8,2660.8 1354.7,2662.0 1357.5,2663.2 1360.4,2664.4 1363.2,2665.7 1366.0,2666.9 1368.9,2668.1 1371.7,2669.3 1374.6,2670.6 1377.4,2671.8 1380.3,2673.0 1383.1,2674.2 1385.9,2675.4 1388.8,2676.7 1391.6,2677.9 1394.5,2679.1 1397.3,2680.3 1400.1,2681.5 1403.0,2682.7 1405.8,2684.0 1408.7,2685.2 1411.5,2686.4 1414.3,2687.6 1417.2,2688.8 1420.0,2690.0 1422.9,2691.3 1425.7,2692.5 1428.5,2693.7 1431.4,2694.9 1434.2,2696.1 1437.1,2697.3 1439.9,2698.5 1442.7,2699.8 1445.6,2701.0 1448.4,2702.2 1451.3,2703.4 1454.1,2704.6 1457.0,2705.8 1459.8,2707.0 1462.6,2708.2 1465.5,2709.5 1468.3,2710.7 1471.2,2711.9 1474.0,2713.1 1476.8,2714.3 1479.7,2715.5 1482.5,2716.7 1485.4,2717.9 1488.2,2719.2 1491.0,2720.4 1493.9,2721.6 1496.7,2722.8 1499.6,2724.0 1502.4,2725.2 1505.2,2726.4 1508.1,2727.7 1510.9,2728.9 1513.8,2730.1 1516.6,2731.3 1519.4,2732.5 1522.3,2733.7 1525.1,2734.9 1528.0,2736.2 1530.8,2737.4 1533.7,2738.6 1536.5,2739.8 1539.3,2741.0 1542.2,2742.2 1545.0,2743.4 1547.9,2744.7 1550.7,2745.9 1553.5,2747.1 1556.4,2748.3 1559.2,2749.5 1562.1,2750.8 1564.9,2752.0 1567.7,2753.2 1570.6,2754.4 1573.4,2755.6 1576.3,2756.9 1579.1,2758.1 1581.9,2759.3 1584.8,2760.5 1587.6,2761.7 1590.5,2763.0 1593.3,2764.2 1596.2,2765.4 1599.0,2766.6 1601.8,2767.9 1604.7,2769.1 1607.5,2770.3 1610.4,2771.5 1613.2,2772.7 1616.0,2773.9 1618.9,2775.2 1621.7,2776.4 1624.6,2777.6 1627.4,2778.8 1630.2,2780.0 1633.1,2781.2 1635.9,2782.4 1638.8,2783.6 1641.6,2784.8 1644.4,2786.0 1647.3,2787.2 1650.1,2788.4 1653.0,2789.6 1655.8,2790.8 1658.6,2792.0 1661.5,2793.2 1664.3,2794.4 1667.2,2795.6 1670.0,2796.8 1672.9,2797.9 1675.7,2799.1 1678.5,2800.3 1681.4,2801.4 1684.2,2802.6 1687.1,2803.8 1689.9,2804.9 1692.7,2806.1 1695.6,2807.2 1698.4,2808.4 1701.3,2809.5 1704.1,2810.7 1706.9,2811.8 1709.8,2812.9 1712.6,2814.1 1715.5,2815.2 1718.3,2816.3 1721.1,2817.4 1724.0,2818.5 1726.8,2819.7 1729.7,2820.8 1732.5,2821.9 1735.3,2822.9 1738.2,2824.0 1741.0,2825.1 1743.9,2826.2 1746.7,2827.3 1749.6,2828.3 1752.4,2829.4 1755.2,2830.5 1758.1,2831.5 1760.9,2832.6 1763.8,2833.6 1766.6,2834.7 1769.4,2835.8 1772.3,2836.8 1775.1,2837.9 1778.0,2839.0 1780.8,2840.1 1783.6,2841.2 1786.5,2842.3 1789.3,2843.4 1792.2,2844.5 1795.0,2845.6 1797.8,2846.7 1800.7,2847.9 1803.5,2849.1 1806.4,2850.2 1809.2,2851.4 1812.0,2852.6 1814.9,2853.8 1817.7,2855.1 1820.6,2856.3 1823.4,2857.6 1826.3,2858.9 1829.1,2860.1 1831.9,2861.4 1834.8,2862.7 1837.6,2864.1 1840.5,2865.4 1843.3,2866.7 1846.1,2868.1 1849.0,2869.5 1851.8,2870.8 1854.7,2872.2 1857.5,2873.6 1860.3,2875.0 1863.2,2876.4 1866.0,2877.8 1868.9,2879.2 1871.7,2880.7 1874.5,2882.1 1877.4,2883.5 1880.2,2885.0 1883.1,2886.4 1885.9,2887.9 1888.8,2889.3 1891.6,2890.8 1894.4,2892.2 1897.3,2893.7 1900.1,2895.2 1903.0,2896.7 1905.8,2898.1 1908.6,2899.6 1911.5,2901.1 1914.3,2902.5 1917.2,2904.0 1920.0,2905.5 1922.8,2906.9 1925.7,2908.4 1928.5,2909.9 1931.4,2911.3 1934.2,2912.8 1937.0,2914.2 1939.9,2915.7 1942.7,2917.1 1945.6,2918.5 1948.4,2920.0 1951.2,2921.4 1954.1,2922.9 1956.9,2924.3 1959.8,2925.7 1962.6,2927.2 1965.5,2928.6 1968.3,2930.1 1971.1,2931.5 1974.0,2933.0 1976.8,2934.4 1979.7,2935.9 1982.5,2937.3 1985.3,2938.8 1988.2,2940.3 1991.0,2941.7 1993.9,2943.2 1996.7,2944.7 1999.5,2946.2 2002.4,2947.7 2005.2,2949.2 2008.1,2950.7 2010.9,2952.2 2013.7,2953.7 2016.6,2955.3 2019.4,2956.8 2022.3,2958.3 2025.1,2959.9 2027.9,2961.5 2030.8,2963.1 2033.6,2964.7 2036.5,2966.3 2039.3,2967.9 2042.2,2969.5 2045.0,2971.1 2047.8,2972.8 2050.7,2974.5 2053.5,2976.1 2056.4,2977.8 2059.2,2979.5 2062.0,2981.3 2064.9,2983.0 2067.7,2984.8 2070.6,2986.5 2073.4,2988.3 2076.2,2990.1 2079.1,2991.9 2081.9,2993.8 2084.8,2995.6 2087.6,2997.5 2090.4,2999.4 2093.3,3001.3 2096.1,3003.2 2099.0,3005.1 2101.8,3007.1 2104.6,3009.0 2107.5,3011.0 2110.3,3013.0 2113.2,3015.1 2116.0,3017.1 2118.9,3019.2 2121.7,3021.3 2124.5,3023.4 2127.4,3025.5 2130.2,3027.7 2133.1,3029.8 2135.9,3032.0 2138.7,3034.3 2141.6,3036.5 2144.4,3038.8 2147.3,3041.0 2150.1,3043.3 2152.9,3045.7 2155.8,3048.0 2158.6,3050.4 2161.5,3052.8 2164.3,3055.2 2167.1,3057.7 2170.0,3060.2 2172.8,3062.7 2175.7,3065.2 2178.5,3067.7 2181.3,3070.3 2184.2,3072.9 2187.0,3075.6 2189.9,3078.2 2192.7,3080.9 2195.6,3083.6 2198.4,3086.3 2201.2,3089.1 2204.1,3091.9 2206.9,3094.7 2209.8,3097.6 2212.6,3100.5 2215.4,3103.4 2218.3,3106.3 2221.1,3109.3 2224.0,3112.3 2226.8,3115.3 2229.6,3118.4 2232.5,3121.5 2235.3,3124.6 2238.2,3127.8 2241.0,3130.9 2243.8,3134.2 2246.7,3137.4 2249.5,3140.7 2252.4,3144.0 2255.2,3147.4 2258.1,3150.7 2260.9,3154.2 2263.7,3157.6 2266.6,3161.1 2269.4,3164.6 2272.3,3168.1 2275.1,3171.6 2277.9,3175.1 2280.8,3178.6 2283.6,3182.1 2286.5,3185.7 2289.3,3189.2 2292.1,3192.7 2295.0,3196.2 2297.8,3199.7 2300.7,3203.1 2303.5,3206.5 2306.3,3209.9 2309.2,3213.3 2312.0,3216.6 2314.9,3219.8 2317.7,3223.1 2320.5,3226.2 2323.4,3229.4 2326.2,3232.4 2329.1,3235.4 2331.9,3238.3 2334.8,3241.2 2337.6,3244.0 2340.4,3246.7 2343.3,3249.3 2346.1,3251.9 2349.0,3254.3 2351.8,3256.7 2354.6,3258.9 2357.5,3261.1 2360.3,3263.1 2363.2,3265.1 2366.0,3266.9" fill="none" stroke="#e8293d" stroke-width="6.8" stroke-dasharray="38 22 8.5 21.5 8.5 21.5"/>
</g>
<path d="M427.0,3497.7V3482.7M515.2,3497.7V3467.7M603.4,3497.7V3482.7M691.5,3497.7V3482.7M779.7,3497.7V3467.7M867.8,3497.7V3482.7M956.0,3497.7V3482.7M1044.1,3497.7V3467.7M1132.3,3497.7V3482.7M1220.4,3497.7V3482.7M1308.6,3497.7V3467.7M1396.7,3497.7V3482.7M1484.9,3497.7V3482.7M1573.0,3497.7V3467.7M1661.2,3497.7V3482.7M1749.3,3497.7V3482.7M1837.5,3497.7V3467.7M1925.7,3497.7V3482.7M2013.8,3497.7V3482.7M2102.0,3497.7V3467.7M2190.1,3497.7V3482.7M2278.3,3497.7V3482.7M357.5,3440.6H387.5M357.5,3369.6H372.5M357.5,3298.6H372.5M357.5,3227.5H372.5M357.5,3156.5H387.5M357.5,3085.5H372.5M357.5,3014.4H372.5M357.5,2943.4H372.5M357.5,2872.4H387.5M357.5,2801.4H372.5M357.5,2730.3H372.5M357.5,2659.3H372.5M357.5,2588.3H387.5M357.5,2517.3H372.5M357.5,2446.2H372.5M357.5,2375.2H372.5M357.5,2304.2H387.5M357.5,2233.2H372.5M357.5,2162.1H372.5M357.5,2091.1H372.5M357.5,2020.1H387.5M357.5,1949.1H372.5" stroke="#111" stroke-width="4.5" fill="none"/>
<rect x="357.5" y="1878.0" width="2009.0" height="1619.6999999999998" fill="none" stroke="#111" stroke-width="5"/>
<text transform="translate(515.2,3591.4) scale(0.96,1)" font-size="80" text-anchor="middle" fill="#111">3.4</text>
<text transform="translate(779.7,3591.4) scale(0.96,1)" font-size="80" text-anchor="middle" fill="#111">3.6</text>
<text transform="translate(1044.1,3591.4) scale(0.96,1)" font-size="80" text-anchor="middle" fill="#111">3.8</text>
<text transform="translate(1308.6,3591.4) scale(0.96,1)" font-size="80" text-anchor="middle" fill="#111">4.0</text>
<text transform="translate(1573.0,3591.4) scale(0.96,1)" font-size="80" text-anchor="middle" fill="#111">4.2</text>
<text transform="translate(1837.5,3591.4) scale(0.96,1)" font-size="80" text-anchor="middle" fill="#111">4.4</text>
<text transform="translate(2102.0,3591.4) scale(0.96,1)" font-size="80" text-anchor="middle" fill="#111">4.6</text>
<text transform="translate(2366.4,3591.4) scale(0.96,1)" font-size="80" text-anchor="middle" fill="#111">4.8</text>
<text transform="translate(320.5,3463.1) scale(0.95,1)" font-size="80" text-anchor="end" fill="#111">−0.02</text>
<text transform="translate(320.5,3179.0) scale(0.95,1)" font-size="80" text-anchor="end" fill="#111">0.00</text>
<text transform="translate(320.5,2894.9) scale(0.95,1)" font-size="80" text-anchor="end" fill="#111">0.02</text>
<text transform="translate(320.5,2610.8) scale(0.95,1)" font-size="80" text-anchor="end" fill="#111">0.04</text>
<text transform="translate(320.5,2326.7) scale(0.95,1)" font-size="80" text-anchor="end" fill="#111">0.06</text>
<text transform="translate(320.5,2042.6) scale(0.95,1)" font-size="80" text-anchor="end" fill="#111">0.08</text>
<text x="1341.4" y="3677.7" font-size="99" font-style="italic" fill="#111">Ma<tspan font-style="normal" font-size="74" dy="26.5">∞</tspan></text>
<text transform="translate(137.9,2724.5) rotate(-90)" font-size="102" fill="#111">δ<tspan font-size="65" dx="-6" dy="22">dev</tspan></text>
<text x="1240" y="3797" font-size="88" text-anchor="middle" fill="#000">(<tspan font-weight="bold">b</tspan>)</text>
<text x="727" y="2185.4" font-size="74" fill="#111">+6.6%</text>
<text x="727" y="3307" font-size="74" fill="#111">−1.3%</text>
<rect x="1486.5" y="1905.2" width="778.8" height="274.6" fill="#fff" stroke="#222" stroke-width="3.5"/>
<line x1="1524" y1="1948.8" x2="1702" y2="1948.8" stroke="#e8293d" stroke-width="7" stroke-dasharray="40 21 12 21 12 22"/>
<line x1="1524" y1="2041" x2="1702" y2="2041" stroke="#1a96e6" stroke-width="7" stroke-dasharray="22 17.5"/>
<line x1="1524" y1="2134" x2="1702" y2="2134" stroke="#1b3459" stroke-width="7" stroke-dasharray="34 13 9 14"/>
<text x="1733" y="1974.5" font-size="72" fill="#111">Mölder, <tspan font-style="italic">SI</tspan>=0.087</text>
<text x="1736" y="2064" font-size="72" fill="#111">Flock, <tspan font-style="italic">C</tspan><tspan font-size="50" dy="13">1</tspan><tspan dy="-13">=2.60</tspan></text>
<text x="1748" y="2155.5" font-size="72" fill="#111">Van Wie</text>
</svg></body></html>
